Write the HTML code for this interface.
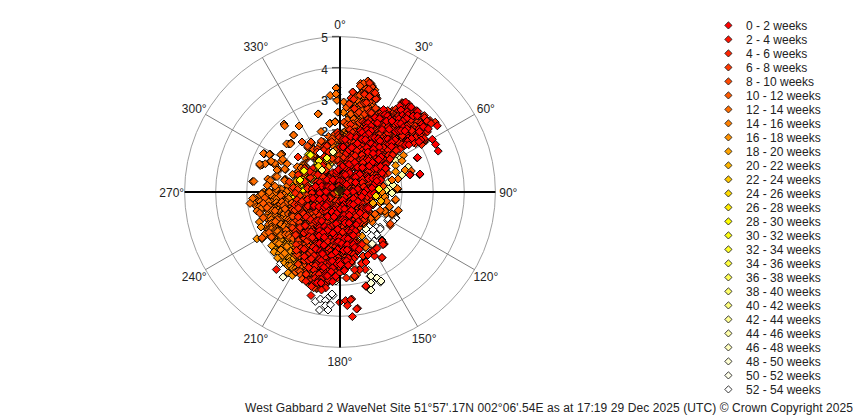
<!DOCTYPE html>
<html><head><meta charset="utf-8"><style>html,body{margin:0;padding:0;background:#fff;width:860px;height:415px;overflow:hidden;position:relative}</style></head>
<body><svg width="860" height="415" viewBox="0 0 860 415" style="position:absolute;left:0;top:0">
<g><circle cx="340" cy="192" r="31.1" fill="none" stroke="#a0a0a0" stroke-width="1"/><circle cx="340" cy="192" r="62.2" fill="none" stroke="#a0a0a0" stroke-width="1"/><circle cx="340" cy="192" r="93.2" fill="none" stroke="#a0a0a0" stroke-width="1"/><circle cx="340" cy="192" r="124.3" fill="none" stroke="#a0a0a0" stroke-width="1"/><circle cx="340" cy="192" r="155.4" fill="none" stroke="#a0a0a0" stroke-width="1"/><line x1="340" y1="192" x2="417.7" y2="57.4" stroke="#808080" stroke-width="1"/><line x1="340" y1="192" x2="474.6" y2="114.3" stroke="#808080" stroke-width="1"/><line x1="340" y1="192" x2="474.6" y2="269.7" stroke="#808080" stroke-width="1"/><line x1="340" y1="192" x2="417.7" y2="326.6" stroke="#808080" stroke-width="1"/><line x1="340" y1="192" x2="262.3" y2="326.6" stroke="#808080" stroke-width="1"/><line x1="340" y1="192" x2="205.4" y2="269.7" stroke="#808080" stroke-width="1"/><line x1="340" y1="192" x2="205.4" y2="114.3" stroke="#808080" stroke-width="1"/><line x1="340" y1="192" x2="262.3" y2="57.4" stroke="#808080" stroke-width="1"/></g>
<g><line x1="340" y1="36.599999999999994" x2="340" y2="347.4" stroke="#000" stroke-width="2"/><line x1="184.6" y1="192" x2="495.4" y2="192" stroke="#000" stroke-width="2"/></g>
<g fill="#222" font-family="Liberation Sans, sans-serif" font-size="12"><line x1="332" y1="160.9" x2="339" y2="160.9" stroke="#555" stroke-width="1.5"/><text x="328" y="166.7" text-anchor="end">1</text><line x1="332" y1="129.8" x2="339" y2="129.8" stroke="#555" stroke-width="1.5"/><text x="328" y="135.6" text-anchor="end">2</text><line x1="332" y1="98.8" x2="339" y2="98.8" stroke="#555" stroke-width="1.5"/><text x="328" y="104.6" text-anchor="end">3</text><line x1="332" y1="67.7" x2="339" y2="67.7" stroke="#555" stroke-width="1.5"/><text x="328" y="73.5" text-anchor="end">4</text><line x1="332" y1="36.6" x2="339" y2="36.6" stroke="#555" stroke-width="1.5"/><text x="328" y="42.4" text-anchor="end">5</text></g>
<g stroke="#000" stroke-width="0.95"><path d="M338.4 144.4L342.4 148.4L338.4 152.4L334.4 148.4Z" fill="#ffffff"/><path d="M331.9 158.8L335.9 162.8L331.9 166.8L327.9 162.8Z" fill="#ffffff"/><path d="M336.8 159.4L340.8 163.4L336.8 167.4L332.8 163.4Z" fill="#ffffff"/><path d="M318.3 163.3L322.3 167.3L318.3 171.3L314.3 167.3Z" fill="#ffffff"/><path d="M322.0 164.5L326.0 168.5L322.0 172.5L318.0 168.5Z" fill="#ffffff"/><path d="M293.4 177.8L297.4 181.8L293.4 185.8L289.4 181.8Z" fill="#ffffff"/><path d="M292.9 182.1L296.9 186.1L292.9 190.1L288.9 186.1Z" fill="#ffffff"/><path d="M387.7 216.5L391.7 220.5L387.7 224.5L383.7 220.5Z" fill="#ffffff"/><path d="M393.6 216.5L397.6 220.5L393.6 224.5L389.6 220.5Z" fill="#ffffff"/><path d="M396.0 214.0L400.0 218.0L396.0 222.0L392.0 218.0Z" fill="#ffffff"/><path d="M375.0 226.6L379.0 230.6L375.0 234.6L371.0 230.6Z" fill="#ffffff"/><path d="M380.0 223.2L384.0 227.2L380.0 231.2L376.0 227.2Z" fill="#ffffff"/><path d="M376.7 231.6L380.7 235.6L376.7 239.6L372.7 235.6Z" fill="#ffffff"/><path d="M315.3 297.4L319.3 301.4L315.3 305.4L311.3 301.4Z" fill="#ffffff"/><path d="M320.4 295.0L324.4 299.0L320.4 303.0L316.4 299.0Z" fill="#ffffff"/><path d="M325.4 296.6L329.4 300.6L325.4 304.6L321.4 300.6Z" fill="#ffffff"/><path d="M329.6 292.4L333.6 296.4L329.6 300.4L325.6 296.4Z" fill="#ffffff"/><path d="M333.0 291.5L337.0 295.5L333.0 299.5L329.0 295.5Z" fill="#ffffff"/><path d="M325.4 301.6L329.4 305.6L325.4 309.6L321.4 305.6Z" fill="#ffffff"/><path d="M330.5 300.8L334.5 304.8L330.5 308.8L326.5 304.8Z" fill="#ffffff"/><path d="M319.5 306.0L323.5 310.0L319.5 314.0L315.5 310.0Z" fill="#ffffff"/><path d="M328.0 306.0L332.0 310.0L328.0 314.0L324.0 310.0Z" fill="#ffffff"/><path d="M280.5 259.6L284.5 263.6L280.5 267.6L276.5 263.6Z" fill="#ffffff"/><path d="M332.0 290.0L336.0 294.0L332.0 298.0L328.0 294.0Z" fill="#ffffff"/><path d="M395.7 214.4L399.7 218.4L395.7 222.4L391.7 218.4Z" fill="#ffffff"/><path d="M388.5 215.3L392.5 219.3L388.5 223.3L384.5 219.3Z" fill="#ffffff"/><path d="M393.0 217.0L397.0 221.0L393.0 225.0L389.0 221.0Z" fill="#ffffff"/><path d="M376.7 223.4L380.7 227.4L376.7 231.4L372.7 227.4Z" fill="#ffffff"/><path d="M373.0 226.0L377.0 230.0L373.0 234.0L369.0 230.0Z" fill="#ffffff"/><path d="M380.3 225.0L384.3 229.0L380.3 233.0L376.3 229.0Z" fill="#ffffff"/><path d="M376.7 230.7L380.7 234.7L376.7 238.7L372.7 234.7Z" fill="#ffffff"/><path d="M371.3 231.6L375.3 235.6L371.3 239.6L367.3 235.6Z" fill="#ffffff"/><path d="M360.4 239.7L364.4 243.7L360.4 247.7L356.4 243.7Z" fill="#ffffff"/><path d="M314.5 169.3L318.5 173.3L314.5 177.3L310.5 173.3Z" fill="#ffffd4"/><path d="M320.4 171.4L324.4 175.4L320.4 179.4L316.4 175.4Z" fill="#ffffd4"/><path d="M298.5 175.2L302.5 179.2L298.5 183.2L294.5 179.2Z" fill="#ffffd4"/><path d="M314.5 175.9L318.5 179.9L314.5 183.9L310.5 179.9Z" fill="#ffffd4"/><path d="M307.9 177.1L311.9 181.1L307.9 185.1L303.9 181.1Z" fill="#ffffd4"/><path d="M310.9 180.6L314.9 184.6L310.9 188.6L306.9 184.6Z" fill="#ffffd4"/><path d="M317.4 150.5L321.4 154.5L317.4 158.5L313.4 154.5Z" fill="#ffffd4"/><path d="M310.3 157.7L314.3 161.7L310.3 165.7L306.3 161.7Z" fill="#ffffd4"/><path d="M372.5 241.0L376.5 245.0L372.5 249.0L368.5 245.0Z" fill="#ffffd4"/><path d="M372.0 241.0L376.0 245.0L372.0 249.0L368.0 245.0Z" fill="#ffffd4"/><path d="M368.5 266.4L372.5 270.4L368.5 274.4L364.5 270.4Z" fill="#ffffd4"/><path d="M354.2 263.8L358.2 267.8L354.2 271.8L350.2 267.8Z" fill="#ffffd4"/><path d="M370.2 272.3L374.2 276.3L370.2 280.3L366.2 276.3Z" fill="#ffffd4"/><path d="M376.1 274.0L380.1 278.0L376.1 282.0L372.1 278.0Z" fill="#ffffd4"/><path d="M380.4 278.2L384.4 282.2L380.4 286.2L376.4 282.2Z" fill="#ffffd4"/><path d="M371.0 279.8L375.0 283.8L371.0 287.8L367.0 283.8Z" fill="#ffffd4"/><path d="M370.2 285.7L374.2 289.7L370.2 293.7L366.2 289.7Z" fill="#ffffd4"/><path d="M283.0 273.1L287.0 277.1L283.0 281.1L279.0 277.1Z" fill="#ffffd4"/><path d="M371.0 240.2L375.0 244.2L371.0 248.2L367.0 244.2Z" fill="#ffffd4"/><path d="M371.0 272.0L375.0 276.0L371.0 280.0L367.0 276.0Z" fill="#ffffd4"/><path d="M377.0 274.0L381.0 278.0L377.0 282.0L373.0 278.0Z" fill="#ffffd4"/><path d="M381.0 277.0L385.0 281.0L381.0 285.0L377.0 281.0Z" fill="#ffffd4"/><path d="M371.0 279.0L375.0 283.0L371.0 287.0L367.0 283.0Z" fill="#ffffd4"/><path d="M371.0 286.0L375.0 290.0L371.0 294.0L367.0 290.0Z" fill="#ffffd4"/><path d="M336.0 277.0L340.0 281.0L336.0 285.0L332.0 281.0Z" fill="#ffffd4"/><path d="M372.2 239.7L376.2 243.7L372.2 247.7L368.2 243.7Z" fill="#ffffd4"/><path d="M366.0 225.0L370.0 229.0L366.0 233.0L362.0 229.0Z" fill="#ffffd4"/><path d="M340.8 148.3L344.8 152.3L340.8 156.3L336.8 152.3Z" fill="#ffffaa"/><path d="M330.1 150.0L334.1 154.0L330.1 158.0L326.1 154.0Z" fill="#ffffaa"/><path d="M317.4 161.3L321.4 165.3L317.4 169.3L313.4 165.3Z" fill="#ffffaa"/><path d="M319.5 168.5L323.5 172.5L319.5 176.5L315.5 172.5Z" fill="#ffffaa"/><path d="M311.4 179.3L315.4 183.3L311.4 187.3L307.4 183.3Z" fill="#ffffaa"/><path d="M319.0 149.7L323.0 153.7L319.0 157.7L315.0 153.7Z" fill="#ffffaa"/><path d="M388.5 187.0L392.5 191.0L388.5 195.0L384.5 191.0Z" fill="#ffffaa"/><path d="M392.0 188.6L396.0 192.6L392.0 196.6L388.0 192.6Z" fill="#ffffaa"/><path d="M383.5 197.0L387.5 201.0L383.5 205.0L379.5 201.0Z" fill="#ffffaa"/><path d="M380.0 196.0L384.0 200.0L380.0 204.0L376.0 200.0Z" fill="#ffffaa"/><path d="M409.8 131.7L413.8 135.7L409.8 139.7L405.8 135.7Z" fill="#ffffaa"/><path d="M413.0 127.8L417.0 131.8L413.0 135.8L409.0 131.8Z" fill="#ffffaa"/><path d="M425.5 127.8L429.5 131.8L425.5 135.8L421.5 131.8Z" fill="#ffffaa"/><path d="M425.5 137.0L429.5 141.0L425.5 145.0L421.5 141.0Z" fill="#ffffaa"/><path d="M397.0 152.8L401.0 156.8L397.0 160.8L393.0 156.8Z" fill="#ffffaa"/><path d="M400.4 154.4L404.4 158.4L400.4 162.4L396.4 158.4Z" fill="#ffffaa"/><path d="M408.2 163.0L412.2 167.0L408.2 171.0L404.2 167.0Z" fill="#ffffaa"/><path d="M402.0 170.9L406.0 174.9L402.0 178.9L398.0 174.9Z" fill="#ffffaa"/><path d="M395.7 156.8L399.7 160.8L395.7 164.8L391.7 160.8Z" fill="#ffffaa"/><path d="M388.5 184.6L392.5 188.6L388.5 192.6L384.5 188.6Z" fill="#ffffaa"/><path d="M392.0 189.0L396.0 193.0L392.0 197.0L388.0 193.0Z" fill="#ffffaa"/><path d="M384.8 191.0L388.8 195.0L384.8 199.0L380.8 195.0Z" fill="#ffffaa"/><path d="M388.5 178.0L392.5 182.0L388.5 186.0L384.5 182.0Z" fill="#ffffaa"/><path d="M393.0 181.0L397.0 185.0L393.0 189.0L389.0 185.0Z" fill="#ffffaa"/><path d="M337.3 142.7L341.3 146.7L337.3 150.7L333.3 146.7Z" fill="#ffff80"/><path d="M334.5 147.2L338.5 151.2L334.5 155.2L330.5 151.2Z" fill="#ffff80"/><path d="M333.9 150.9L337.9 154.9L333.9 158.9L329.9 154.9Z" fill="#ffff80"/><path d="M327.7 153.0L331.7 157.0L327.7 161.0L323.7 157.0Z" fill="#ffff80"/><path d="M325.2 164.9L329.2 168.9L325.2 172.9L321.2 168.9Z" fill="#ffff80"/><path d="M307.3 168.7L311.3 172.7L307.3 176.7L303.3 172.7Z" fill="#ffff80"/><path d="M300.8 171.8L304.8 175.8L300.8 179.8L296.8 175.8Z" fill="#ffff80"/><path d="M318.0 175.2L322.0 179.2L318.0 183.2L314.0 179.2Z" fill="#ffff80"/><path d="M297.8 181.2L301.8 185.2L297.8 189.2L293.8 185.2Z" fill="#ffff80"/><path d="M286.1 185.1L290.1 189.1L286.1 193.1L282.1 189.1Z" fill="#ffff80"/><path d="M386.0 186.0L390.0 190.0L386.0 194.0L382.0 190.0Z" fill="#ffff80"/><path d="M322.9 154.6L326.9 158.6L322.9 162.6L318.9 158.6Z" fill="#ffff55"/><path d="M322.1 157.2L326.1 161.2L322.1 165.2L318.1 161.2Z" fill="#ffff55"/><path d="M330.5 159.2L334.5 163.2L330.5 167.2L326.5 163.2Z" fill="#ffff55"/><path d="M297.2 175.5L301.2 179.5L297.2 183.5L293.2 179.5Z" fill="#ffff55"/><path d="M307.6 179.6L311.6 183.6L307.6 187.6L303.6 183.6Z" fill="#ffff55"/><path d="M294.5 187.7L298.5 191.7L294.5 195.7L290.5 191.7Z" fill="#ffff55"/><path d="M290.1 190.7L294.1 194.7L290.1 198.7L286.1 194.7Z" fill="#ffff55"/><path d="M328.8 149.4L332.8 153.4L328.8 157.4L324.8 153.4Z" fill="#ffff2a"/><path d="M325.8 155.5L329.8 159.5L325.8 163.5L321.8 159.5Z" fill="#ffff2a"/><path d="M307.5 172.8L311.5 176.8L307.5 180.8L303.5 176.8Z" fill="#ffff2a"/><path d="M311.8 173.2L315.8 177.2L311.8 181.2L307.8 177.2Z" fill="#ffff2a"/><path d="M313.5 176.0L317.5 180.0L313.5 184.0L309.5 180.0Z" fill="#ffff2a"/><path d="M304.2 181.3L308.2 185.3L304.2 189.3L300.2 185.3Z" fill="#ffff2a"/><path d="M342.8 151.0L346.8 155.0L342.8 159.0L338.8 155.0Z" fill="#ffff15"/><path d="M339.0 153.7L343.0 157.7L339.0 161.7L335.0 157.7Z" fill="#ffff15"/><path d="M326.7 162.5L330.7 166.5L326.7 170.5L322.7 166.5Z" fill="#ffff15"/><path d="M313.4 165.3L317.4 169.3L313.4 173.3L309.4 169.3Z" fill="#ffff15"/><path d="M305.6 179.5L309.6 183.5L305.6 187.5L301.6 183.5Z" fill="#ffff15"/><path d="M300.2 183.1L304.2 187.1L300.2 191.1L296.2 187.1Z" fill="#ffff15"/><path d="M336.6 150.1L340.6 154.1L336.6 158.1L332.6 154.1Z" fill="#ffff00"/><path d="M322.5 157.2L326.5 161.2L322.5 165.2L318.5 161.2Z" fill="#ffff00"/><path d="M323.9 162.7L327.9 166.7L323.9 170.7L319.9 166.7Z" fill="#ffff00"/><path d="M308.6 169.2L312.6 173.2L308.6 177.2L304.6 173.2Z" fill="#ffff00"/><path d="M325.4 167.6L329.4 171.6L325.4 175.6L321.4 171.6Z" fill="#ffff00"/><path d="M307.1 176.0L311.1 180.0L307.1 184.0L303.1 180.0Z" fill="#ffff00"/><path d="M290.4 179.9L294.4 183.9L290.4 187.9L286.4 183.9Z" fill="#ffff00"/><path d="M302.5 182.6L306.5 186.6L302.5 190.6L298.5 186.6Z" fill="#ffff00"/><path d="M342.4 184.3L346.4 188.3L342.4 192.3L338.4 188.3Z" fill="#ffff00"/><path d="M299.0 187.1L303.0 191.1L299.0 195.1L295.0 191.1Z" fill="#ffff00"/><path d="M304.1 186.5L308.1 190.5L304.1 194.5L300.1 190.5Z" fill="#ffff00"/><path d="M288.4 189.1L292.4 193.1L288.4 197.1L284.4 193.1Z" fill="#ffff00"/><path d="M338.9 193.3L342.9 197.3L338.9 201.3L334.9 197.3Z" fill="#ffff00"/><path d="M343.2 193.2L347.2 197.2L343.2 201.2L339.2 197.2Z" fill="#ffff00"/><path d="M310.7 150.5L314.7 154.5L310.7 158.5L306.7 154.5Z" fill="#ffff00"/><path d="M308.3 150.5L312.3 154.5L308.3 158.5L304.3 154.5Z" fill="#ffff00"/><path d="M302.4 161.5L306.4 165.5L302.4 169.5L298.4 165.5Z" fill="#ffff00"/><path d="M381.8 183.6L385.8 187.6L381.8 191.6L377.8 187.6Z" fill="#ffff00"/><path d="M380.3 183.7L384.3 187.7L380.3 191.7L376.3 187.7Z" fill="#ffff00"/><path d="M315.4 160.0L319.4 164.0L315.4 168.0L311.4 164.0Z" fill="#ffed00"/><path d="M315.0 163.9L319.0 167.9L315.0 171.9L311.0 167.9Z" fill="#ffed00"/><path d="M296.6 189.7L300.6 193.7L296.6 197.7L292.6 193.7Z" fill="#ffed00"/><path d="M294.3 193.3L298.3 197.3L294.3 201.3L290.3 197.3Z" fill="#ffed00"/><path d="M311.0 150.5L315.0 154.5L311.0 158.5L307.0 154.5Z" fill="#ffed00"/><path d="M300.7 164.8L304.7 168.8L300.7 172.8L296.7 168.8Z" fill="#ffed00"/><path d="M304.0 166.8L308.0 170.8L304.0 174.8L300.0 170.8Z" fill="#ffed00"/><path d="M377.6 189.0L381.6 193.0L377.6 197.0L373.6 193.0Z" fill="#ffed00"/><path d="M321.7 159.6L325.7 163.6L321.7 167.6L317.7 163.6Z" fill="#ffdb00"/><path d="M313.9 164.7L317.9 168.7L313.9 172.7L309.9 168.7Z" fill="#ffdb00"/><path d="M299.8 181.9L303.8 185.9L299.8 189.9L295.8 185.9Z" fill="#ffdb00"/><path d="M345.8 181.6L349.8 185.6L345.8 189.6L341.8 185.6Z" fill="#ffdb00"/><path d="M345.0 185.4L349.0 189.4L345.0 193.4L341.0 189.4Z" fill="#ffdb00"/><path d="M338.6 186.8L342.6 190.8L338.6 194.8L334.6 190.8Z" fill="#ffdb00"/><path d="M344.3 185.7L348.3 189.7L344.3 193.7L340.3 189.7Z" fill="#ffdb00"/><path d="M346.9 186.7L350.9 190.7L346.9 194.7L342.9 190.7Z" fill="#ffdb00"/><path d="M340.3 190.7L344.3 194.7L340.3 198.7L336.3 194.7Z" fill="#ffdb00"/><path d="M341.0 189.3L345.0 193.3L341.0 197.3L337.0 193.3Z" fill="#ffdb00"/><path d="M345.7 191.1L349.7 195.1L345.7 199.1L341.7 195.1Z" fill="#ffdb00"/><path d="M318.3 162.0L322.3 166.0L318.3 170.0L314.3 166.0Z" fill="#ffdb00"/><path d="M319.0 157.0L323.0 161.0L319.0 165.0L315.0 161.0Z" fill="#ffdb00"/><path d="M335.8 155.0L339.8 159.0L335.8 163.0L331.8 159.0Z" fill="#ffb600"/><path d="M327.0 161.2L331.0 165.2L327.0 169.2L323.0 165.2Z" fill="#ffb600"/><path d="M304.1 171.4L308.1 175.4L304.1 179.4L300.1 175.4Z" fill="#ffb600"/><path d="M315.8 171.1L319.8 175.1L315.8 179.1L311.8 175.1Z" fill="#ffb600"/><path d="M304.3 174.1L308.3 178.1L304.3 182.1L300.3 178.1Z" fill="#ffb600"/><path d="M292.0 187.9L296.0 191.9L292.0 195.9L288.0 191.9Z" fill="#ffb600"/><path d="M286.1 235.3L290.1 239.3L286.1 243.3L282.1 239.3Z" fill="#ffb600"/><path d="M279.4 236.6L283.4 240.6L279.4 244.6L275.4 240.6Z" fill="#ffb600"/><path d="M292.4 238.0L296.4 242.0L292.4 246.0L288.4 242.0Z" fill="#ffb600"/><path d="M275.4 242.4L279.4 246.4L275.4 250.4L271.4 246.4Z" fill="#ffb600"/><path d="M283.3 239.8L287.3 243.8L283.3 247.8L279.3 243.8Z" fill="#ffb600"/><path d="M290.0 240.0L294.0 244.0L290.0 248.0L286.0 244.0Z" fill="#ffb600"/><path d="M292.3 250.0L296.3 254.0L292.3 258.0L288.3 254.0Z" fill="#ffb600"/><path d="M293.6 259.8L297.6 263.8L293.6 267.8L289.6 263.8Z" fill="#ffb600"/><path d="M291.2 263.5L295.2 267.5L291.2 271.5L287.2 267.5Z" fill="#ffb600"/><path d="M281.5 235.5L285.5 239.5L281.5 243.5L277.5 239.5Z" fill="#ffa400"/><path d="M292.4 234.6L296.4 238.6L292.4 242.6L288.4 238.6Z" fill="#ffa400"/><path d="M282.5 236.9L286.5 240.9L282.5 244.9L278.5 240.9Z" fill="#ffa400"/><path d="M286.1 237.6L290.1 241.6L286.1 245.6L282.1 241.6Z" fill="#ffa400"/><path d="M290.8 237.2L294.8 241.2L290.8 245.2L286.8 241.2Z" fill="#ffa400"/><path d="M275.4 244.9L279.4 248.9L275.4 252.9L271.4 248.9Z" fill="#ffa400"/><path d="M292.7 245.4L296.7 249.4L292.7 253.4L288.7 249.4Z" fill="#ffa400"/><path d="M288.0 246.8L292.0 250.8L288.0 254.8L284.0 250.8Z" fill="#ffa400"/><path d="M280.8 254.0L284.8 258.0L280.8 262.0L276.8 258.0Z" fill="#ffa400"/><path d="M284.2 253.7L288.2 257.7L284.2 261.7L280.2 257.7Z" fill="#ffa400"/><path d="M291.6 252.6L295.6 256.6L291.6 260.6L287.6 256.6Z" fill="#ffa400"/><path d="M292.6 257.2L296.6 261.2L292.6 265.2L288.6 261.2Z" fill="#ffa400"/><path d="M331.0 155.8L335.0 159.8L331.0 163.8L327.0 159.8Z" fill="#ff9200"/><path d="M341.7 155.7L345.7 159.7L341.7 163.7L337.7 159.7Z" fill="#ff9200"/><path d="M328.4 162.9L332.4 166.9L328.4 170.9L324.4 166.9Z" fill="#ff9200"/><path d="M319.2 164.5L323.2 168.5L319.2 172.5L315.2 168.5Z" fill="#ff9200"/><path d="M296.2 177.3L300.2 181.3L296.2 185.3L292.2 181.3Z" fill="#ff9200"/><path d="M297.3 183.5L301.3 187.5L297.3 191.5L293.3 187.5Z" fill="#ff9200"/><path d="M274.9 235.8L278.9 239.8L274.9 243.8L270.9 239.8Z" fill="#ff9200"/><path d="M280.6 235.8L284.6 239.8L280.6 243.8L276.6 239.8Z" fill="#ff9200"/><path d="M274.5 239.0L278.5 243.0L274.5 247.0L270.5 243.0Z" fill="#ff9200"/><path d="M287.7 238.1L291.7 242.1L287.7 246.1L283.7 242.1Z" fill="#ff9200"/><path d="M271.7 241.7L275.7 245.7L271.7 249.7L267.7 245.7Z" fill="#ff9200"/><path d="M285.6 240.4L289.6 244.4L285.6 248.4L281.6 244.4Z" fill="#ff9200"/><path d="M288.1 240.3L292.1 244.3L288.1 248.3L284.1 244.3Z" fill="#ff9200"/><path d="M292.5 239.4L296.5 243.4L292.5 247.4L288.5 243.4Z" fill="#ff9200"/><path d="M279.6 245.2L283.6 249.2L279.6 253.2L275.6 249.2Z" fill="#ff9200"/><path d="M290.9 242.8L294.9 246.8L290.9 250.8L286.9 246.8Z" fill="#ff9200"/><path d="M274.0 247.9L278.0 251.9L274.0 255.9L270.0 251.9Z" fill="#ff9200"/><path d="M284.4 247.9L288.4 251.9L284.4 255.9L280.4 251.9Z" fill="#ff9200"/><path d="M290.0 246.8L294.0 250.8L290.0 254.8L286.0 250.8Z" fill="#ff9200"/><path d="M279.3 249.3L283.3 253.3L279.3 257.3L275.3 253.3Z" fill="#ff9200"/><path d="M286.6 251.5L290.6 255.5L286.6 259.5L282.6 255.5Z" fill="#ff9200"/><path d="M277.6 253.9L281.6 257.9L277.6 261.9L273.6 257.9Z" fill="#ff9200"/><path d="M289.6 254.2L293.6 258.2L289.6 262.2L285.6 258.2Z" fill="#ff9200"/><path d="M293.5 254.3L297.5 258.3L293.5 262.3L289.5 258.3Z" fill="#ff9200"/><path d="M284.7 258.7L288.7 262.7L284.7 266.7L280.7 262.7Z" fill="#ff9200"/><path d="M289.4 257.6L293.4 261.6L289.4 265.6L285.4 261.6Z" fill="#ff9200"/><path d="M290.1 259.5L294.1 263.5L290.1 267.5L286.1 263.5Z" fill="#ff9200"/><path d="M287.9 261.9L291.9 265.9L287.9 269.9L283.9 265.9Z" fill="#ff9200"/><path d="M292.5 261.6L296.5 265.6L292.5 269.6L288.5 265.6Z" fill="#ff9200"/><path d="M288.0 268.9L292.0 272.9L288.0 276.9L284.0 272.9Z" fill="#ff9200"/><path d="M292.3 271.4L296.3 275.4L292.3 279.4L288.3 275.4Z" fill="#ff9200"/><path d="M256.9 234.8L260.9 238.8L256.9 242.8L252.9 238.8Z" fill="#ff9200"/><path d="M262.0 234.8L266.0 238.8L262.0 242.8L258.0 238.8Z" fill="#ff9200"/><path d="M395.7 161.5L399.7 165.5L395.7 169.5L391.7 165.5Z" fill="#ff9200"/><path d="M395.7 167.7L399.7 171.7L395.7 175.7L391.7 171.7Z" fill="#ff9200"/><path d="M362.0 232.0L366.0 236.0L362.0 240.0L358.0 236.0Z" fill="#ff9200"/><path d="M374.6 88.8L378.6 92.8L374.6 96.8L370.6 92.8Z" fill="#ff8000"/><path d="M358.5 91.5L362.5 95.5L358.5 99.5L354.5 95.5Z" fill="#ff8000"/><path d="M375.8 91.1L379.8 95.1L375.8 99.1L371.8 95.1Z" fill="#ff8000"/><path d="M360.1 92.9L364.1 96.9L360.1 100.9L356.1 96.9Z" fill="#ff8000"/><path d="M361.8 97.8L365.8 101.8L361.8 105.8L357.8 101.8Z" fill="#ff8000"/><path d="M353.2 100.5L357.2 104.5L353.2 108.5L349.2 104.5Z" fill="#ff8000"/><path d="M355.4 102.0L359.4 106.0L355.4 110.0L351.4 106.0Z" fill="#ff8000"/><path d="M373.4 106.2L377.4 110.2L373.4 114.2L369.4 110.2Z" fill="#ff8000"/><path d="M343.4 108.5L347.4 112.5L343.4 116.5L339.4 112.5Z" fill="#ff8000"/><path d="M373.6 108.6L377.6 112.6L373.6 116.6L369.6 112.6Z" fill="#ff8000"/><path d="M348.9 112.0L352.9 116.0L348.9 120.0L344.9 116.0Z" fill="#ff8000"/><path d="M351.0 110.6L355.0 114.6L351.0 118.6L347.0 114.6Z" fill="#ff8000"/><path d="M354.2 113.3L358.2 117.3L354.2 121.3L350.2 117.3Z" fill="#ff8000"/><path d="M358.5 111.5L362.5 115.5L358.5 119.5L354.5 115.5Z" fill="#ff8000"/><path d="M365.0 111.6L369.0 115.6L365.0 119.6L361.0 115.6Z" fill="#ff8000"/><path d="M355.8 116.3L359.8 120.3L355.8 124.3L351.8 120.3Z" fill="#ff8000"/><path d="M367.4 113.9L371.4 117.9L367.4 121.9L363.4 117.9Z" fill="#ff8000"/><path d="M349.0 118.5L353.0 122.5L349.0 126.5L345.0 122.5Z" fill="#ff8000"/><path d="M354.3 117.9L358.3 121.9L354.3 125.9L350.3 121.9Z" fill="#ff8000"/><path d="M345.5 119.7L349.5 123.7L345.5 127.7L341.5 123.7Z" fill="#ff8000"/><path d="M343.2 128.6L347.2 132.6L343.2 136.6L339.2 132.6Z" fill="#ff8000"/><path d="M346.5 129.4L350.5 133.4L346.5 137.4L342.5 133.4Z" fill="#ff8000"/><path d="M295.3 170.1L299.3 174.1L295.3 178.1L291.3 174.1Z" fill="#ff8000"/><path d="M285.4 175.0L289.4 179.0L285.4 183.0L281.4 179.0Z" fill="#ff8000"/><path d="M280.0 184.6L284.0 188.6L280.0 192.6L276.0 188.6Z" fill="#ff8000"/><path d="M263.8 187.9L267.8 191.9L263.8 195.9L259.8 191.9Z" fill="#ff8000"/><path d="M285.2 186.8L289.2 190.8L285.2 194.8L281.2 190.8Z" fill="#ff8000"/><path d="M272.5 188.9L276.5 192.9L272.5 196.9L268.5 192.9Z" fill="#ff8000"/><path d="M278.5 189.1L282.5 193.1L278.5 197.1L274.5 193.1Z" fill="#ff8000"/><path d="M260.9 194.3L264.9 198.3L260.9 202.3L256.9 198.3Z" fill="#ff8000"/><path d="M280.2 192.4L284.2 196.4L280.2 200.4L276.2 196.4Z" fill="#ff8000"/><path d="M279.5 197.2L283.5 201.2L279.5 205.2L275.5 201.2Z" fill="#ff8000"/><path d="M256.6 200.4L260.6 204.4L256.6 208.4L252.6 204.4Z" fill="#ff8000"/><path d="M265.6 199.2L269.6 203.2L265.6 207.2L261.6 203.2Z" fill="#ff8000"/><path d="M295.2 203.0L299.2 207.0L295.2 211.0L291.2 207.0Z" fill="#ff8000"/><path d="M262.3 205.1L266.3 209.1L262.3 213.1L258.3 209.1Z" fill="#ff8000"/><path d="M262.5 205.1L266.5 209.1L262.5 213.1L258.5 209.1Z" fill="#ff8000"/><path d="M275.2 205.7L279.2 209.7L275.2 213.7L271.2 209.7Z" fill="#ff8000"/><path d="M282.4 204.4L286.4 208.4L282.4 212.4L278.4 208.4Z" fill="#ff8000"/><path d="M286.5 209.5L290.5 213.5L286.5 217.5L282.5 213.5Z" fill="#ff8000"/><path d="M300.8 207.8L304.8 211.8L300.8 215.8L296.8 211.8Z" fill="#ff8000"/><path d="M272.3 211.0L276.3 215.0L272.3 219.0L268.3 215.0Z" fill="#ff8000"/><path d="M279.4 211.1L283.4 215.1L279.4 219.1L275.4 215.1Z" fill="#ff8000"/><path d="M269.9 217.6L273.9 221.6L269.9 225.6L265.9 221.6Z" fill="#ff8000"/><path d="M271.7 217.4L275.7 221.4L271.7 225.4L267.7 221.4Z" fill="#ff8000"/><path d="M283.4 216.5L287.4 220.5L283.4 224.5L279.4 220.5Z" fill="#ff8000"/><path d="M284.2 216.5L288.2 220.5L284.2 224.5L280.2 220.5Z" fill="#ff8000"/><path d="M287.9 217.5L291.9 221.5L287.9 225.5L283.9 221.5Z" fill="#ff8000"/><path d="M266.4 224.0L270.4 228.0L266.4 232.0L262.4 228.0Z" fill="#ff8000"/><path d="M272.1 221.9L276.1 225.9L272.1 229.9L268.1 225.9Z" fill="#ff8000"/><path d="M277.5 221.6L281.5 225.6L277.5 229.6L273.5 225.6Z" fill="#ff8000"/><path d="M282.7 222.7L286.7 226.7L282.7 230.7L278.7 226.7Z" fill="#ff8000"/><path d="M296.4 223.2L300.4 227.2L296.4 231.2L292.4 227.2Z" fill="#ff8000"/><path d="M281.3 225.1L285.3 229.1L281.3 233.1L277.3 229.1Z" fill="#ff8000"/><path d="M294.6 227.2L298.6 231.2L294.6 235.2L290.6 231.2Z" fill="#ff8000"/><path d="M272.9 228.7L276.9 232.7L272.9 236.7L268.9 232.7Z" fill="#ff8000"/><path d="M263.9 232.4L267.9 236.4L263.9 240.4L259.9 236.4Z" fill="#ff8000"/><path d="M266.5 230.5L270.5 234.5L266.5 238.5L262.5 234.5Z" fill="#ff8000"/><path d="M276.4 230.9L280.4 234.9L276.4 238.9L272.4 234.9Z" fill="#ff8000"/><path d="M278.9 230.5L282.9 234.5L278.9 238.5L274.9 234.5Z" fill="#ff8000"/><path d="M287.6 233.8L291.6 237.8L287.6 241.8L283.6 237.8Z" fill="#ff8000"/><path d="M276.6 238.5L280.6 242.5L276.6 246.5L272.6 242.5Z" fill="#ff8000"/><path d="M298.2 238.8L302.2 242.8L298.2 246.8L294.2 242.8Z" fill="#ff8000"/><path d="M279.1 239.6L283.1 243.6L279.1 247.6L275.1 243.6Z" fill="#ff8000"/><path d="M281.9 244.1L285.9 248.1L281.9 252.1L277.9 248.1Z" fill="#ff8000"/><path d="M285.6 245.0L289.6 249.0L285.6 253.0L281.6 249.0Z" fill="#ff8000"/><path d="M286.9 242.5L290.9 246.5L286.9 250.5L282.9 246.5Z" fill="#ff8000"/><path d="M280.9 245.9L284.9 249.9L280.9 253.9L276.9 249.9Z" fill="#ff8000"/><path d="M301.9 246.0L305.9 250.0L301.9 254.0L297.9 250.0Z" fill="#ff8000"/><path d="M282.5 251.3L286.5 255.3L282.5 259.3L278.5 255.3Z" fill="#ff8000"/><path d="M284.7 249.2L288.7 253.2L284.7 257.2L280.7 253.2Z" fill="#ff8000"/><path d="M290.5 261.8L294.5 265.8L290.5 269.8L286.5 265.8Z" fill="#ff8000"/><path d="M298.3 261.1L302.3 265.1L298.3 269.1L294.3 265.1Z" fill="#ff8000"/><path d="M292.9 264.3L296.9 268.3L292.9 272.3L288.9 268.3Z" fill="#ff8000"/><path d="M295.9 264.3L299.9 268.3L295.9 272.3L291.9 268.3Z" fill="#ff8000"/><path d="M302.2 267.6L306.2 271.6L302.2 275.6L298.2 271.6Z" fill="#ff8000"/><path d="M304.4 269.9L308.4 273.9L304.4 277.9L300.4 273.9Z" fill="#ff8000"/><path d="M397.7 185.1L401.7 189.1L397.7 193.1L393.7 189.1Z" fill="#ff8000"/><path d="M259.4 218.0L263.4 222.0L259.4 226.0L255.4 222.0Z" fill="#ff8000"/><path d="M261.0 223.0L265.0 227.0L261.0 231.0L257.0 227.0Z" fill="#ff8000"/><path d="M394.0 149.7L398.0 153.7L394.0 157.7L390.0 153.7Z" fill="#ff8000"/><path d="M403.5 151.3L407.5 155.3L403.5 159.3L399.5 155.3Z" fill="#ff8000"/><path d="M402.0 156.8L406.0 160.8L402.0 164.8L398.0 160.8Z" fill="#ff8000"/><path d="M405.0 166.0L409.0 170.0L405.0 174.0L401.0 170.0Z" fill="#ff8000"/><path d="M380.3 192.7L384.3 196.7L380.3 200.7L376.3 196.7Z" fill="#ff8000"/><path d="M382.0 188.0L386.0 192.0L382.0 196.0L378.0 192.0Z" fill="#ff8000"/><path d="M385.0 193.0L389.0 197.0L385.0 201.0L381.0 197.0Z" fill="#ff8000"/><path d="M357.0 237.0L361.0 241.0L357.0 245.0L353.0 241.0Z" fill="#ff8000"/><path d="M366.6 79.0L370.6 83.0L366.6 87.0L362.6 83.0Z" fill="#ff6d00"/><path d="M370.9 79.4L374.9 83.4L370.9 87.4L366.9 83.4Z" fill="#ff6d00"/><path d="M363.7 83.1L367.7 87.1L363.7 91.1L359.7 87.1Z" fill="#ff6d00"/><path d="M365.8 83.2L369.8 87.2L365.8 91.2L361.8 87.2Z" fill="#ff6d00"/><path d="M372.2 83.1L376.2 87.1L372.2 91.1L368.2 87.1Z" fill="#ff6d00"/><path d="M367.8 87.7L371.8 91.7L367.8 95.7L363.8 91.7Z" fill="#ff6d00"/><path d="M367.9 91.8L371.9 95.8L367.9 99.8L363.9 95.8Z" fill="#ff6d00"/><path d="M376.4 93.6L380.4 97.6L376.4 101.6L372.4 97.6Z" fill="#ff6d00"/><path d="M355.1 96.0L359.1 100.0L355.1 104.0L351.1 100.0Z" fill="#ff6d00"/><path d="M359.0 98.6L363.0 102.6L359.0 106.6L355.0 102.6Z" fill="#ff6d00"/><path d="M366.8 96.6L370.8 100.6L366.8 104.6L362.8 100.6Z" fill="#ff6d00"/><path d="M349.8 100.6L353.8 104.6L349.8 108.6L345.8 104.6Z" fill="#ff6d00"/><path d="M356.3 101.0L360.3 105.0L356.3 109.0L352.3 105.0Z" fill="#ff6d00"/><path d="M351.2 104.3L355.2 108.3L351.2 112.3L347.2 108.3Z" fill="#ff6d00"/><path d="M362.5 102.0L366.5 106.0L362.5 110.0L358.5 106.0Z" fill="#ff6d00"/><path d="M371.9 103.0L375.9 107.0L371.9 111.0L367.9 107.0Z" fill="#ff6d00"/><path d="M358.5 104.8L362.5 108.8L358.5 112.8L354.5 108.8Z" fill="#ff6d00"/><path d="M368.2 105.1L372.2 109.1L368.2 113.1L364.2 109.1Z" fill="#ff6d00"/><path d="M378.5 106.2L382.5 110.2L378.5 114.2L374.5 110.2Z" fill="#ff6d00"/><path d="M354.2 108.1L358.2 112.1L354.2 116.1L350.2 112.1Z" fill="#ff6d00"/><path d="M362.8 110.1L366.8 114.1L362.8 118.1L358.8 114.1Z" fill="#ff6d00"/><path d="M350.9 116.6L354.9 120.6L350.9 124.6L346.9 120.6Z" fill="#ff6d00"/><path d="M361.1 113.9L365.1 117.9L361.1 121.9L357.1 117.9Z" fill="#ff6d00"/><path d="M363.1 114.7L367.1 118.7L363.1 122.7L359.1 118.7Z" fill="#ff6d00"/><path d="M351.1 117.6L355.1 121.6L351.1 125.6L347.1 121.6Z" fill="#ff6d00"/><path d="M357.1 120.5L361.1 124.5L357.1 128.5L353.1 124.5Z" fill="#ff6d00"/><path d="M350.3 124.2L354.3 128.2L350.3 132.2L346.3 128.2Z" fill="#ff6d00"/><path d="M357.0 123.9L361.0 127.9L357.0 131.9L353.0 127.9Z" fill="#ff6d00"/><path d="M358.9 122.5L362.9 126.5L358.9 130.5L354.9 126.5Z" fill="#ff6d00"/><path d="M345.8 126.7L349.8 130.7L345.8 134.7L341.8 130.7Z" fill="#ff6d00"/><path d="M349.2 126.7L353.2 130.7L349.2 134.7L345.2 130.7Z" fill="#ff6d00"/><path d="M341.1 130.7L345.1 134.7L341.1 138.7L337.1 134.7Z" fill="#ff6d00"/><path d="M345.8 130.9L349.8 134.9L345.8 138.9L341.8 134.9Z" fill="#ff6d00"/><path d="M335.6 132.5L339.6 136.5L335.6 140.5L331.6 136.5Z" fill="#ff6d00"/><path d="M344.8 133.0L348.8 137.0L344.8 141.0L340.8 137.0Z" fill="#ff6d00"/><path d="M330.7 137.2L334.7 141.2L330.7 145.2L326.7 141.2Z" fill="#ff6d00"/><path d="M323.8 138.2L327.8 142.2L323.8 146.2L319.8 142.2Z" fill="#ff6d00"/><path d="M329.5 139.4L333.5 143.4L329.5 147.4L325.5 143.4Z" fill="#ff6d00"/><path d="M332.6 141.3L336.6 145.3L332.6 149.3L328.6 145.3Z" fill="#ff6d00"/><path d="M337.0 144.5L341.0 148.5L337.0 152.5L333.0 148.5Z" fill="#ff6d00"/><path d="M323.0 147.9L327.0 151.9L323.0 155.9L319.0 151.9Z" fill="#ff6d00"/><path d="M335.1 146.4L339.1 150.4L335.1 154.4L331.1 150.4Z" fill="#ff6d00"/><path d="M306.0 154.6L310.0 158.6L306.0 162.6L302.0 158.6Z" fill="#ff6d00"/><path d="M315.0 153.0L319.0 157.0L315.0 161.0L311.0 157.0Z" fill="#ff6d00"/><path d="M329.2 154.9L333.2 158.9L329.2 162.9L325.2 158.9Z" fill="#ff6d00"/><path d="M302.6 160.8L306.6 164.8L302.6 168.8L298.6 164.8Z" fill="#ff6d00"/><path d="M305.9 159.3L309.9 163.3L305.9 167.3L301.9 163.3Z" fill="#ff6d00"/><path d="M297.2 162.8L301.2 166.8L297.2 170.8L293.2 166.8Z" fill="#ff6d00"/><path d="M298.7 167.5L302.7 171.5L298.7 175.5L294.7 171.5Z" fill="#ff6d00"/><path d="M292.5 170.4L296.5 174.4L292.5 178.4L288.5 174.4Z" fill="#ff6d00"/><path d="M287.5 181.4L291.5 185.4L287.5 189.4L283.5 185.4Z" fill="#ff6d00"/><path d="M281.8 185.4L285.8 189.4L281.8 193.4L277.8 189.4Z" fill="#ff6d00"/><path d="M268.1 188.1L272.1 192.1L268.1 196.1L264.1 192.1Z" fill="#ff6d00"/><path d="M268.7 188.2L272.7 192.2L268.7 196.2L264.7 192.2Z" fill="#ff6d00"/><path d="M275.0 186.7L279.0 190.7L275.0 194.7L271.0 190.7Z" fill="#ff6d00"/><path d="M286.8 187.4L290.8 191.4L286.8 195.4L282.8 191.4Z" fill="#ff6d00"/><path d="M259.6 191.5L263.6 195.5L259.6 199.5L255.6 195.5Z" fill="#ff6d00"/><path d="M270.4 188.6L274.4 192.6L270.4 196.6L266.4 192.6Z" fill="#ff6d00"/><path d="M274.8 189.1L278.8 193.1L274.8 197.1L270.8 193.1Z" fill="#ff6d00"/><path d="M281.3 189.8L285.3 193.8L281.3 197.8L277.3 193.8Z" fill="#ff6d00"/><path d="M284.0 190.9L288.0 194.9L284.0 198.9L280.0 194.9Z" fill="#ff6d00"/><path d="M307.1 190.2L311.1 194.2L307.1 198.2L303.1 194.2Z" fill="#ff6d00"/><path d="M268.0 192.0L272.0 196.0L268.0 200.0L264.0 196.0Z" fill="#ff6d00"/><path d="M272.4 192.4L276.4 196.4L272.4 200.4L268.4 196.4Z" fill="#ff6d00"/><path d="M274.5 194.6L278.5 198.6L274.5 202.6L270.5 198.6Z" fill="#ff6d00"/><path d="M286.5 193.6L290.5 197.6L286.5 201.6L282.5 197.6Z" fill="#ff6d00"/><path d="M304.5 191.8L308.5 195.8L304.5 199.8L300.5 195.8Z" fill="#ff6d00"/><path d="M309.9 192.3L313.9 196.3L309.9 200.3L305.9 196.3Z" fill="#ff6d00"/><path d="M256.8 196.2L260.8 200.2L256.8 204.2L252.8 200.2Z" fill="#ff6d00"/><path d="M260.4 197.5L264.4 201.5L260.4 205.5L256.4 201.5Z" fill="#ff6d00"/><path d="M276.5 195.1L280.5 199.1L276.5 203.1L272.5 199.1Z" fill="#ff6d00"/><path d="M283.2 195.5L287.2 199.5L283.2 203.5L279.2 199.5Z" fill="#ff6d00"/><path d="M285.5 196.4L289.5 200.4L285.5 204.4L281.5 200.4Z" fill="#ff6d00"/><path d="M288.6 194.6L292.6 198.6L288.6 202.6L284.6 198.6Z" fill="#ff6d00"/><path d="M262.2 200.5L266.2 204.5L262.2 208.5L258.2 204.5Z" fill="#ff6d00"/><path d="M271.3 199.9L275.3 203.9L271.3 207.9L267.3 203.9Z" fill="#ff6d00"/><path d="M271.7 198.1L275.7 202.1L271.7 206.1L267.7 202.1Z" fill="#ff6d00"/><path d="M276.4 198.6L280.4 202.6L276.4 206.6L272.4 202.6Z" fill="#ff6d00"/><path d="M286.6 198.1L290.6 202.1L286.6 206.1L282.6 202.1Z" fill="#ff6d00"/><path d="M308.3 198.0L312.3 202.0L308.3 206.0L304.3 202.0Z" fill="#ff6d00"/><path d="M255.9 202.0L259.9 206.0L255.9 210.0L251.9 206.0Z" fill="#ff6d00"/><path d="M264.4 203.0L268.4 207.0L264.4 211.0L260.4 207.0Z" fill="#ff6d00"/><path d="M266.3 202.9L270.3 206.9L266.3 210.9L262.3 206.9Z" fill="#ff6d00"/><path d="M271.6 203.4L275.6 207.4L271.6 211.4L267.6 207.4Z" fill="#ff6d00"/><path d="M276.6 202.6L280.6 206.6L276.6 210.6L272.6 206.6Z" fill="#ff6d00"/><path d="M279.4 200.6L283.4 204.6L279.4 208.6L275.4 204.6Z" fill="#ff6d00"/><path d="M283.9 202.3L287.9 206.3L283.9 210.3L279.9 206.3Z" fill="#ff6d00"/><path d="M288.6 201.3L292.6 205.3L288.6 209.3L284.6 205.3Z" fill="#ff6d00"/><path d="M292.1 202.3L296.1 206.3L292.1 210.3L288.1 206.3Z" fill="#ff6d00"/><path d="M307.1 202.9L311.1 206.9L307.1 210.9L303.1 206.9Z" fill="#ff6d00"/><path d="M270.1 204.2L274.1 208.2L270.1 212.2L266.1 208.2Z" fill="#ff6d00"/><path d="M273.6 205.1L277.6 209.1L273.6 213.1L269.6 209.1Z" fill="#ff6d00"/><path d="M279.4 204.6L283.4 208.6L279.4 212.6L275.4 208.6Z" fill="#ff6d00"/><path d="M286.5 205.7L290.5 209.7L286.5 213.7L282.5 209.7Z" fill="#ff6d00"/><path d="M300.1 204.9L304.1 208.9L300.1 212.9L296.1 208.9Z" fill="#ff6d00"/><path d="M302.2 204.8L306.2 208.8L302.2 212.8L298.2 208.8Z" fill="#ff6d00"/><path d="M268.4 206.6L272.4 210.6L268.4 214.6L264.4 210.6Z" fill="#ff6d00"/><path d="M268.5 207.3L272.5 211.3L268.5 215.3L264.5 211.3Z" fill="#ff6d00"/><path d="M272.5 206.5L276.5 210.5L272.5 214.5L268.5 210.5Z" fill="#ff6d00"/><path d="M280.0 208.0L284.0 212.0L280.0 216.0L276.0 212.0Z" fill="#ff6d00"/><path d="M281.0 207.7L285.0 211.7L281.0 215.7L277.0 211.7Z" fill="#ff6d00"/><path d="M285.8 206.9L289.8 210.9L285.8 214.9L281.8 210.9Z" fill="#ff6d00"/><path d="M297.4 208.3L301.4 212.3L297.4 216.3L293.4 212.3Z" fill="#ff6d00"/><path d="M267.2 211.2L271.2 215.2L267.2 219.2L263.2 215.2Z" fill="#ff6d00"/><path d="M271.5 211.5L275.5 215.5L271.5 219.5L267.5 215.5Z" fill="#ff6d00"/><path d="M275.0 211.4L279.0 215.4L275.0 219.4L271.0 215.4Z" fill="#ff6d00"/><path d="M282.6 209.9L286.6 213.9L282.6 217.9L278.6 213.9Z" fill="#ff6d00"/><path d="M284.1 209.9L288.1 213.9L284.1 217.9L280.1 213.9Z" fill="#ff6d00"/><path d="M299.9 209.8L303.9 213.8L299.9 217.8L295.9 213.8Z" fill="#ff6d00"/><path d="M307.4 209.5L311.4 213.5L307.4 217.5L303.4 213.5Z" fill="#ff6d00"/><path d="M266.6 213.9L270.6 217.9L266.6 221.9L262.6 217.9Z" fill="#ff6d00"/><path d="M270.6 212.9L274.6 216.9L270.6 220.9L266.6 216.9Z" fill="#ff6d00"/><path d="M271.4 215.6L275.4 219.6L271.4 223.6L267.4 219.6Z" fill="#ff6d00"/><path d="M279.2 214.1L283.2 218.1L279.2 222.1L275.2 218.1Z" fill="#ff6d00"/><path d="M281.7 215.0L285.7 219.0L281.7 223.0L277.7 219.0Z" fill="#ff6d00"/><path d="M286.5 214.6L290.5 218.6L286.5 222.6L282.5 218.6Z" fill="#ff6d00"/><path d="M291.8 214.2L295.8 218.2L291.8 222.2L287.8 218.2Z" fill="#ff6d00"/><path d="M308.6 214.4L312.6 218.4L308.6 222.4L304.6 218.4Z" fill="#ff6d00"/><path d="M279.6 215.9L283.6 219.9L279.6 223.9L275.6 219.9Z" fill="#ff6d00"/><path d="M295.1 215.9L299.1 219.9L295.1 223.9L291.1 219.9Z" fill="#ff6d00"/><path d="M268.6 220.3L272.6 224.3L268.6 228.3L264.6 224.3Z" fill="#ff6d00"/><path d="M271.8 219.2L275.8 223.2L271.8 227.2L267.8 223.2Z" fill="#ff6d00"/><path d="M275.2 220.0L279.2 224.0L275.2 228.0L271.2 224.0Z" fill="#ff6d00"/><path d="M280.4 220.3L284.4 224.3L280.4 228.3L276.4 224.3Z" fill="#ff6d00"/><path d="M281.1 220.2L285.1 224.2L281.1 228.2L277.1 224.2Z" fill="#ff6d00"/><path d="M286.0 219.9L290.0 223.9L286.0 227.9L282.0 223.9Z" fill="#ff6d00"/><path d="M286.8 219.6L290.8 223.6L286.8 227.6L282.8 223.6Z" fill="#ff6d00"/><path d="M299.1 220.5L303.1 224.5L299.1 228.5L295.1 224.5Z" fill="#ff6d00"/><path d="M271.1 223.1L275.1 227.1L271.1 231.1L267.1 227.1Z" fill="#ff6d00"/><path d="M275.1 223.7L279.1 227.7L275.1 231.7L271.1 227.7Z" fill="#ff6d00"/><path d="M284.4 222.6L288.4 226.6L284.4 230.6L280.4 226.6Z" fill="#ff6d00"/><path d="M289.2 222.2L293.2 226.2L289.2 230.2L285.2 226.2Z" fill="#ff6d00"/><path d="M267.7 225.8L271.7 229.8L267.7 233.8L263.7 229.8Z" fill="#ff6d00"/><path d="M269.1 225.6L273.1 229.6L269.1 233.6L265.1 229.6Z" fill="#ff6d00"/><path d="M271.5 225.2L275.5 229.2L271.5 233.2L267.5 229.2Z" fill="#ff6d00"/><path d="M275.3 226.2L279.3 230.2L275.3 234.2L271.3 230.2Z" fill="#ff6d00"/><path d="M279.6 227.2L283.6 231.2L279.6 235.2L275.6 231.2Z" fill="#ff6d00"/><path d="M287.7 226.9L291.7 230.9L287.7 234.9L283.7 230.9Z" fill="#ff6d00"/><path d="M291.1 224.6L295.1 228.6L291.1 232.6L287.1 228.6Z" fill="#ff6d00"/><path d="M265.1 230.0L269.1 234.0L265.1 238.0L261.1 234.0Z" fill="#ff6d00"/><path d="M275.8 227.7L279.8 231.7L275.8 235.7L271.8 231.7Z" fill="#ff6d00"/><path d="M277.8 227.4L281.8 231.4L277.8 235.4L273.8 231.4Z" fill="#ff6d00"/><path d="M281.8 229.7L285.8 233.7L281.8 237.7L277.8 233.7Z" fill="#ff6d00"/><path d="M285.2 229.1L289.2 233.1L285.2 237.1L281.2 233.1Z" fill="#ff6d00"/><path d="M287.7 227.8L291.7 231.8L287.7 235.8L283.7 231.8Z" fill="#ff6d00"/><path d="M290.1 230.0L294.1 234.0L290.1 238.0L286.1 234.0Z" fill="#ff6d00"/><path d="M304.7 229.4L308.7 233.4L304.7 237.4L300.7 233.4Z" fill="#ff6d00"/><path d="M272.4 232.5L276.4 236.5L272.4 240.5L268.4 236.5Z" fill="#ff6d00"/><path d="M280.9 231.4L284.9 235.4L280.9 239.4L276.9 235.4Z" fill="#ff6d00"/><path d="M295.0 231.7L299.0 235.7L295.0 239.7L291.0 235.7Z" fill="#ff6d00"/><path d="M271.4 233.5L275.4 237.5L271.4 241.5L267.4 237.5Z" fill="#ff6d00"/><path d="M314.2 238.4L318.2 242.4L314.2 246.4L310.2 242.4Z" fill="#ff6d00"/><path d="M303.0 239.9L307.0 243.9L303.0 247.9L299.0 243.9Z" fill="#ff6d00"/><path d="M295.5 243.6L299.5 247.6L295.5 251.6L291.5 247.6Z" fill="#ff6d00"/><path d="M295.6 248.6L299.6 252.6L295.6 256.6L291.6 252.6Z" fill="#ff6d00"/><path d="M308.0 246.8L312.0 250.8L308.0 254.8L304.0 250.8Z" fill="#ff6d00"/><path d="M298.2 253.7L302.2 257.7L298.2 261.7L294.2 257.7Z" fill="#ff6d00"/><path d="M300.0 256.5L304.0 260.5L300.0 264.5L296.0 260.5Z" fill="#ff6d00"/><path d="M299.9 258.1L303.9 262.1L299.9 266.1L295.9 262.1Z" fill="#ff6d00"/><path d="M302.3 261.7L306.3 265.7L302.3 269.7L298.3 265.7Z" fill="#ff6d00"/><path d="M302.6 264.7L306.6 268.7L302.6 272.7L298.6 268.7Z" fill="#ff6d00"/><path d="M295.6 268.2L299.6 272.2L295.6 276.2L291.6 272.2Z" fill="#ff6d00"/><path d="M312.9 267.7L316.9 271.7L312.9 275.7L308.9 271.7Z" fill="#ff6d00"/><path d="M308.7 279.8L312.7 283.8L308.7 287.8L304.7 283.8Z" fill="#ff6d00"/><path d="M318.4 109.9L322.4 113.9L318.4 117.9L314.4 113.9Z" fill="#ff6d00"/><path d="M330.2 91.4L334.2 95.4L330.2 99.4L326.2 95.4Z" fill="#ff6d00"/><path d="M337.0 83.8L341.0 87.8L337.0 91.8L333.0 87.8Z" fill="#ff6d00"/><path d="M337.0 90.5L341.0 94.5L337.0 98.5L333.0 94.5Z" fill="#ff6d00"/><path d="M337.0 96.4L341.0 100.4L337.0 104.4L333.0 100.4Z" fill="#ff6d00"/><path d="M337.8 108.2L341.8 112.2L337.8 116.2L333.8 112.2Z" fill="#ff6d00"/><path d="M330.2 119.2L334.2 123.2L330.2 127.2L326.2 123.2Z" fill="#ff6d00"/><path d="M335.3 117.5L339.3 121.5L335.3 125.5L331.3 121.5Z" fill="#ff6d00"/><path d="M321.0 127.6L325.0 131.6L321.0 135.6L317.0 131.6Z" fill="#ff6d00"/><path d="M284.0 120.0L288.0 124.0L284.0 128.0L280.0 124.0Z" fill="#ff6d00"/><path d="M299.0 122.0L303.0 126.0L299.0 130.0L295.0 126.0Z" fill="#ff6d00"/><path d="M293.5 131.0L297.5 135.0L293.5 139.0L289.5 135.0Z" fill="#ff6d00"/><path d="M289.0 140.0L293.0 144.0L289.0 148.0L285.0 144.0Z" fill="#ff6d00"/><path d="M291.0 139.0L295.0 143.0L291.0 147.0L287.0 143.0Z" fill="#ff6d00"/><path d="M264.0 150.0L268.0 154.0L264.0 158.0L260.0 154.0Z" fill="#ff6d00"/><path d="M270.0 150.0L274.0 154.0L270.0 158.0L266.0 154.0Z" fill="#ff6d00"/><path d="M282.0 150.0L286.0 154.0L282.0 158.0L278.0 154.0Z" fill="#ff6d00"/><path d="M262.0 161.0L266.0 165.0L262.0 169.0L258.0 165.0Z" fill="#ff6d00"/><path d="M271.0 157.5L275.0 161.5L271.0 165.5L267.0 161.5Z" fill="#ff6d00"/><path d="M275.0 161.0L279.0 165.0L275.0 169.0L271.0 165.0Z" fill="#ff6d00"/><path d="M284.7 121.8L288.7 125.8L284.7 129.8L280.7 125.8Z" fill="#ff6d00"/><path d="M293.6 131.1L297.6 135.1L293.6 139.1L289.6 135.1Z" fill="#ff6d00"/><path d="M264.5 149.7L268.5 153.7L264.5 157.7L260.5 153.7Z" fill="#ff6d00"/><path d="M270.4 150.5L274.4 154.5L270.4 158.5L266.4 154.5Z" fill="#ff6d00"/><path d="M281.3 151.0L285.3 155.0L281.3 159.0L277.3 155.0Z" fill="#ff6d00"/><path d="M260.2 161.5L264.2 165.5L260.2 169.5L256.2 165.5Z" fill="#ff6d00"/><path d="M265.3 159.8L269.3 163.8L265.3 167.8L261.3 163.8Z" fill="#ff6d00"/><path d="M270.4 157.3L274.4 161.3L270.4 165.3L266.4 161.3Z" fill="#ff6d00"/><path d="M274.6 159.0L278.6 163.0L274.6 167.0L270.6 163.0Z" fill="#ff6d00"/><path d="M281.3 157.3L285.3 161.3L281.3 165.3L277.3 161.3Z" fill="#ff6d00"/><path d="M287.2 159.8L291.2 163.8L287.2 167.8L283.2 163.8Z" fill="#ff6d00"/><path d="M278.8 165.7L282.8 169.7L278.8 173.7L274.8 169.7Z" fill="#ff6d00"/><path d="M285.5 165.7L289.5 169.7L285.5 173.7L281.5 169.7Z" fill="#ff6d00"/><path d="M252.6 177.5L256.6 181.5L252.6 185.5L248.6 181.5Z" fill="#ff6d00"/><path d="M267.8 175.0L271.8 179.0L267.8 183.0L263.8 179.0Z" fill="#ff6d00"/><path d="M271.2 179.2L275.2 183.2L271.2 187.2L267.2 183.2Z" fill="#ff6d00"/><path d="M275.4 172.4L279.4 176.4L275.4 180.4L271.4 176.4Z" fill="#ff6d00"/><path d="M284.7 175.8L288.7 179.8L284.7 183.8L280.7 179.8Z" fill="#ff6d00"/><path d="M267.8 180.9L271.8 184.9L267.8 188.9L263.8 184.9Z" fill="#ff6d00"/><path d="M262.0 189.3L266.0 193.3L262.0 197.3L258.0 193.3Z" fill="#ff6d00"/><path d="M276.3 185.0L280.3 189.0L276.3 193.0L272.3 189.0Z" fill="#ff6d00"/><path d="M286.6 139.9L290.6 143.9L286.6 147.9L282.6 143.9Z" fill="#ff6d00"/><path d="M290.5 139.9L294.5 143.9L290.5 147.9L286.5 143.9Z" fill="#ff6d00"/><path d="M301.0 164.0L305.0 168.0L301.0 172.0L297.0 168.0Z" fill="#ff6d00"/><path d="M263.5 149.5L267.5 153.5L263.5 157.5L259.5 153.5Z" fill="#ff6d00"/><path d="M269.3 150.5L273.3 154.5L269.3 158.5L265.3 154.5Z" fill="#ff6d00"/><path d="M280.8 150.5L284.8 154.5L280.8 158.5L276.8 154.5Z" fill="#ff6d00"/><path d="M259.6 160.0L263.6 164.0L259.6 168.0L255.6 164.0Z" fill="#ff6d00"/><path d="M271.2 157.0L275.2 161.0L271.2 165.0L267.2 161.0Z" fill="#ff6d00"/><path d="M282.8 155.3L286.8 159.3L282.8 163.3L278.8 159.3Z" fill="#ff6d00"/><path d="M277.0 166.0L281.0 170.0L277.0 174.0L273.0 170.0Z" fill="#ff6d00"/><path d="M284.7 165.0L288.7 169.0L284.7 173.0L280.7 169.0Z" fill="#ff6d00"/><path d="M253.9 177.4L257.9 181.4L253.9 185.4L249.9 181.4Z" fill="#ff6d00"/><path d="M270.2 176.5L274.2 180.5L270.2 184.5L266.2 180.5Z" fill="#ff6d00"/><path d="M277.0 172.6L281.0 176.6L277.0 180.6L273.0 176.6Z" fill="#ff6d00"/><path d="M284.7 176.5L288.7 180.5L284.7 184.5L280.7 180.5Z" fill="#ff6d00"/><path d="M267.3 181.3L271.3 185.3L267.3 189.3L263.3 185.3Z" fill="#ff6d00"/><path d="M275.0 182.2L279.0 186.2L275.0 190.2L271.0 186.2Z" fill="#ff6d00"/><path d="M261.6 190.0L265.6 194.0L261.6 198.0L257.6 194.0Z" fill="#ff6d00"/><path d="M269.3 188.0L273.3 192.0L269.3 196.0L265.3 192.0Z" fill="#ff6d00"/><path d="M253.9 193.8L257.9 197.8L253.9 201.8L249.9 197.8Z" fill="#ff6d00"/><path d="M252.9 198.6L256.9 202.6L252.9 206.6L248.9 202.6Z" fill="#ff6d00"/><path d="M259.6 202.5L263.6 206.5L259.6 210.5L255.6 206.5Z" fill="#ff6d00"/><path d="M268.3 197.7L272.3 201.7L268.3 205.7L264.3 201.7Z" fill="#ff6d00"/><path d="M318.0 110.0L322.0 114.0L318.0 118.0L314.0 114.0Z" fill="#ff6d00"/><path d="M329.6 119.5L333.6 123.5L329.6 127.5L325.6 123.5Z" fill="#ff6d00"/><path d="M336.0 84.0L340.0 88.0L336.0 92.0L332.0 88.0Z" fill="#ff6d00"/><path d="M336.0 90.0L340.0 94.0L336.0 98.0L332.0 94.0Z" fill="#ff6d00"/><path d="M335.0 118.0L339.0 122.0L335.0 126.0L331.0 122.0Z" fill="#ff6d00"/><path d="M343.7 98.1L347.7 102.1L343.7 106.1L339.7 102.1Z" fill="#ff6d00"/><path d="M397.0 185.3L401.0 189.3L397.0 193.3L393.0 189.3Z" fill="#ff6d00"/><path d="M395.3 196.2L399.3 200.2L395.3 204.2L391.3 200.2Z" fill="#ff6d00"/><path d="M397.8 207.2L401.8 211.2L397.8 215.2L393.8 211.2Z" fill="#ff6d00"/><path d="M392.0 211.4L396.0 215.4L392.0 219.4L388.0 215.4Z" fill="#ff6d00"/><path d="M386.0 209.7L390.0 213.7L386.0 217.7L382.0 213.7Z" fill="#ff6d00"/><path d="M389.4 203.0L393.4 207.0L389.4 211.0L385.4 207.0Z" fill="#ff6d00"/><path d="M381.0 207.2L385.0 211.2L381.0 215.2L377.0 211.2Z" fill="#ff6d00"/><path d="M375.9 213.1L379.9 217.1L375.9 221.1L371.9 217.1Z" fill="#ff6d00"/><path d="M365.2 243.6L369.2 247.6L365.2 251.6L361.2 247.6Z" fill="#ff6d00"/><path d="M366.0 237.7L370.0 241.7L366.0 245.7L362.0 241.7Z" fill="#ff6d00"/><path d="M352.5 274.0L356.5 278.0L352.5 282.0L348.5 278.0Z" fill="#ff6d00"/><path d="M252.6 194.4L256.6 198.4L252.6 202.4L248.6 198.4Z" fill="#ff6d00"/><path d="M250.0 199.4L254.0 203.4L250.0 207.4L246.0 203.4Z" fill="#ff6d00"/><path d="M256.9 207.0L260.9 211.0L256.9 215.0L252.9 211.0Z" fill="#ff6d00"/><path d="M262.0 203.6L266.0 207.6L262.0 211.6L258.0 207.6Z" fill="#ff6d00"/><path d="M365.8 243.3L369.8 247.3L365.8 251.3L361.8 247.3Z" fill="#ff6d00"/><path d="M356.6 271.0L360.6 275.0L356.6 279.0L352.6 275.0Z" fill="#ff6d00"/><path d="M398.0 175.0L402.0 179.0L398.0 183.0L394.0 179.0Z" fill="#ff6d00"/><path d="M392.0 176.0L396.0 180.0L392.0 184.0L388.0 180.0Z" fill="#ff6d00"/><path d="M397.5 184.6L401.5 188.6L397.5 192.6L393.5 188.6Z" fill="#ff6d00"/><path d="M395.7 195.4L399.7 199.4L395.7 203.4L391.7 199.4Z" fill="#ff6d00"/><path d="M389.4 202.6L393.4 206.6L389.4 210.6L385.4 206.6Z" fill="#ff6d00"/><path d="M398.4 206.3L402.4 210.3L398.4 214.3L394.4 210.3Z" fill="#ff6d00"/><path d="M392.0 209.9L396.0 213.9L392.0 217.9L388.0 213.9Z" fill="#ff6d00"/><path d="M384.8 207.0L388.8 211.0L384.8 215.0L380.8 211.0Z" fill="#ff6d00"/><path d="M376.7 212.6L380.7 216.6L376.7 220.6L372.7 216.6Z" fill="#ff6d00"/><path d="M372.2 218.0L376.2 222.0L372.2 226.0L368.2 222.0Z" fill="#ff6d00"/><path d="M364.0 219.8L368.0 223.8L364.0 227.8L360.0 223.8Z" fill="#ff6d00"/><path d="M386.6 197.2L390.6 201.2L386.6 205.2L382.6 201.2Z" fill="#ff6d00"/><path d="M380.0 199.0L384.0 203.0L380.0 207.0L376.0 203.0Z" fill="#ff6d00"/><path d="M370.5 84.0L374.5 88.0L370.5 92.0L366.5 88.0Z" fill="#ff5b00"/><path d="M374.9 85.8L378.9 89.8L374.9 93.8L370.9 89.8Z" fill="#ff5b00"/><path d="M366.1 86.8L370.1 90.8L366.1 94.8L362.1 90.8Z" fill="#ff5b00"/><path d="M371.2 88.3L375.2 92.3L371.2 96.3L367.2 92.3Z" fill="#ff5b00"/><path d="M371.8 91.7L375.8 95.7L371.8 99.7L367.8 95.7Z" fill="#ff5b00"/><path d="M356.8 92.5L360.8 96.5L356.8 100.5L352.8 96.5Z" fill="#ff5b00"/><path d="M364.5 93.4L368.5 97.4L364.5 101.4L360.5 97.4Z" fill="#ff5b00"/><path d="M364.6 93.4L368.6 97.4L364.6 101.4L360.6 97.4Z" fill="#ff5b00"/><path d="M370.7 93.7L374.7 97.7L370.7 101.7L366.7 97.7Z" fill="#ff5b00"/><path d="M358.0 96.9L362.0 100.9L358.0 104.9L354.0 100.9Z" fill="#ff5b00"/><path d="M371.9 95.9L375.9 99.9L371.9 103.9L367.9 99.9Z" fill="#ff5b00"/><path d="M372.3 100.1L376.3 104.1L372.3 108.1L368.3 104.1Z" fill="#ff5b00"/><path d="M346.5 103.4L350.5 107.4L346.5 111.4L342.5 107.4Z" fill="#ff5b00"/><path d="M356.7 104.1L360.7 108.1L356.7 112.1L352.7 108.1Z" fill="#ff5b00"/><path d="M359.6 101.6L363.6 105.6L359.6 109.6L355.6 105.6Z" fill="#ff5b00"/><path d="M367.0 102.9L371.0 106.9L367.0 110.9L363.0 106.9Z" fill="#ff5b00"/><path d="M351.4 106.4L355.4 110.4L351.4 114.4L347.4 110.4Z" fill="#ff5b00"/><path d="M358.2 105.6L362.2 109.6L358.2 113.6L354.2 109.6Z" fill="#ff5b00"/><path d="M362.3 106.0L366.3 110.0L362.3 114.0L358.3 110.0Z" fill="#ff5b00"/><path d="M370.4 106.1L374.4 110.1L370.4 114.1L366.4 110.1Z" fill="#ff5b00"/><path d="M350.7 110.0L354.7 114.0L350.7 118.0L346.7 114.0Z" fill="#ff5b00"/><path d="M362.1 111.3L366.1 115.3L362.1 119.3L358.1 115.3Z" fill="#ff5b00"/><path d="M369.6 111.9L373.6 115.9L369.6 119.9L365.6 115.9Z" fill="#ff5b00"/><path d="M347.3 115.9L351.3 119.9L347.3 123.9L343.3 119.9Z" fill="#ff5b00"/><path d="M353.8 115.2L357.8 119.2L353.8 123.2L349.8 119.2Z" fill="#ff5b00"/><path d="M357.3 117.9L361.3 121.9L357.3 125.9L353.3 121.9Z" fill="#ff5b00"/><path d="M359.5 121.5L363.5 125.5L359.5 129.5L355.5 125.5Z" fill="#ff5b00"/><path d="M348.5 124.6L352.5 128.6L348.5 132.6L344.5 128.6Z" fill="#ff5b00"/><path d="M328.4 132.4L332.4 136.4L328.4 140.4L324.4 136.4Z" fill="#ff5b00"/><path d="M335.3 136.9L339.3 140.9L335.3 144.9L331.3 140.9Z" fill="#ff5b00"/><path d="M338.1 135.8L342.1 139.8L338.1 143.8L334.1 139.8Z" fill="#ff5b00"/><path d="M321.3 138.4L325.3 142.4L321.3 146.4L317.3 142.4Z" fill="#ff5b00"/><path d="M320.4 140.8L324.4 144.8L320.4 148.8L316.4 144.8Z" fill="#ff5b00"/><path d="M315.2 150.2L319.2 154.2L315.2 158.2L311.2 154.2Z" fill="#ff5b00"/><path d="M307.9 158.7L311.9 162.7L307.9 166.7L303.9 162.7Z" fill="#ff5b00"/><path d="M300.7 169.9L304.7 173.9L300.7 177.9L296.7 173.9Z" fill="#ff5b00"/><path d="M264.7 194.0L268.7 198.0L264.7 202.0L260.7 198.0Z" fill="#ff5b00"/><path d="M280.6 191.6L284.6 195.6L280.6 199.6L276.6 195.6Z" fill="#ff5b00"/><path d="M295.0 197.4L299.0 201.4L295.0 205.4L291.0 201.4Z" fill="#ff5b00"/><path d="M263.3 199.4L267.3 203.4L263.3 207.4L259.3 203.4Z" fill="#ff5b00"/><path d="M280.4 200.2L284.4 204.2L280.4 208.2L276.4 204.2Z" fill="#ff5b00"/><path d="M281.9 197.9L285.9 201.9L281.9 205.9L277.9 201.9Z" fill="#ff5b00"/><path d="M285.6 200.1L289.6 204.1L285.6 208.1L281.6 204.1Z" fill="#ff5b00"/><path d="M291.8 199.0L295.8 203.0L291.8 207.0L287.8 203.0Z" fill="#ff5b00"/><path d="M307.5 198.5L311.5 202.5L307.5 206.5L303.5 202.5Z" fill="#ff5b00"/><path d="M312.4 199.6L316.4 203.6L312.4 207.6L308.4 203.6Z" fill="#ff5b00"/><path d="M268.9 201.7L272.9 205.7L268.9 209.7L264.9 205.7Z" fill="#ff5b00"/><path d="M283.5 201.9L287.5 205.9L283.5 209.9L279.5 205.9Z" fill="#ff5b00"/><path d="M267.0 203.7L271.0 207.7L267.0 211.7L263.0 207.7Z" fill="#ff5b00"/><path d="M285.0 204.8L289.0 208.8L285.0 212.8L281.0 208.8Z" fill="#ff5b00"/><path d="M308.6 203.9L312.6 207.9L308.6 211.9L304.6 207.9Z" fill="#ff5b00"/><path d="M259.6 209.1L263.6 213.1L259.6 217.1L255.6 213.1Z" fill="#ff5b00"/><path d="M275.0 206.8L279.0 210.8L275.0 214.8L271.0 210.8Z" fill="#ff5b00"/><path d="M292.2 209.5L296.2 213.5L292.2 217.5L288.2 213.5Z" fill="#ff5b00"/><path d="M305.0 209.6L309.0 213.6L305.0 217.6L301.0 213.6Z" fill="#ff5b00"/><path d="M288.4 210.0L292.4 214.0L288.4 218.0L284.4 214.0Z" fill="#ff5b00"/><path d="M291.8 210.0L295.8 214.0L291.8 218.0L287.8 214.0Z" fill="#ff5b00"/><path d="M297.4 210.8L301.4 214.8L297.4 218.8L293.4 214.8Z" fill="#ff5b00"/><path d="M263.3 213.8L267.3 217.8L263.3 221.8L259.3 217.8Z" fill="#ff5b00"/><path d="M277.1 215.4L281.1 219.4L277.1 223.4L273.1 219.4Z" fill="#ff5b00"/><path d="M288.7 215.4L292.7 219.4L288.7 223.4L284.7 219.4Z" fill="#ff5b00"/><path d="M275.3 217.5L279.3 221.5L275.3 225.5L271.3 221.5Z" fill="#ff5b00"/><path d="M290.4 216.8L294.4 220.8L290.4 224.8L286.4 220.8Z" fill="#ff5b00"/><path d="M303.9 216.7L307.9 220.7L303.9 224.7L299.9 220.7Z" fill="#ff5b00"/><path d="M304.5 215.9L308.5 219.9L304.5 223.9L300.5 219.9Z" fill="#ff5b00"/><path d="M291.4 218.6L295.4 222.6L291.4 226.6L287.4 222.6Z" fill="#ff5b00"/><path d="M297.7 218.6L301.7 222.6L297.7 226.6L293.7 222.6Z" fill="#ff5b00"/><path d="M313.8 220.7L317.8 224.7L313.8 228.7L309.8 224.7Z" fill="#ff5b00"/><path d="M291.9 222.5L295.9 226.5L291.9 230.5L287.9 226.5Z" fill="#ff5b00"/><path d="M309.3 222.8L313.3 226.8L309.3 230.8L305.3 226.8Z" fill="#ff5b00"/><path d="M310.9 221.7L314.9 225.7L310.9 229.7L306.9 225.7Z" fill="#ff5b00"/><path d="M286.2 226.2L290.2 230.2L286.2 234.2L282.2 230.2Z" fill="#ff5b00"/><path d="M301.2 224.6L305.2 228.6L301.2 232.6L297.2 228.6Z" fill="#ff5b00"/><path d="M269.0 228.5L273.0 232.5L269.0 236.5L265.0 232.5Z" fill="#ff5b00"/><path d="M294.6 230.6L298.6 234.6L294.6 238.6L290.6 234.6Z" fill="#ff5b00"/><path d="M271.5 233.0L275.5 237.0L271.5 241.0L267.5 237.0Z" fill="#ff5b00"/><path d="M285.3 230.5L289.3 234.5L285.3 238.5L281.3 234.5Z" fill="#ff5b00"/><path d="M288.7 230.7L292.7 234.7L288.7 238.7L284.7 234.7Z" fill="#ff5b00"/><path d="M289.9 233.6L293.9 237.6L289.9 241.6L285.9 237.6Z" fill="#ff5b00"/><path d="M262.0 233.8L266.0 237.8L262.0 241.8L258.0 237.8Z" fill="#ff5b00"/><path d="M293.1 234.6L297.1 238.6L293.1 242.6L289.1 238.6Z" fill="#ff5b00"/><path d="M301.0 233.7L305.0 237.7L301.0 241.7L297.0 237.7Z" fill="#ff5b00"/><path d="M304.5 238.7L308.5 242.7L304.5 246.7L300.5 242.7Z" fill="#ff5b00"/><path d="M311.3 238.0L315.3 242.0L311.3 246.0L307.3 242.0Z" fill="#ff5b00"/><path d="M312.6 241.9L316.6 245.9L312.6 249.9L308.6 245.9Z" fill="#ff5b00"/><path d="M299.9 245.9L303.9 249.9L299.9 253.9L295.9 249.9Z" fill="#ff5b00"/><path d="M314.6 248.6L318.6 252.6L314.6 256.6L310.6 252.6Z" fill="#ff5b00"/><path d="M295.5 251.2L299.5 255.2L295.5 259.2L291.5 255.2Z" fill="#ff5b00"/><path d="M300.4 251.6L304.4 255.6L300.4 259.6L296.4 255.6Z" fill="#ff5b00"/><path d="M310.9 248.8L314.9 252.8L310.9 256.8L306.9 252.8Z" fill="#ff5b00"/><path d="M300.3 263.1L304.3 267.1L300.3 271.1L296.3 267.1Z" fill="#ff5b00"/><path d="M310.4 261.0L314.4 265.0L310.4 269.0L306.4 265.0Z" fill="#ff5b00"/><path d="M306.5 264.4L310.5 268.4L306.5 272.4L302.5 268.4Z" fill="#ff5b00"/><path d="M311.1 266.1L315.1 270.1L311.1 274.1L307.1 270.1Z" fill="#ff5b00"/><path d="M295.6 268.0L299.6 272.0L295.6 276.0L291.6 272.0Z" fill="#ff5b00"/><path d="M309.0 269.5L313.0 273.5L309.0 277.5L305.0 273.5Z" fill="#ff5b00"/><path d="M312.1 269.7L316.1 273.7L312.1 277.7L308.1 273.7Z" fill="#ff5b00"/><path d="M307.4 274.5L311.4 278.5L307.4 282.5L303.4 278.5Z" fill="#ff5b00"/><path d="M315.6 277.4L319.6 281.4L315.6 285.4L311.6 281.4Z" fill="#ff5b00"/><path d="M316.6 284.8L320.6 288.8L316.6 292.8L312.6 288.8Z" fill="#ff5b00"/><path d="M311.7 138.9L315.7 142.9L311.7 146.9L307.7 142.9Z" fill="#ff5b00"/><path d="M307.8 143.7L311.8 147.7L307.8 151.7L303.8 147.7Z" fill="#ff5b00"/><path d="M313.6 144.7L317.6 148.7L313.6 152.7L309.6 148.7Z" fill="#ff5b00"/><path d="M326.0 142.7L330.0 146.7L326.0 150.7L322.0 146.7Z" fill="#ff5b00"/><path d="M411.3 167.0L415.3 171.0L411.3 175.0L407.3 171.0Z" fill="#ff5b00"/><path d="M380.3 206.3L384.3 210.3L380.3 214.3L376.3 210.3Z" fill="#ff5b00"/><path d="M375.0 209.9L379.0 213.9L375.0 217.9L371.0 213.9Z" fill="#ff5b00"/><path d="M370.4 214.4L374.4 218.4L370.4 222.4L366.4 218.4Z" fill="#ff5b00"/><path d="M365.8 217.0L369.8 221.0L365.8 225.0L361.8 221.0Z" fill="#ff5b00"/><path d="M365.0 213.0L369.0 217.0L365.0 221.0L361.0 217.0Z" fill="#ff5b00"/><path d="M361.0 220.0L365.0 224.0L361.0 228.0L357.0 224.0Z" fill="#ff5b00"/><path d="M378.0 186.0L382.0 190.0L378.0 194.0L374.0 190.0Z" fill="#ff5b00"/><path d="M362.9 85.8L366.9 89.8L362.9 93.8L358.9 89.8Z" fill="#ff4900"/><path d="M365.7 84.8L369.7 88.8L365.7 92.8L361.7 88.8Z" fill="#ff4900"/><path d="M361.8 89.2L365.8 93.2L361.8 97.2L357.8 93.2Z" fill="#ff4900"/><path d="M359.8 91.3L363.8 95.3L359.8 99.3L355.8 95.3Z" fill="#ff4900"/><path d="M350.6 97.8L354.6 101.8L350.6 105.8L346.6 101.8Z" fill="#ff4900"/><path d="M373.8 96.7L377.8 100.7L373.8 104.7L369.8 100.7Z" fill="#ff4900"/><path d="M368.1 102.9L372.1 106.9L368.1 110.9L364.1 106.9Z" fill="#ff4900"/><path d="M357.5 109.4L361.5 113.4L357.5 117.4L353.5 113.4Z" fill="#ff4900"/><path d="M343.9 118.3L347.9 122.3L343.9 126.3L339.9 122.3Z" fill="#ff4900"/><path d="M347.1 120.7L351.1 124.7L347.1 128.7L343.1 124.7Z" fill="#ff4900"/><path d="M353.2 119.6L357.2 123.6L353.2 127.6L349.2 123.6Z" fill="#ff4900"/><path d="M362.0 119.9L366.0 123.9L362.0 127.9L358.0 123.9Z" fill="#ff4900"/><path d="M354.2 122.6L358.2 126.6L354.2 130.6L350.2 126.6Z" fill="#ff4900"/><path d="M334.3 130.6L338.3 134.6L334.3 138.6L330.3 134.6Z" fill="#ff4900"/><path d="M352.6 130.3L356.6 134.3L352.6 138.3L348.6 134.3Z" fill="#ff4900"/><path d="M321.3 137.1L325.3 141.1L321.3 145.1L317.3 141.1Z" fill="#ff4900"/><path d="M332.2 134.6L336.2 138.6L332.2 142.6L328.2 138.6Z" fill="#ff4900"/><path d="M327.2 146.3L331.2 150.3L327.2 154.3L323.2 150.3Z" fill="#ff4900"/><path d="M342.6 153.4L346.6 157.4L342.6 161.4L338.6 157.4Z" fill="#ff4900"/><path d="M309.2 158.2L313.2 162.2L309.2 166.2L305.2 162.2Z" fill="#ff4900"/><path d="M334.3 156.5L338.3 160.5L334.3 164.5L330.3 160.5Z" fill="#ff4900"/><path d="M336.6 156.0L340.6 160.0L336.6 164.0L332.6 160.0Z" fill="#ff4900"/><path d="M304.9 165.0L308.9 169.0L304.9 173.0L300.9 169.0Z" fill="#ff4900"/><path d="M300.2 177.9L304.2 181.9L300.2 185.9L296.2 181.9Z" fill="#ff4900"/><path d="M332.3 193.7L336.3 197.7L332.3 201.7L328.3 197.7Z" fill="#ff4900"/><path d="M303.4 196.4L307.4 200.4L303.4 204.4L299.4 200.4Z" fill="#ff4900"/><path d="M314.6 199.0L318.6 203.0L314.6 207.0L310.6 203.0Z" fill="#ff4900"/><path d="M318.2 198.8L322.2 202.8L318.2 206.8L314.2 202.8Z" fill="#ff4900"/><path d="M334.9 198.2L338.9 202.2L334.9 206.2L330.9 202.2Z" fill="#ff4900"/><path d="M296.5 201.8L300.5 205.8L296.5 209.8L292.5 205.8Z" fill="#ff4900"/><path d="M338.4 201.9L342.4 205.9L338.4 209.9L334.4 205.9Z" fill="#ff4900"/><path d="M343.6 200.8L347.6 204.8L343.6 208.8L339.6 204.8Z" fill="#ff4900"/><path d="M293.7 209.3L297.7 213.3L293.7 217.3L289.7 213.3Z" fill="#ff4900"/><path d="M318.2 207.1L322.2 211.1L318.2 215.1L314.2 211.1Z" fill="#ff4900"/><path d="M331.4 207.1L335.4 211.1L331.4 215.1L327.4 211.1Z" fill="#ff4900"/><path d="M293.0 210.7L297.0 214.7L293.0 218.7L289.0 214.7Z" fill="#ff4900"/><path d="M315.9 212.4L319.9 216.4L315.9 220.4L311.9 216.4Z" fill="#ff4900"/><path d="M339.3 211.2L343.3 215.2L339.3 219.2L335.3 215.2Z" fill="#ff4900"/><path d="M292.8 212.5L296.8 216.5L292.8 220.5L288.8 216.5Z" fill="#ff4900"/><path d="M303.2 213.6L307.2 217.6L303.2 221.6L299.2 217.6Z" fill="#ff4900"/><path d="M321.4 214.8L325.4 218.8L321.4 222.8L317.4 218.8Z" fill="#ff4900"/><path d="M336.8 214.6L340.8 218.6L336.8 222.6L332.8 218.6Z" fill="#ff4900"/><path d="M307.8 216.6L311.8 220.6L307.8 224.6L303.8 220.6Z" fill="#ff4900"/><path d="M331.1 215.6L335.1 219.6L331.1 223.6L327.1 219.6Z" fill="#ff4900"/><path d="M342.7 217.5L346.7 221.5L342.7 225.5L338.7 221.5Z" fill="#ff4900"/><path d="M293.4 218.9L297.4 222.9L293.4 226.9L289.4 222.9Z" fill="#ff4900"/><path d="M302.9 219.8L306.9 223.8L302.9 227.8L298.9 223.8Z" fill="#ff4900"/><path d="M309.1 220.8L313.1 224.8L309.1 228.8L305.1 224.8Z" fill="#ff4900"/><path d="M314.8 222.8L318.8 226.8L314.8 230.8L310.8 226.8Z" fill="#ff4900"/><path d="M301.9 224.5L305.9 228.5L301.9 232.5L297.9 228.5Z" fill="#ff4900"/><path d="M309.9 224.6L313.9 228.6L309.9 232.6L305.9 228.6Z" fill="#ff4900"/><path d="M301.6 232.7L305.6 236.7L301.6 240.7L297.6 236.7Z" fill="#ff4900"/><path d="M302.5 231.7L306.5 235.7L302.5 239.7L298.5 235.7Z" fill="#ff4900"/><path d="M304.7 232.5L308.7 236.5L304.7 240.5L300.7 236.5Z" fill="#ff4900"/><path d="M335.4 230.4L339.4 234.4L335.4 238.4L331.4 234.4Z" fill="#ff4900"/><path d="M309.9 236.4L313.9 240.4L309.9 244.4L305.9 240.4Z" fill="#ff4900"/><path d="M343.1 233.4L347.1 237.4L343.1 241.4L339.1 237.4Z" fill="#ff4900"/><path d="M308.4 239.2L312.4 243.2L308.4 247.2L304.4 243.2Z" fill="#ff4900"/><path d="M330.8 239.5L334.8 243.5L330.8 247.5L326.8 243.5Z" fill="#ff4900"/><path d="M316.3 241.2L320.3 245.2L316.3 249.2L312.3 245.2Z" fill="#ff4900"/><path d="M330.3 239.8L334.3 243.8L330.3 247.8L326.3 243.8Z" fill="#ff4900"/><path d="M308.5 243.4L312.5 247.4L308.5 251.4L304.5 247.4Z" fill="#ff4900"/><path d="M324.6 244.7L328.6 248.7L324.6 252.7L320.6 248.7Z" fill="#ff4900"/><path d="M307.1 248.6L311.1 252.6L307.1 256.6L303.1 252.6Z" fill="#ff4900"/><path d="M302.8 251.5L306.8 255.5L302.8 259.5L298.8 255.5Z" fill="#ff4900"/><path d="M343.6 248.5L347.6 252.5L343.6 256.5L339.6 252.5Z" fill="#ff4900"/><path d="M299.4 251.8L303.4 255.8L299.4 259.8L295.4 255.8Z" fill="#ff4900"/><path d="M314.8 256.3L318.8 260.3L314.8 264.3L310.8 260.3Z" fill="#ff4900"/><path d="M323.4 255.7L327.4 259.7L323.4 263.7L319.4 259.7Z" fill="#ff4900"/><path d="M304.5 257.5L308.5 261.5L304.5 265.5L300.5 261.5Z" fill="#ff4900"/><path d="M305.2 260.1L309.2 264.1L305.2 268.1L301.2 264.1Z" fill="#ff4900"/><path d="M334.3 258.6L338.3 262.6L334.3 266.6L330.3 262.6Z" fill="#ff4900"/><path d="M305.6 260.9L309.6 264.9L305.6 268.9L301.6 264.9Z" fill="#ff4900"/><path d="M298.6 266.4L302.6 270.4L298.6 274.4L294.6 270.4Z" fill="#ff4900"/><path d="M308.8 263.8L312.8 267.8L308.8 271.8L304.8 267.8Z" fill="#ff4900"/><path d="M323.2 266.5L327.2 270.5L323.2 274.5L319.2 270.5Z" fill="#ff4900"/><path d="M300.1 267.5L304.1 271.5L300.1 275.5L296.1 271.5Z" fill="#ff4900"/><path d="M308.0 267.3L312.0 271.3L308.0 275.3L304.0 271.3Z" fill="#ff4900"/><path d="M331.9 267.8L335.9 271.8L331.9 275.8L327.9 271.8Z" fill="#ff4900"/><path d="M301.0 271.3L305.0 275.3L301.0 279.3L297.0 275.3Z" fill="#ff4900"/><path d="M302.3 275.2L306.3 279.2L302.3 283.2L298.3 279.2Z" fill="#ff4900"/><path d="M308.1 275.5L312.1 279.5L308.1 283.5L304.1 279.5Z" fill="#ff4900"/><path d="M319.1 277.3L323.1 281.3L319.1 285.3L315.1 281.3Z" fill="#ff4900"/><path d="M325.2 275.7L329.2 279.7L325.2 283.7L321.2 279.7Z" fill="#ff4900"/><path d="M317.3 283.9L321.3 287.9L317.3 291.9L313.3 287.9Z" fill="#ff4900"/><path d="M302.0 138.0L306.0 142.0L302.0 146.0L298.0 142.0Z" fill="#ff4900"/><path d="M311.0 138.0L315.0 142.0L311.0 146.0L307.0 142.0Z" fill="#ff4900"/><path d="M309.0 143.0L313.0 147.0L309.0 151.0L305.0 147.0Z" fill="#ff4900"/><path d="M313.5 145.5L317.5 149.5L313.5 153.5L309.5 149.5Z" fill="#ff4900"/><path d="M307.5 142.0L311.5 146.0L307.5 150.0L303.5 146.0Z" fill="#ff4900"/><path d="M360.6 79.5L364.6 83.5L360.6 87.5L356.6 83.5Z" fill="#ff4900"/><path d="M368.0 77.0L372.0 81.0L368.0 85.0L364.0 81.0Z" fill="#ff4900"/><path d="M367.8 77.0L371.8 81.0L367.8 85.0L363.8 81.0Z" fill="#ff4900"/><path d="M363.6 79.5L367.6 83.5L363.6 87.5L359.6 83.5Z" fill="#ff4900"/><path d="M360.2 82.0L364.2 86.0L360.2 90.0L356.2 86.0Z" fill="#ff4900"/><path d="M390.2 221.5L394.2 225.5L390.2 229.5L386.2 225.5Z" fill="#ff4900"/><path d="M390.3 219.8L394.3 223.8L390.3 227.8L386.3 223.8Z" fill="#ff4900"/><path d="M373.0 201.0L377.0 205.0L373.0 209.0L369.0 205.0Z" fill="#ff4900"/><path d="M369.0 208.0L373.0 212.0L369.0 216.0L365.0 212.0Z" fill="#ff4900"/><path d="M357.0 227.0L361.0 231.0L357.0 235.0L353.0 231.0Z" fill="#ff4900"/><path d="M352.0 233.0L356.0 237.0L352.0 241.0L348.0 237.0Z" fill="#ff4900"/><path d="M383.0 182.0L387.0 186.0L383.0 190.0L379.0 186.0Z" fill="#ff4900"/><path d="M370.4 80.7L374.4 84.7L370.4 88.7L366.4 84.7Z" fill="#ff3700"/><path d="M369.4 97.8L373.4 101.8L369.4 105.8L365.4 101.8Z" fill="#ff3700"/><path d="M402.0 98.6L406.0 102.6L402.0 106.6L398.0 102.6Z" fill="#ff3700"/><path d="M349.4 99.8L353.4 103.8L349.4 107.8L345.4 103.8Z" fill="#ff3700"/><path d="M361.2 100.3L365.2 104.3L361.2 108.3L357.2 104.3Z" fill="#ff3700"/><path d="M364.3 99.0L368.3 103.0L364.3 107.0L360.3 103.0Z" fill="#ff3700"/><path d="M403.5 99.3L407.5 103.3L403.5 107.3L399.5 103.3Z" fill="#ff3700"/><path d="M375.6 104.2L379.6 108.2L375.6 112.2L371.6 108.2Z" fill="#ff3700"/><path d="M367.5 104.9L371.5 108.9L367.5 112.9L363.5 108.9Z" fill="#ff3700"/><path d="M392.5 106.6L396.5 110.6L392.5 114.6L388.5 110.6Z" fill="#ff3700"/><path d="M409.9 107.2L413.9 111.2L409.9 115.2L405.9 111.2Z" fill="#ff3700"/><path d="M359.0 108.3L363.0 112.3L359.0 116.3L355.0 112.3Z" fill="#ff3700"/><path d="M364.6 110.1L368.6 114.1L364.6 118.1L360.6 114.1Z" fill="#ff3700"/><path d="M378.1 110.0L382.1 114.0L378.1 118.0L374.1 114.0Z" fill="#ff3700"/><path d="M370.6 113.6L374.6 117.6L370.6 121.6L366.6 117.6Z" fill="#ff3700"/><path d="M379.6 111.6L383.6 115.6L379.6 119.6L375.6 115.6Z" fill="#ff3700"/><path d="M396.7 113.2L400.7 117.2L396.7 121.2L392.7 117.2Z" fill="#ff3700"/><path d="M379.3 115.1L383.3 119.1L379.3 123.1L375.3 119.1Z" fill="#ff3700"/><path d="M422.0 113.8L426.0 117.8L422.0 121.8L418.0 117.8Z" fill="#ff3700"/><path d="M359.4 118.6L363.4 122.6L359.4 126.6L355.4 122.6Z" fill="#ff3700"/><path d="M382.9 119.4L386.9 123.4L382.9 127.4L378.9 123.4Z" fill="#ff3700"/><path d="M422.2 116.6L426.2 120.6L422.2 124.6L418.2 120.6Z" fill="#ff3700"/><path d="M385.6 119.6L389.6 123.6L385.6 127.6L381.6 123.6Z" fill="#ff3700"/><path d="M388.8 121.9L392.8 125.9L388.8 129.9L384.8 125.9Z" fill="#ff3700"/><path d="M397.4 119.6L401.4 123.6L397.4 127.6L393.4 123.6Z" fill="#ff3700"/><path d="M425.3 121.1L429.3 125.1L425.3 129.1L421.3 125.1Z" fill="#ff3700"/><path d="M370.6 122.6L374.6 126.6L370.6 130.6L366.6 126.6Z" fill="#ff3700"/><path d="M385.0 124.7L389.0 128.7L385.0 132.7L381.0 128.7Z" fill="#ff3700"/><path d="M410.7 123.7L414.7 127.7L410.7 131.7L406.7 127.7Z" fill="#ff3700"/><path d="M356.2 127.8L360.2 131.8L356.2 135.8L352.2 131.8Z" fill="#ff3700"/><path d="M380.6 128.3L384.6 132.3L380.6 136.3L376.6 132.3Z" fill="#ff3700"/><path d="M415.9 125.5L419.9 129.5L415.9 133.5L411.9 129.5Z" fill="#ff3700"/><path d="M374.0 130.1L378.0 134.1L374.0 138.1L370.0 134.1Z" fill="#ff3700"/><path d="M383.8 130.2L387.8 134.2L383.8 138.2L379.8 134.2Z" fill="#ff3700"/><path d="M393.1 129.6L397.1 133.6L393.1 137.6L389.1 133.6Z" fill="#ff3700"/><path d="M342.0 133.9L346.0 137.9L342.0 141.9L338.0 137.9Z" fill="#ff3700"/><path d="M387.5 131.9L391.5 135.9L387.5 139.9L383.5 135.9Z" fill="#ff3700"/><path d="M392.3 132.3L396.3 136.3L392.3 140.3L388.3 136.3Z" fill="#ff3700"/><path d="M398.7 134.1L402.7 138.1L398.7 142.1L394.7 138.1Z" fill="#ff3700"/><path d="M414.0 131.7L418.0 135.7L414.0 139.7L410.0 135.7Z" fill="#ff3700"/><path d="M399.7 137.3L403.7 141.3L399.7 145.3L395.7 141.3Z" fill="#ff3700"/><path d="M403.0 135.2L407.0 139.2L403.0 143.2L399.0 139.2Z" fill="#ff3700"/><path d="M415.7 134.9L419.7 138.9L415.7 142.9L411.7 138.9Z" fill="#ff3700"/><path d="M328.4 140.2L332.4 144.2L328.4 148.2L324.4 144.2Z" fill="#ff3700"/><path d="M331.7 137.7L335.7 141.7L331.7 145.7L327.7 141.7Z" fill="#ff3700"/><path d="M341.4 137.8L345.4 141.8L341.4 145.8L337.4 141.8Z" fill="#ff3700"/><path d="M349.9 137.6L353.9 141.6L349.9 145.6L345.9 141.6Z" fill="#ff3700"/><path d="M376.4 140.6L380.4 144.6L376.4 148.6L372.4 144.6Z" fill="#ff3700"/><path d="M383.0 139.8L387.0 143.8L383.0 147.8L379.0 143.8Z" fill="#ff3700"/><path d="M423.9 138.0L427.9 142.0L423.9 146.0L419.9 142.0Z" fill="#ff3700"/><path d="M317.4 145.0L321.4 149.0L317.4 153.0L313.4 149.0Z" fill="#ff3700"/><path d="M376.3 144.2L380.3 148.2L376.3 152.2L372.3 148.2Z" fill="#ff3700"/><path d="M317.2 148.1L321.2 152.1L317.2 156.1L313.2 152.1Z" fill="#ff3700"/><path d="M340.1 147.7L344.1 151.7L340.1 155.7L336.1 151.7Z" fill="#ff3700"/><path d="M350.0 148.0L354.0 152.0L350.0 156.0L346.0 152.0Z" fill="#ff3700"/><path d="M353.5 146.6L357.5 150.6L353.5 154.6L349.5 150.6Z" fill="#ff3700"/><path d="M361.2 149.5L365.2 153.5L361.2 157.5L357.2 153.5Z" fill="#ff3700"/><path d="M389.8 148.6L393.8 152.6L389.8 156.6L385.8 152.6Z" fill="#ff3700"/><path d="M339.4 151.2L343.4 155.2L339.4 159.2L335.4 155.2Z" fill="#ff3700"/><path d="M347.8 149.8L351.8 153.8L347.8 157.8L343.8 153.8Z" fill="#ff3700"/><path d="M364.5 149.9L368.5 153.9L364.5 157.9L360.5 153.9Z" fill="#ff3700"/><path d="M310.5 153.2L314.5 157.2L310.5 161.2L306.5 157.2Z" fill="#ff3700"/><path d="M332.1 154.4L336.1 158.4L332.1 162.4L328.1 158.4Z" fill="#ff3700"/><path d="M357.0 154.3L361.0 158.3L357.0 162.3L353.0 158.3Z" fill="#ff3700"/><path d="M374.1 154.9L378.1 158.9L374.1 162.9L370.1 158.9Z" fill="#ff3700"/><path d="M317.5 156.1L321.5 160.1L317.5 164.1L313.5 160.1Z" fill="#ff3700"/><path d="M353.7 156.6L357.7 160.6L353.7 164.6L349.7 160.6Z" fill="#ff3700"/><path d="M375.4 157.9L379.4 161.9L375.4 165.9L371.4 161.9Z" fill="#ff3700"/><path d="M323.0 160.0L327.0 164.0L323.0 168.0L319.0 164.0Z" fill="#ff3700"/><path d="M352.2 159.6L356.2 163.6L352.2 167.6L348.2 163.6Z" fill="#ff3700"/><path d="M377.3 161.3L381.3 165.3L377.3 169.3L373.3 165.3Z" fill="#ff3700"/><path d="M379.1 165.8L383.1 169.8L379.1 173.8L375.1 169.8Z" fill="#ff3700"/><path d="M380.1 167.1L384.1 171.1L380.1 175.1L376.1 171.1Z" fill="#ff3700"/><path d="M304.0 168.9L308.0 172.9L304.0 176.9L300.0 172.9Z" fill="#ff3700"/><path d="M325.9 167.7L329.9 171.7L325.9 175.7L321.9 171.7Z" fill="#ff3700"/><path d="M362.9 169.9L366.9 173.9L362.9 177.9L358.9 173.9Z" fill="#ff3700"/><path d="M365.8 168.3L369.8 172.3L365.8 176.3L361.8 172.3Z" fill="#ff3700"/><path d="M378.5 168.6L382.5 172.6L378.5 176.6L374.5 172.6Z" fill="#ff3700"/><path d="M387.9 169.3L391.9 173.3L387.9 177.3L383.9 173.3Z" fill="#ff3700"/><path d="M327.9 172.8L331.9 176.8L327.9 180.8L323.9 176.8Z" fill="#ff3700"/><path d="M330.1 171.9L334.1 175.9L330.1 179.9L326.1 175.9Z" fill="#ff3700"/><path d="M333.1 172.6L337.1 176.6L333.1 180.6L329.1 176.6Z" fill="#ff3700"/><path d="M340.0 171.0L344.0 175.0L340.0 179.0L336.0 175.0Z" fill="#ff3700"/><path d="M362.7 170.6L366.7 174.6L362.7 178.6L358.7 174.6Z" fill="#ff3700"/><path d="M351.0 175.4L355.0 179.4L351.0 183.4L347.0 179.4Z" fill="#ff3700"/><path d="M358.6 173.7L362.6 177.7L358.6 181.7L354.6 177.7Z" fill="#ff3700"/><path d="M365.1 174.5L369.1 178.5L365.1 182.5L361.1 178.5Z" fill="#ff3700"/><path d="M289.3 177.8L293.3 181.8L289.3 185.8L285.3 181.8Z" fill="#ff3700"/><path d="M326.3 178.7L330.3 182.7L326.3 186.7L322.3 182.7Z" fill="#ff3700"/><path d="M366.1 177.1L370.1 181.1L366.1 185.1L362.1 181.1Z" fill="#ff3700"/><path d="M334.0 179.9L338.0 183.9L334.0 187.9L330.0 183.9Z" fill="#ff3700"/><path d="M360.7 182.3L364.7 186.3L360.7 190.3L356.7 186.3Z" fill="#ff3700"/><path d="M291.9 185.0L295.9 189.0L291.9 193.0L287.9 189.0Z" fill="#ff3700"/><path d="M293.4 183.5L297.4 187.5L293.4 191.5L289.4 187.5Z" fill="#ff3700"/><path d="M309.1 184.1L313.1 188.1L309.1 192.1L305.1 188.1Z" fill="#ff3700"/><path d="M366.4 182.6L370.4 186.6L366.4 190.6L362.4 186.6Z" fill="#ff3700"/><path d="M373.9 183.2L377.9 187.2L373.9 191.2L369.9 187.2Z" fill="#ff3700"/><path d="M297.5 185.5L301.5 189.5L297.5 193.5L293.5 189.5Z" fill="#ff3700"/><path d="M315.2 188.5L319.2 192.5L315.2 196.5L311.2 192.5Z" fill="#ff3700"/><path d="M322.6 188.2L326.6 192.2L322.6 196.2L318.6 192.2Z" fill="#ff3700"/><path d="M362.1 185.5L366.1 189.5L362.1 193.5L358.1 189.5Z" fill="#ff3700"/><path d="M369.2 185.6L373.2 189.6L369.2 193.6L365.2 189.6Z" fill="#ff3700"/><path d="M308.0 190.4L312.0 194.4L308.0 198.4L304.0 194.4Z" fill="#ff3700"/><path d="M315.8 188.9L319.8 192.9L315.8 196.9L311.8 192.9Z" fill="#ff3700"/><path d="M330.3 190.0L334.3 194.0L330.3 198.0L326.3 194.0Z" fill="#ff3700"/><path d="M337.5 189.9L341.5 193.9L337.5 197.9L333.5 193.9Z" fill="#ff3700"/><path d="M299.7 191.6L303.7 195.6L299.7 199.6L295.7 195.6Z" fill="#ff3700"/><path d="M335.4 192.7L339.4 196.7L335.4 200.7L331.4 196.7Z" fill="#ff3700"/><path d="M372.7 194.5L376.7 198.5L372.7 202.5L368.7 198.5Z" fill="#ff3700"/><path d="M307.0 196.2L311.0 200.2L307.0 204.2L303.0 200.2Z" fill="#ff3700"/><path d="M333.3 196.5L337.3 200.5L333.3 204.5L329.3 200.5Z" fill="#ff3700"/><path d="M345.2 196.9L349.2 200.9L345.2 204.9L341.2 200.9Z" fill="#ff3700"/><path d="M355.3 197.4L359.3 201.4L355.3 205.4L351.3 201.4Z" fill="#ff3700"/><path d="M362.2 194.5L366.2 198.5L362.2 202.5L358.2 198.5Z" fill="#ff3700"/><path d="M369.6 196.6L373.6 200.6L369.6 204.6L365.6 200.6Z" fill="#ff3700"/><path d="M324.8 200.4L328.8 204.4L324.8 208.4L320.8 204.4Z" fill="#ff3700"/><path d="M332.0 198.9L336.0 202.9L332.0 206.9L328.0 202.9Z" fill="#ff3700"/><path d="M339.1 200.0L343.1 204.0L339.1 208.0L335.1 204.0Z" fill="#ff3700"/><path d="M300.3 201.1L304.3 205.1L300.3 209.1L296.3 205.1Z" fill="#ff3700"/><path d="M304.2 200.7L308.2 204.7L304.2 208.7L300.2 204.7Z" fill="#ff3700"/><path d="M329.0 203.2L333.0 207.2L329.0 211.2L325.0 207.2Z" fill="#ff3700"/><path d="M353.1 202.0L357.1 206.0L353.1 210.0L349.1 206.0Z" fill="#ff3700"/><path d="M370.1 200.7L374.1 204.7L370.1 208.7L366.1 204.7Z" fill="#ff3700"/><path d="M371.9 200.6L375.9 204.6L371.9 208.6L367.9 204.6Z" fill="#ff3700"/><path d="M292.3 205.5L296.3 209.5L292.3 213.5L288.3 209.5Z" fill="#ff3700"/><path d="M294.9 206.1L298.9 210.1L294.9 214.1L290.9 210.1Z" fill="#ff3700"/><path d="M307.0 203.8L311.0 207.8L307.0 211.8L303.0 207.8Z" fill="#ff3700"/><path d="M313.1 206.3L317.1 210.3L313.1 214.3L309.1 210.3Z" fill="#ff3700"/><path d="M331.3 203.5L335.3 207.5L331.3 211.5L327.3 207.5Z" fill="#ff3700"/><path d="M346.6 204.5L350.6 208.5L346.6 212.5L342.6 208.5Z" fill="#ff3700"/><path d="M355.5 204.8L359.5 208.8L355.5 212.8L351.5 208.8Z" fill="#ff3700"/><path d="M309.2 208.9L313.2 212.9L309.2 216.9L305.2 212.9Z" fill="#ff3700"/><path d="M311.2 209.1L315.2 213.1L311.2 217.1L307.2 213.1Z" fill="#ff3700"/><path d="M368.3 207.0L372.3 211.0L368.3 215.0L364.3 211.0Z" fill="#ff3700"/><path d="M311.8 210.7L315.8 214.7L311.8 218.7L307.8 214.7Z" fill="#ff3700"/><path d="M321.8 212.1L325.8 216.1L321.8 220.1L317.8 216.1Z" fill="#ff3700"/><path d="M322.6 210.7L326.6 214.7L322.6 218.7L318.6 214.7Z" fill="#ff3700"/><path d="M337.6 209.6L341.6 213.6L337.6 217.6L333.6 213.6Z" fill="#ff3700"/><path d="M351.9 212.1L355.9 216.1L351.9 220.1L347.9 216.1Z" fill="#ff3700"/><path d="M362.7 209.8L366.7 213.8L362.7 217.8L358.7 213.8Z" fill="#ff3700"/><path d="M300.5 212.7L304.5 216.7L300.5 220.7L296.5 216.7Z" fill="#ff3700"/><path d="M312.9 214.4L316.9 218.4L312.9 222.4L308.9 218.4Z" fill="#ff3700"/><path d="M314.1 213.4L318.1 217.4L314.1 221.4L310.1 217.4Z" fill="#ff3700"/><path d="M319.3 214.3L323.3 218.3L319.3 222.3L315.3 218.3Z" fill="#ff3700"/><path d="M329.7 215.4L333.7 219.4L329.7 223.4L325.7 219.4Z" fill="#ff3700"/><path d="M345.7 215.1L349.7 219.1L345.7 223.1L341.7 219.1Z" fill="#ff3700"/><path d="M350.2 214.6L354.2 218.6L350.2 222.6L346.2 218.6Z" fill="#ff3700"/><path d="M354.6 213.1L358.6 217.1L354.6 221.1L350.6 217.1Z" fill="#ff3700"/><path d="M356.6 212.9L360.6 216.9L356.6 220.9L352.6 216.9Z" fill="#ff3700"/><path d="M365.0 215.5L369.0 219.5L365.0 223.5L361.0 219.5Z" fill="#ff3700"/><path d="M296.8 216.6L300.8 220.6L296.8 224.6L292.8 220.6Z" fill="#ff3700"/><path d="M299.8 218.6L303.8 222.6L299.8 226.6L295.8 222.6Z" fill="#ff3700"/><path d="M323.8 216.1L327.8 220.1L323.8 224.1L319.8 220.1Z" fill="#ff3700"/><path d="M335.9 218.5L339.9 222.5L335.9 226.5L331.9 222.5Z" fill="#ff3700"/><path d="M305.1 220.0L309.1 224.0L305.1 228.0L301.1 224.0Z" fill="#ff3700"/><path d="M323.3 219.2L327.3 223.2L323.3 227.2L319.3 223.2Z" fill="#ff3700"/><path d="M330.4 221.3L334.4 225.3L330.4 229.3L326.4 225.3Z" fill="#ff3700"/><path d="M343.5 221.2L347.5 225.2L343.5 229.2L339.5 225.2Z" fill="#ff3700"/><path d="M363.6 218.5L367.6 222.5L363.6 226.5L359.6 222.5Z" fill="#ff3700"/><path d="M292.5 224.0L296.5 228.0L292.5 232.0L288.5 228.0Z" fill="#ff3700"/><path d="M304.1 221.6L308.1 225.6L304.1 229.6L300.1 225.6Z" fill="#ff3700"/><path d="M320.3 223.0L324.3 227.0L320.3 231.0L316.3 227.0Z" fill="#ff3700"/><path d="M346.5 224.1L350.5 228.1L346.5 232.1L342.5 228.1Z" fill="#ff3700"/><path d="M349.2 223.7L353.2 227.7L349.2 231.7L345.2 227.7Z" fill="#ff3700"/><path d="M358.5 222.4L362.5 226.4L358.5 230.4L354.5 226.4Z" fill="#ff3700"/><path d="M359.0 223.8L363.0 227.8L359.0 231.8L355.0 227.8Z" fill="#ff3700"/><path d="M304.9 226.7L308.9 230.7L304.9 234.7L300.9 230.7Z" fill="#ff3700"/><path d="M341.1 226.9L345.1 230.9L341.1 234.9L337.1 230.9Z" fill="#ff3700"/><path d="M300.7 227.6L304.7 231.6L300.7 235.6L296.7 231.6Z" fill="#ff3700"/><path d="M311.8 231.1L315.8 235.1L311.8 239.1L307.8 235.1Z" fill="#ff3700"/><path d="M326.7 232.2L330.7 236.2L326.7 240.2L322.7 236.2Z" fill="#ff3700"/><path d="M338.1 231.0L342.1 235.0L338.1 239.0L334.1 235.0Z" fill="#ff3700"/><path d="M343.1 233.2L347.1 237.2L343.1 241.2L339.1 237.2Z" fill="#ff3700"/><path d="M298.1 234.9L302.1 238.9L298.1 242.9L294.1 238.9Z" fill="#ff3700"/><path d="M319.3 234.8L323.3 238.8L319.3 242.8L315.3 238.8Z" fill="#ff3700"/><path d="M350.3 235.8L354.3 239.8L350.3 243.8L346.3 239.8Z" fill="#ff3700"/><path d="M353.5 234.3L357.5 238.3L353.5 242.3L349.5 238.3Z" fill="#ff3700"/><path d="M298.7 236.6L302.7 240.6L298.7 244.6L294.7 240.6Z" fill="#ff3700"/><path d="M345.2 238.0L349.2 242.0L345.2 246.0L341.2 242.0Z" fill="#ff3700"/><path d="M299.4 240.9L303.4 244.9L299.4 248.9L295.4 244.9Z" fill="#ff3700"/><path d="M305.5 240.0L309.5 244.0L305.5 248.0L301.5 244.0Z" fill="#ff3700"/><path d="M308.1 242.1L312.1 246.1L308.1 250.1L304.1 246.1Z" fill="#ff3700"/><path d="M361.3 239.7L365.3 243.7L361.3 247.7L357.3 243.7Z" fill="#ff3700"/><path d="M305.3 244.3L309.3 248.3L305.3 252.3L301.3 248.3Z" fill="#ff3700"/><path d="M349.6 243.5L353.6 247.5L349.6 251.5L345.6 247.5Z" fill="#ff3700"/><path d="M351.1 247.6L355.1 251.6L351.1 255.6L347.1 251.6Z" fill="#ff3700"/><path d="M355.1 245.9L359.1 249.9L355.1 253.9L351.1 249.9Z" fill="#ff3700"/><path d="M297.2 250.4L301.2 254.4L297.2 258.4L293.2 254.4Z" fill="#ff3700"/><path d="M307.5 251.2L311.5 255.2L307.5 259.2L303.5 255.2Z" fill="#ff3700"/><path d="M314.0 248.6L318.0 252.6L314.0 256.6L310.0 252.6Z" fill="#ff3700"/><path d="M339.7 250.3L343.7 254.3L339.7 258.3L335.7 254.3Z" fill="#ff3700"/><path d="M307.5 251.4L311.5 255.4L307.5 259.4L303.5 255.4Z" fill="#ff3700"/><path d="M317.9 252.1L321.9 256.1L317.9 260.1L313.9 256.1Z" fill="#ff3700"/><path d="M325.5 252.9L329.5 256.9L325.5 260.9L321.5 256.9Z" fill="#ff3700"/><path d="M352.4 252.3L356.4 256.3L352.4 260.3L348.4 256.3Z" fill="#ff3700"/><path d="M306.0 255.7L310.0 259.7L306.0 263.7L302.0 259.7Z" fill="#ff3700"/><path d="M298.1 260.2L302.1 264.2L298.1 268.2L294.1 264.2Z" fill="#ff3700"/><path d="M310.5 259.7L314.5 263.7L310.5 267.7L306.5 263.7Z" fill="#ff3700"/><path d="M328.8 259.6L332.8 263.6L328.8 267.6L324.8 263.6Z" fill="#ff3700"/><path d="M317.8 263.9L321.8 267.9L317.8 271.9L313.8 267.9Z" fill="#ff3700"/><path d="M329.3 263.7L333.3 267.7L329.3 271.7L325.3 267.7Z" fill="#ff3700"/><path d="M307.2 266.5L311.2 270.5L307.2 274.5L303.2 270.5Z" fill="#ff3700"/><path d="M338.3 267.7L342.3 271.7L338.3 275.7L334.3 271.7Z" fill="#ff3700"/><path d="M326.4 274.5L330.4 278.5L326.4 282.5L322.4 278.5Z" fill="#ff3700"/><path d="M313.6 283.8L317.6 287.8L313.6 291.8L309.6 287.8Z" fill="#ff3700"/><path d="M372.4 82.0L376.4 86.0L372.4 90.0L368.4 86.0Z" fill="#ff3700"/><path d="M372.0 83.0L376.0 87.0L372.0 91.0L368.0 87.0Z" fill="#ff3700"/><path d="M371.2 88.0L375.2 92.0L371.2 96.0L367.2 92.0Z" fill="#ff3700"/><path d="M375.4 90.5L379.4 94.5L375.4 98.5L371.4 94.5Z" fill="#ff3700"/><path d="M377.1 94.7L381.1 98.7L377.1 102.7L373.1 98.7Z" fill="#ff3700"/><path d="M369.5 79.0L373.5 83.0L369.5 87.0L365.5 83.0Z" fill="#ff2400"/><path d="M368.8 85.3L372.8 89.3L368.8 93.3L364.8 89.3Z" fill="#ff2400"/><path d="M363.9 89.7L367.9 93.7L363.9 97.7L359.9 93.7Z" fill="#ff2400"/><path d="M364.7 90.4L368.7 94.4L364.7 98.4L360.7 94.4Z" fill="#ff2400"/><path d="M351.1 94.0L355.1 98.0L351.1 102.0L347.1 98.0Z" fill="#ff2400"/><path d="M353.7 95.3L357.7 99.3L353.7 103.3L349.7 99.3Z" fill="#ff2400"/><path d="M369.5 92.6L373.5 96.6L369.5 100.6L365.5 96.6Z" fill="#ff2400"/><path d="M375.8 94.9L379.8 98.9L375.8 102.9L371.8 98.9Z" fill="#ff2400"/><path d="M366.4 98.7L370.4 102.7L366.4 106.7L362.4 102.7Z" fill="#ff2400"/><path d="M402.5 99.6L406.5 103.6L402.5 107.6L398.5 103.6Z" fill="#ff2400"/><path d="M408.6 100.1L412.6 104.1L408.6 108.1L404.6 104.1Z" fill="#ff2400"/><path d="M354.4 104.6L358.4 108.6L354.4 112.6L350.4 108.6Z" fill="#ff2400"/><path d="M382.0 107.2L386.0 111.2L382.0 115.2L378.0 111.2Z" fill="#ff2400"/><path d="M387.7 106.6L391.7 110.6L387.7 114.6L383.7 110.6Z" fill="#ff2400"/><path d="M395.6 105.3L399.6 109.3L395.6 113.3L391.6 109.3Z" fill="#ff2400"/><path d="M406.6 107.0L410.6 111.0L406.6 115.0L402.6 111.0Z" fill="#ff2400"/><path d="M409.1 106.0L413.1 110.0L409.1 114.0L405.1 110.0Z" fill="#ff2400"/><path d="M413.5 105.7L417.5 109.7L413.5 113.7L409.5 109.7Z" fill="#ff2400"/><path d="M369.6 108.3L373.6 112.3L369.6 116.3L365.6 112.3Z" fill="#ff2400"/><path d="M371.4 109.0L375.4 113.0L371.4 117.0L367.4 113.0Z" fill="#ff2400"/><path d="M381.0 108.4L385.0 112.4L381.0 116.4L377.0 112.4Z" fill="#ff2400"/><path d="M392.4 109.7L396.4 113.7L392.4 117.7L388.4 113.7Z" fill="#ff2400"/><path d="M397.0 108.6L401.0 112.6L397.0 116.6L393.0 112.6Z" fill="#ff2400"/><path d="M398.4 107.6L402.4 111.6L398.4 115.6L394.4 111.6Z" fill="#ff2400"/><path d="M400.7 108.5L404.7 112.5L400.7 116.5L396.7 112.5Z" fill="#ff2400"/><path d="M413.7 108.4L417.7 112.4L413.7 116.4L409.7 112.4Z" fill="#ff2400"/><path d="M389.2 111.5L393.2 115.5L389.2 119.5L385.2 115.5Z" fill="#ff2400"/><path d="M392.0 113.6L396.0 117.6L392.0 121.6L388.0 117.6Z" fill="#ff2400"/><path d="M406.4 111.5L410.4 115.5L406.4 119.5L402.4 115.5Z" fill="#ff2400"/><path d="M410.3 113.1L414.3 117.1L410.3 121.1L406.3 117.1Z" fill="#ff2400"/><path d="M419.5 112.3L423.5 116.3L419.5 120.3L415.5 116.3Z" fill="#ff2400"/><path d="M422.3 112.6L426.3 116.6L422.3 120.6L418.3 116.6Z" fill="#ff2400"/><path d="M424.4 111.6L428.4 115.6L424.4 119.6L420.4 115.6Z" fill="#ff2400"/><path d="M367.5 115.7L371.5 119.7L367.5 123.7L363.5 119.7Z" fill="#ff2400"/><path d="M387.0 115.5L391.0 119.5L387.0 123.5L383.0 119.5Z" fill="#ff2400"/><path d="M415.5 113.4L419.5 117.4L415.5 121.4L411.5 117.4Z" fill="#ff2400"/><path d="M416.2 116.5L420.2 120.5L416.2 124.5L412.2 120.5Z" fill="#ff2400"/><path d="M430.0 116.4L434.0 120.4L430.0 124.4L426.0 120.4Z" fill="#ff2400"/><path d="M362.5 117.7L366.5 121.7L362.5 125.7L358.5 121.7Z" fill="#ff2400"/><path d="M389.0 118.1L393.0 122.1L389.0 126.1L385.0 122.1Z" fill="#ff2400"/><path d="M399.9 119.0L403.9 123.0L399.9 127.0L395.9 123.0Z" fill="#ff2400"/><path d="M404.0 119.2L408.0 123.2L404.0 127.2L400.0 123.2Z" fill="#ff2400"/><path d="M409.5 118.9L413.5 122.9L409.5 126.9L405.5 122.9Z" fill="#ff2400"/><path d="M413.6 119.0L417.6 123.0L413.6 127.0L409.6 123.0Z" fill="#ff2400"/><path d="M417.4 118.1L421.4 122.1L417.4 126.1L413.4 122.1Z" fill="#ff2400"/><path d="M420.8 118.6L424.8 122.6L420.8 126.6L416.8 122.6Z" fill="#ff2400"/><path d="M428.5 117.1L432.5 121.1L428.5 125.1L424.5 121.1Z" fill="#ff2400"/><path d="M435.2 118.2L439.2 122.2L435.2 126.2L431.2 122.2Z" fill="#ff2400"/><path d="M350.5 120.5L354.5 124.5L350.5 128.5L346.5 124.5Z" fill="#ff2400"/><path d="M369.6 121.4L373.6 125.4L369.6 129.4L365.6 125.4Z" fill="#ff2400"/><path d="M373.6 121.0L377.6 125.0L373.6 129.0L369.6 125.0Z" fill="#ff2400"/><path d="M410.0 119.8L414.0 123.8L410.0 127.8L406.0 123.8Z" fill="#ff2400"/><path d="M415.1 122.2L419.1 126.2L415.1 130.2L411.1 126.2Z" fill="#ff2400"/><path d="M421.2 122.5L425.2 126.5L421.2 130.5L417.2 126.5Z" fill="#ff2400"/><path d="M374.3 125.1L378.3 129.1L374.3 133.1L370.3 129.1Z" fill="#ff2400"/><path d="M379.4 124.5L383.4 128.5L379.4 132.5L375.4 128.5Z" fill="#ff2400"/><path d="M393.5 123.9L397.5 127.9L393.5 131.9L389.5 127.9Z" fill="#ff2400"/><path d="M397.3 125.4L401.3 129.4L397.3 133.4L393.3 129.4Z" fill="#ff2400"/><path d="M405.9 123.2L409.9 127.2L405.9 131.2L401.9 127.2Z" fill="#ff2400"/><path d="M414.2 125.4L418.2 129.4L414.2 133.4L410.2 129.4Z" fill="#ff2400"/><path d="M337.5 128.2L341.5 132.2L337.5 136.2L333.5 132.2Z" fill="#ff2400"/><path d="M349.8 125.6L353.8 129.6L349.8 133.6L345.8 129.6Z" fill="#ff2400"/><path d="M354.8 127.7L358.8 131.7L354.8 135.7L350.8 131.7Z" fill="#ff2400"/><path d="M378.8 127.4L382.8 131.4L378.8 135.4L374.8 131.4Z" fill="#ff2400"/><path d="M383.7 127.5L387.7 131.5L383.7 135.5L379.7 131.5Z" fill="#ff2400"/><path d="M386.1 127.3L390.1 131.3L386.1 135.3L382.1 131.3Z" fill="#ff2400"/><path d="M390.5 126.8L394.5 130.8L390.5 134.8L386.5 130.8Z" fill="#ff2400"/><path d="M393.3 125.7L397.3 129.7L393.3 133.7L389.3 129.7Z" fill="#ff2400"/><path d="M409.1 126.7L413.1 130.7L409.1 134.7L405.1 130.7Z" fill="#ff2400"/><path d="M413.2 127.7L417.2 131.7L413.2 135.7L409.2 131.7Z" fill="#ff2400"/><path d="M338.4 131.1L342.4 135.1L338.4 139.1L334.4 135.1Z" fill="#ff2400"/><path d="M352.6 128.7L356.6 132.7L352.6 136.7L348.6 132.7Z" fill="#ff2400"/><path d="M357.4 130.2L361.4 134.2L357.4 138.2L353.4 134.2Z" fill="#ff2400"/><path d="M379.0 129.8L383.0 133.8L379.0 137.8L375.0 133.8Z" fill="#ff2400"/><path d="M380.7 129.6L384.7 133.6L380.7 137.6L376.7 133.6Z" fill="#ff2400"/><path d="M388.5 130.9L392.5 134.9L388.5 138.9L384.5 134.9Z" fill="#ff2400"/><path d="M399.0 129.1L403.0 133.1L399.0 137.1L395.0 133.1Z" fill="#ff2400"/><path d="M407.4 131.2L411.4 135.2L407.4 139.2L403.4 135.2Z" fill="#ff2400"/><path d="M412.9 129.6L416.9 133.6L412.9 137.6L408.9 133.6Z" fill="#ff2400"/><path d="M420.1 128.6L424.1 132.6L420.1 136.6L416.1 132.6Z" fill="#ff2400"/><path d="M422.9 131.3L426.9 135.3L422.9 139.3L418.9 135.3Z" fill="#ff2400"/><path d="M339.5 133.3L343.5 137.3L339.5 141.3L335.5 137.3Z" fill="#ff2400"/><path d="M368.8 131.6L372.8 135.6L368.8 139.6L364.8 135.6Z" fill="#ff2400"/><path d="M384.3 132.7L388.3 136.7L384.3 140.7L380.3 136.7Z" fill="#ff2400"/><path d="M394.7 133.7L398.7 137.7L394.7 141.7L390.7 137.7Z" fill="#ff2400"/><path d="M404.6 133.3L408.6 137.3L404.6 141.3L400.6 137.3Z" fill="#ff2400"/><path d="M342.3 136.0L346.3 140.0L342.3 144.0L338.3 140.0Z" fill="#ff2400"/><path d="M348.9 135.3L352.9 139.3L348.9 143.3L344.9 139.3Z" fill="#ff2400"/><path d="M350.3 137.5L354.3 141.5L350.3 145.5L346.3 141.5Z" fill="#ff2400"/><path d="M370.8 137.2L374.8 141.2L370.8 145.2L366.8 141.2Z" fill="#ff2400"/><path d="M408.1 137.2L412.1 141.2L408.1 145.2L404.1 141.2Z" fill="#ff2400"/><path d="M422.0 137.5L426.0 141.5L422.0 145.5L418.0 141.5Z" fill="#ff2400"/><path d="M424.7 136.0L428.7 140.0L424.7 144.0L420.7 140.0Z" fill="#ff2400"/><path d="M344.7 139.0L348.7 143.0L344.7 147.0L340.7 143.0Z" fill="#ff2400"/><path d="M353.8 138.9L357.8 142.9L353.8 146.9L349.8 142.9Z" fill="#ff2400"/><path d="M361.0 137.4L365.0 141.4L361.0 145.4L357.0 141.4Z" fill="#ff2400"/><path d="M366.9 139.3L370.9 143.3L366.9 147.3L362.9 143.3Z" fill="#ff2400"/><path d="M375.3 139.2L379.3 143.2L375.3 147.2L371.3 143.2Z" fill="#ff2400"/><path d="M381.4 138.9L385.4 142.9L381.4 146.9L377.4 142.9Z" fill="#ff2400"/><path d="M405.6 137.9L409.6 141.9L405.6 145.9L401.6 141.9Z" fill="#ff2400"/><path d="M415.6 139.6L419.6 143.6L415.6 147.6L411.6 143.6Z" fill="#ff2400"/><path d="M324.3 142.7L328.3 146.7L324.3 150.7L320.3 146.7Z" fill="#ff2400"/><path d="M326.8 142.1L330.8 146.1L326.8 150.1L322.8 146.1Z" fill="#ff2400"/><path d="M345.3 140.8L349.3 144.8L345.3 148.8L341.3 144.8Z" fill="#ff2400"/><path d="M353.1 142.7L357.1 146.7L353.1 150.7L349.1 146.7Z" fill="#ff2400"/><path d="M356.3 140.7L360.3 144.7L356.3 148.7L352.3 144.7Z" fill="#ff2400"/><path d="M361.4 142.3L365.4 146.3L361.4 150.3L357.4 146.3Z" fill="#ff2400"/><path d="M368.8 141.3L372.8 145.3L368.8 149.3L364.8 145.3Z" fill="#ff2400"/><path d="M371.0 141.6L375.0 145.6L371.0 149.6L367.0 145.6Z" fill="#ff2400"/><path d="M385.8 143.4L389.8 147.4L385.8 151.4L381.8 147.4Z" fill="#ff2400"/><path d="M395.8 141.3L399.8 145.3L395.8 149.3L391.8 145.3Z" fill="#ff2400"/><path d="M397.8 141.5L401.8 145.5L397.8 149.5L393.8 145.5Z" fill="#ff2400"/><path d="M403.5 142.3L407.5 146.3L403.5 150.3L399.5 146.3Z" fill="#ff2400"/><path d="M421.5 140.6L425.5 144.6L421.5 148.6L417.5 144.6Z" fill="#ff2400"/><path d="M323.9 146.3L327.9 150.3L323.9 154.3L319.9 150.3Z" fill="#ff2400"/><path d="M352.7 146.1L356.7 150.1L352.7 154.1L348.7 150.1Z" fill="#ff2400"/><path d="M355.9 145.2L359.9 149.2L355.9 153.2L351.9 149.2Z" fill="#ff2400"/><path d="M382.4 143.8L386.4 147.8L382.4 151.8L378.4 147.8Z" fill="#ff2400"/><path d="M393.1 146.4L397.1 150.4L393.1 154.4L389.1 150.4Z" fill="#ff2400"/><path d="M328.6 148.0L332.6 152.0L328.6 156.0L324.6 152.0Z" fill="#ff2400"/><path d="M364.6 148.6L368.6 152.6L364.6 156.6L360.6 152.6Z" fill="#ff2400"/><path d="M382.8 148.0L386.8 152.0L382.8 156.0L378.8 152.0Z" fill="#ff2400"/><path d="M394.1 148.3L398.1 152.3L394.1 156.3L390.1 152.3Z" fill="#ff2400"/><path d="M323.9 152.5L327.9 156.5L323.9 160.5L319.9 156.5Z" fill="#ff2400"/><path d="M346.5 152.5L350.5 156.5L346.5 160.5L342.5 156.5Z" fill="#ff2400"/><path d="M351.9 150.8L355.9 154.8L351.9 158.8L347.9 154.8Z" fill="#ff2400"/><path d="M357.2 149.7L361.2 153.7L357.2 157.7L353.2 153.7Z" fill="#ff2400"/><path d="M358.6 150.9L362.6 154.9L358.6 158.9L354.6 154.9Z" fill="#ff2400"/><path d="M390.0 151.3L394.0 155.3L390.0 159.3L386.0 155.3Z" fill="#ff2400"/><path d="M344.1 153.5L348.1 157.5L344.1 161.5L340.1 157.5Z" fill="#ff2400"/><path d="M350.4 154.1L354.4 158.1L350.4 162.1L346.4 158.1Z" fill="#ff2400"/><path d="M353.8 154.9L357.8 158.9L353.8 162.9L349.8 158.9Z" fill="#ff2400"/><path d="M361.4 153.9L365.4 157.9L361.4 161.9L357.4 157.9Z" fill="#ff2400"/><path d="M364.8 152.5L368.8 156.5L364.8 160.5L360.8 156.5Z" fill="#ff2400"/><path d="M368.6 152.4L372.6 156.4L368.6 160.4L364.6 156.4Z" fill="#ff2400"/><path d="M377.9 152.5L381.9 156.5L377.9 160.5L373.9 156.5Z" fill="#ff2400"/><path d="M387.4 154.2L391.4 158.2L387.4 162.2L383.4 158.2Z" fill="#ff2400"/><path d="M338.6 156.2L342.6 160.2L338.6 164.2L334.6 160.2Z" fill="#ff2400"/><path d="M357.9 155.4L361.9 159.4L357.9 163.4L353.9 159.4Z" fill="#ff2400"/><path d="M360.4 155.9L364.4 159.9L360.4 163.9L356.4 159.9Z" fill="#ff2400"/><path d="M363.6 155.9L367.6 159.9L363.6 163.9L359.6 159.9Z" fill="#ff2400"/><path d="M382.8 155.5L386.8 159.5L382.8 163.5L378.8 159.5Z" fill="#ff2400"/><path d="M388.3 157.6L392.3 161.6L388.3 165.6L384.3 161.6Z" fill="#ff2400"/><path d="M358.5 161.1L362.5 165.1L358.5 169.1L354.5 165.1Z" fill="#ff2400"/><path d="M366.2 158.7L370.2 162.7L366.2 166.7L362.2 162.7Z" fill="#ff2400"/><path d="M379.5 160.3L383.5 164.3L379.5 168.3L375.5 164.3Z" fill="#ff2400"/><path d="M384.5 161.4L388.5 165.4L384.5 169.4L380.5 165.4Z" fill="#ff2400"/><path d="M304.5 164.3L308.5 168.3L304.5 172.3L300.5 168.3Z" fill="#ff2400"/><path d="M354.4 162.9L358.4 166.9L354.4 170.9L350.4 166.9Z" fill="#ff2400"/><path d="M366.6 163.2L370.6 167.2L366.6 171.2L362.6 167.2Z" fill="#ff2400"/><path d="M383.9 161.4L387.9 165.4L383.9 169.4L379.9 165.4Z" fill="#ff2400"/><path d="M325.7 166.4L329.7 170.4L325.7 174.4L321.7 170.4Z" fill="#ff2400"/><path d="M340.4 164.6L344.4 168.6L340.4 172.6L336.4 168.6Z" fill="#ff2400"/><path d="M349.8 165.8L353.8 169.8L349.8 173.8L345.8 169.8Z" fill="#ff2400"/><path d="M359.9 164.8L363.9 168.8L359.9 172.8L355.9 168.8Z" fill="#ff2400"/><path d="M371.5 165.1L375.5 169.1L371.5 173.1L367.5 169.1Z" fill="#ff2400"/><path d="M312.6 169.1L316.6 173.1L312.6 177.1L308.6 173.1Z" fill="#ff2400"/><path d="M321.2 169.6L325.2 173.6L321.2 177.6L317.2 173.6Z" fill="#ff2400"/><path d="M337.6 169.5L341.6 173.5L337.6 177.5L333.6 173.5Z" fill="#ff2400"/><path d="M374.4 169.2L378.4 173.2L374.4 177.2L370.4 173.2Z" fill="#ff2400"/><path d="M382.7 170.3L386.7 174.3L382.7 178.3L378.7 174.3Z" fill="#ff2400"/><path d="M298.3 170.8L302.3 174.8L298.3 178.8L294.3 174.8Z" fill="#ff2400"/><path d="M309.8 173.5L313.8 177.5L309.8 181.5L305.8 177.5Z" fill="#ff2400"/><path d="M322.5 172.6L326.5 176.6L322.5 180.6L318.5 176.6Z" fill="#ff2400"/><path d="M335.5 173.5L339.5 177.5L335.5 181.5L331.5 177.5Z" fill="#ff2400"/><path d="M348.5 170.5L352.5 174.5L348.5 178.5L344.5 174.5Z" fill="#ff2400"/><path d="M355.4 170.7L359.4 174.7L355.4 178.7L351.4 174.7Z" fill="#ff2400"/><path d="M371.9 170.8L375.9 174.8L371.9 178.8L367.9 174.8Z" fill="#ff2400"/><path d="M376.1 171.2L380.1 175.2L376.1 179.2L372.1 175.2Z" fill="#ff2400"/><path d="M383.9 171.4L387.9 175.4L383.9 179.4L379.9 175.4Z" fill="#ff2400"/><path d="M310.3 173.6L314.3 177.6L310.3 181.6L306.3 177.6Z" fill="#ff2400"/><path d="M339.9 173.7L343.9 177.7L339.9 181.7L335.9 177.7Z" fill="#ff2400"/><path d="M343.3 176.2L347.3 180.2L343.3 184.2L339.3 180.2Z" fill="#ff2400"/><path d="M353.6 175.2L357.6 179.2L353.6 183.2L349.6 179.2Z" fill="#ff2400"/><path d="M376.4 173.7L380.4 177.7L376.4 181.7L372.4 177.7Z" fill="#ff2400"/><path d="M304.6 177.4L308.6 181.4L304.6 185.4L300.6 181.4Z" fill="#ff2400"/><path d="M315.6 177.9L319.6 181.9L315.6 185.9L311.6 181.9Z" fill="#ff2400"/><path d="M317.5 177.4L321.5 181.4L317.5 185.4L313.5 181.4Z" fill="#ff2400"/><path d="M322.5 178.3L326.5 182.3L322.5 186.3L318.5 182.3Z" fill="#ff2400"/><path d="M334.1 177.5L338.1 181.5L334.1 185.5L330.1 181.5Z" fill="#ff2400"/><path d="M335.4 177.4L339.4 181.4L335.4 185.4L331.4 181.4Z" fill="#ff2400"/><path d="M346.1 177.1L350.1 181.1L346.1 185.1L342.1 181.1Z" fill="#ff2400"/><path d="M347.5 178.2L351.5 182.2L347.5 186.2L343.5 182.2Z" fill="#ff2400"/><path d="M359.4 179.1L363.4 183.1L359.4 187.1L355.4 183.1Z" fill="#ff2400"/><path d="M369.6 177.2L373.6 181.2L369.6 185.2L365.6 181.2Z" fill="#ff2400"/><path d="M372.0 176.8L376.0 180.8L372.0 184.8L368.0 180.8Z" fill="#ff2400"/><path d="M307.7 182.1L311.7 186.1L307.7 190.1L303.7 186.1Z" fill="#ff2400"/><path d="M326.3 182.3L330.3 186.3L326.3 190.3L322.3 186.3Z" fill="#ff2400"/><path d="M329.5 181.7L333.5 185.7L329.5 189.7L325.5 185.7Z" fill="#ff2400"/><path d="M336.4 182.6L340.4 186.6L336.4 190.6L332.4 186.6Z" fill="#ff2400"/><path d="M342.9 179.8L346.9 183.8L342.9 187.8L338.9 183.8Z" fill="#ff2400"/><path d="M354.8 180.4L358.8 184.4L354.8 188.4L350.8 184.4Z" fill="#ff2400"/><path d="M356.6 181.6L360.6 185.6L356.6 189.6L352.6 185.6Z" fill="#ff2400"/><path d="M370.1 179.5L374.1 183.5L370.1 187.5L366.1 183.5Z" fill="#ff2400"/><path d="M373.8 181.5L377.8 185.5L373.8 189.5L369.8 185.5Z" fill="#ff2400"/><path d="M307.4 184.4L311.4 188.4L307.4 192.4L303.4 188.4Z" fill="#ff2400"/><path d="M320.4 183.1L324.4 187.1L320.4 191.1L316.4 187.1Z" fill="#ff2400"/><path d="M335.0 183.9L339.0 187.9L335.0 191.9L331.0 187.9Z" fill="#ff2400"/><path d="M347.6 184.0L351.6 188.0L347.6 192.0L343.6 188.0Z" fill="#ff2400"/><path d="M351.0 184.4L355.0 188.4L351.0 192.4L347.0 188.4Z" fill="#ff2400"/><path d="M353.7 184.4L357.7 188.4L353.7 192.4L349.7 188.4Z" fill="#ff2400"/><path d="M369.9 183.6L373.9 187.6L369.9 191.6L365.9 187.6Z" fill="#ff2400"/><path d="M313.2 185.6L317.2 189.6L313.2 193.6L309.2 189.6Z" fill="#ff2400"/><path d="M318.4 185.7L322.4 189.7L318.4 193.7L314.4 189.7Z" fill="#ff2400"/><path d="M322.6 187.6L326.6 191.6L322.6 195.6L318.6 191.6Z" fill="#ff2400"/><path d="M331.6 187.2L335.6 191.2L331.6 195.2L327.6 191.2Z" fill="#ff2400"/><path d="M334.5 186.3L338.5 190.3L334.5 194.3L330.5 190.3Z" fill="#ff2400"/><path d="M370.4 186.0L374.4 190.0L370.4 194.0L366.4 190.0Z" fill="#ff2400"/><path d="M374.9 186.0L378.9 190.0L374.9 194.0L370.9 190.0Z" fill="#ff2400"/><path d="M295.3 189.1L299.3 193.1L295.3 197.1L291.3 193.1Z" fill="#ff2400"/><path d="M325.5 188.4L329.5 192.4L325.5 196.4L321.5 192.4Z" fill="#ff2400"/><path d="M334.2 188.9L338.2 192.9L334.2 196.9L330.2 192.9Z" fill="#ff2400"/><path d="M356.5 188.8L360.5 192.8L356.5 196.8L352.5 192.8Z" fill="#ff2400"/><path d="M367.2 190.1L371.2 194.1L367.2 198.1L363.2 194.1Z" fill="#ff2400"/><path d="M317.4 191.4L321.4 195.4L317.4 199.4L313.4 195.4Z" fill="#ff2400"/><path d="M328.1 192.4L332.1 196.4L328.1 200.4L324.1 196.4Z" fill="#ff2400"/><path d="M347.9 192.0L351.9 196.0L347.9 200.0L343.9 196.0Z" fill="#ff2400"/><path d="M367.5 192.8L371.5 196.8L367.5 200.8L363.5 196.8Z" fill="#ff2400"/><path d="M374.3 192.0L378.3 196.0L374.3 200.0L370.3 196.0Z" fill="#ff2400"/><path d="M297.1 195.8L301.1 199.8L297.1 203.8L293.1 199.8Z" fill="#ff2400"/><path d="M319.3 195.0L323.3 199.0L319.3 203.0L315.3 199.0Z" fill="#ff2400"/><path d="M324.0 196.0L328.0 200.0L324.0 204.0L320.0 200.0Z" fill="#ff2400"/><path d="M328.5 194.4L332.5 198.4L328.5 202.4L324.5 198.4Z" fill="#ff2400"/><path d="M336.2 196.8L340.2 200.8L336.2 204.8L332.2 200.8Z" fill="#ff2400"/><path d="M346.5 196.8L350.5 200.8L346.5 204.8L342.5 200.8Z" fill="#ff2400"/><path d="M351.0 195.9L355.0 199.9L351.0 203.9L347.0 199.9Z" fill="#ff2400"/><path d="M371.1 197.0L375.1 201.0L371.1 205.0L367.1 201.0Z" fill="#ff2400"/><path d="M294.6 200.5L298.6 204.5L294.6 208.5L290.6 204.5Z" fill="#ff2400"/><path d="M298.5 200.4L302.5 204.4L298.5 208.4L294.5 204.4Z" fill="#ff2400"/><path d="M301.2 199.7L305.2 203.7L301.2 207.7L297.2 203.7Z" fill="#ff2400"/><path d="M302.0 197.4L306.0 201.4L302.0 205.4L298.0 201.4Z" fill="#ff2400"/><path d="M329.6 199.5L333.6 203.5L329.6 207.5L325.6 203.5Z" fill="#ff2400"/><path d="M357.4 199.9L361.4 203.9L357.4 207.9L353.4 203.9Z" fill="#ff2400"/><path d="M361.0 198.0L365.0 202.0L361.0 206.0L357.0 202.0Z" fill="#ff2400"/><path d="M366.1 197.5L370.1 201.5L366.1 205.5L362.1 201.5Z" fill="#ff2400"/><path d="M334.4 202.1L338.4 206.1L334.4 210.1L330.4 206.1Z" fill="#ff2400"/><path d="M336.6 202.1L340.6 206.1L336.6 210.1L332.6 206.1Z" fill="#ff2400"/><path d="M348.7 203.3L352.7 207.3L348.7 211.3L344.7 207.3Z" fill="#ff2400"/><path d="M351.1 201.3L355.1 205.3L351.1 209.3L347.1 205.3Z" fill="#ff2400"/><path d="M358.5 201.1L362.5 205.1L358.5 209.1L354.5 205.1Z" fill="#ff2400"/><path d="M359.7 203.4L363.7 207.4L359.7 211.4L355.7 207.4Z" fill="#ff2400"/><path d="M367.3 202.9L371.3 206.9L367.3 210.9L363.3 206.9Z" fill="#ff2400"/><path d="M298.4 204.0L302.4 208.0L298.4 212.0L294.4 208.0Z" fill="#ff2400"/><path d="M316.2 205.0L320.2 209.0L316.2 213.0L312.2 209.0Z" fill="#ff2400"/><path d="M318.8 204.7L322.8 208.7L318.8 212.7L314.8 208.7Z" fill="#ff2400"/><path d="M322.1 204.6L326.1 208.6L322.1 212.6L318.1 208.6Z" fill="#ff2400"/><path d="M322.4 205.0L326.4 209.0L322.4 213.0L318.4 209.0Z" fill="#ff2400"/><path d="M327.2 205.9L331.2 209.9L327.2 213.9L323.2 209.9Z" fill="#ff2400"/><path d="M342.1 203.8L346.1 207.8L342.1 211.8L338.1 207.8Z" fill="#ff2400"/><path d="M358.4 204.2L362.4 208.2L358.4 212.2L354.4 208.2Z" fill="#ff2400"/><path d="M361.5 203.6L365.5 207.6L361.5 211.6L357.5 207.6Z" fill="#ff2400"/><path d="M302.7 208.5L306.7 212.5L302.7 216.5L298.7 212.5Z" fill="#ff2400"/><path d="M315.9 207.4L319.9 211.4L315.9 215.4L311.9 211.4Z" fill="#ff2400"/><path d="M321.4 207.6L325.4 211.6L321.4 215.6L317.4 211.6Z" fill="#ff2400"/><path d="M341.5 206.9L345.5 210.9L341.5 214.9L337.5 210.9Z" fill="#ff2400"/><path d="M344.8 206.9L348.8 210.9L344.8 214.9L340.8 210.9Z" fill="#ff2400"/><path d="M365.6 208.7L369.6 212.7L365.6 216.7L361.6 212.7Z" fill="#ff2400"/><path d="M303.7 209.7L307.7 213.7L303.7 217.7L299.7 213.7Z" fill="#ff2400"/><path d="M307.7 211.8L311.7 215.8L307.7 219.8L303.7 215.8Z" fill="#ff2400"/><path d="M319.4 211.6L323.4 215.6L319.4 219.6L315.4 215.6Z" fill="#ff2400"/><path d="M330.5 209.8L334.5 213.8L330.5 217.8L326.5 213.8Z" fill="#ff2400"/><path d="M341.7 210.1L345.7 214.1L341.7 218.1L337.7 214.1Z" fill="#ff2400"/><path d="M358.9 209.6L362.9 213.6L358.9 217.6L354.9 213.6Z" fill="#ff2400"/><path d="M298.2 212.9L302.2 216.9L298.2 220.9L294.2 216.9Z" fill="#ff2400"/><path d="M322.5 214.0L326.5 218.0L322.5 222.0L318.5 218.0Z" fill="#ff2400"/><path d="M340.4 213.6L344.4 217.6L340.4 221.6L336.4 217.6Z" fill="#ff2400"/><path d="M349.1 212.9L353.1 216.9L349.1 220.9L345.1 216.9Z" fill="#ff2400"/><path d="M360.4 214.9L364.4 218.9L360.4 222.9L356.4 218.9Z" fill="#ff2400"/><path d="M361.7 214.8L365.7 218.8L361.7 222.8L357.7 218.8Z" fill="#ff2400"/><path d="M326.6 218.0L330.6 222.0L326.6 226.0L322.6 222.0Z" fill="#ff2400"/><path d="M333.6 216.6L337.6 220.6L333.6 224.6L329.6 220.6Z" fill="#ff2400"/><path d="M340.1 216.4L344.1 220.4L340.1 224.4L336.1 220.4Z" fill="#ff2400"/><path d="M348.6 218.6L352.6 222.6L348.6 226.6L344.6 222.6Z" fill="#ff2400"/><path d="M350.6 216.5L354.6 220.5L350.6 224.5L346.6 220.5Z" fill="#ff2400"/><path d="M358.9 217.5L362.9 221.5L358.9 225.5L354.9 221.5Z" fill="#ff2400"/><path d="M363.9 215.9L367.9 219.9L363.9 223.9L359.9 219.9Z" fill="#ff2400"/><path d="M312.9 220.4L316.9 224.4L312.9 228.4L308.9 224.4Z" fill="#ff2400"/><path d="M317.3 221.6L321.3 225.6L317.3 229.6L313.3 225.6Z" fill="#ff2400"/><path d="M327.1 218.5L331.1 222.5L327.1 226.5L323.1 222.5Z" fill="#ff2400"/><path d="M333.3 221.4L337.3 225.4L333.3 229.4L329.3 225.4Z" fill="#ff2400"/><path d="M340.0 218.8L344.0 222.8L340.0 226.8L336.0 222.8Z" fill="#ff2400"/><path d="M360.2 218.8L364.2 222.8L360.2 226.8L356.2 222.8Z" fill="#ff2400"/><path d="M300.0 223.5L304.0 227.5L300.0 231.5L296.0 227.5Z" fill="#ff2400"/><path d="M328.5 222.1L332.5 226.1L328.5 230.1L324.5 226.1Z" fill="#ff2400"/><path d="M339.9 223.0L343.9 227.0L339.9 231.0L335.9 227.0Z" fill="#ff2400"/><path d="M343.1 222.2L347.1 226.2L343.1 230.2L339.1 226.2Z" fill="#ff2400"/><path d="M295.8 227.4L299.8 231.4L295.8 235.4L291.8 231.4Z" fill="#ff2400"/><path d="M312.7 225.6L316.7 229.6L312.7 233.6L308.7 229.6Z" fill="#ff2400"/><path d="M313.6 227.5L317.6 231.5L313.6 235.5L309.6 231.5Z" fill="#ff2400"/><path d="M323.1 225.8L327.1 229.8L323.1 233.8L319.1 229.8Z" fill="#ff2400"/><path d="M333.8 224.4L337.8 228.4L333.8 232.4L329.8 228.4Z" fill="#ff2400"/><path d="M344.9 226.8L348.9 230.8L344.9 234.8L340.9 230.8Z" fill="#ff2400"/><path d="M355.3 226.4L359.3 230.4L355.3 234.4L351.3 230.4Z" fill="#ff2400"/><path d="M296.5 230.4L300.5 234.4L296.5 238.4L292.5 234.4Z" fill="#ff2400"/><path d="M314.2 230.2L318.2 234.2L314.2 238.2L310.2 234.2Z" fill="#ff2400"/><path d="M319.9 228.0L323.9 232.0L319.9 236.0L315.9 232.0Z" fill="#ff2400"/><path d="M335.7 227.5L339.7 231.5L335.7 235.5L331.7 231.5Z" fill="#ff2400"/><path d="M344.9 228.8L348.9 232.8L344.9 236.8L340.9 232.8Z" fill="#ff2400"/><path d="M349.5 229.8L353.5 233.8L349.5 237.8L345.5 233.8Z" fill="#ff2400"/><path d="M356.9 230.4L360.9 234.4L356.9 238.4L352.9 234.4Z" fill="#ff2400"/><path d="M295.6 230.9L299.6 234.9L295.6 238.9L291.6 234.9Z" fill="#ff2400"/><path d="M319.7 231.7L323.7 235.7L319.7 239.7L315.7 235.7Z" fill="#ff2400"/><path d="M330.7 230.6L334.7 234.6L330.7 238.6L326.7 234.6Z" fill="#ff2400"/><path d="M331.8 232.6L335.8 236.6L331.8 240.6L327.8 236.6Z" fill="#ff2400"/><path d="M345.4 231.5L349.4 235.5L345.4 239.5L341.4 235.5Z" fill="#ff2400"/><path d="M303.8 234.5L307.8 238.5L303.8 242.5L299.8 238.5Z" fill="#ff2400"/><path d="M304.4 234.3L308.4 238.3L304.4 242.3L300.4 238.3Z" fill="#ff2400"/><path d="M314.1 234.9L318.1 238.9L314.1 242.9L310.1 238.9Z" fill="#ff2400"/><path d="M324.0 235.9L328.0 239.9L324.0 243.9L320.0 239.9Z" fill="#ff2400"/><path d="M328.5 234.1L332.5 238.1L328.5 242.1L324.5 238.1Z" fill="#ff2400"/><path d="M307.3 236.8L311.3 240.8L307.3 244.8L303.3 240.8Z" fill="#ff2400"/><path d="M319.4 239.5L323.4 243.5L319.4 247.5L315.4 243.5Z" fill="#ff2400"/><path d="M323.1 238.0L327.1 242.0L323.1 246.0L319.1 242.0Z" fill="#ff2400"/><path d="M296.1 240.6L300.1 244.6L296.1 248.6L292.1 244.6Z" fill="#ff2400"/><path d="M326.8 240.6L330.8 244.6L326.8 248.6L322.8 244.6Z" fill="#ff2400"/><path d="M333.9 239.8L337.9 243.8L333.9 247.8L329.9 243.8Z" fill="#ff2400"/><path d="M339.1 241.9L343.1 245.9L339.1 249.9L335.1 245.9Z" fill="#ff2400"/><path d="M300.9 244.3L304.9 248.3L300.9 252.3L296.9 248.3Z" fill="#ff2400"/><path d="M319.0 243.4L323.0 247.4L319.0 251.4L315.0 247.4Z" fill="#ff2400"/><path d="M321.3 245.6L325.3 249.6L321.3 253.6L317.3 249.6Z" fill="#ff2400"/><path d="M332.0 242.6L336.0 246.6L332.0 250.6L328.0 246.6Z" fill="#ff2400"/><path d="M348.0 243.7L352.0 247.7L348.0 251.7L344.0 247.7Z" fill="#ff2400"/><path d="M355.5 245.3L359.5 249.3L355.5 253.3L351.5 249.3Z" fill="#ff2400"/><path d="M296.4 246.4L300.4 250.4L296.4 254.4L292.4 250.4Z" fill="#ff2400"/><path d="M311.0 247.3L315.0 251.3L311.0 255.3L307.0 251.3Z" fill="#ff2400"/><path d="M327.9 247.0L331.9 251.0L327.9 255.0L323.9 251.0Z" fill="#ff2400"/><path d="M332.2 247.2L336.2 251.2L332.2 255.2L328.2 251.2Z" fill="#ff2400"/><path d="M338.8 248.1L342.8 252.1L338.8 256.1L334.8 252.1Z" fill="#ff2400"/><path d="M344.2 248.2L348.2 252.2L344.2 256.2L340.2 252.2Z" fill="#ff2400"/><path d="M307.6 251.0L311.6 255.0L307.6 259.0L303.6 255.0Z" fill="#ff2400"/><path d="M328.9 251.2L332.9 255.2L328.9 259.2L324.9 255.2Z" fill="#ff2400"/><path d="M343.5 250.5L347.5 254.5L343.5 258.5L339.5 254.5Z" fill="#ff2400"/><path d="M352.2 251.2L356.2 255.2L352.2 259.2L348.2 255.2Z" fill="#ff2400"/><path d="M305.8 253.3L309.8 257.3L305.8 261.3L301.8 257.3Z" fill="#ff2400"/><path d="M322.4 252.7L326.4 256.7L322.4 260.7L318.4 256.7Z" fill="#ff2400"/><path d="M343.3 253.2L347.3 257.2L343.3 261.2L339.3 257.2Z" fill="#ff2400"/><path d="M345.0 254.0L349.0 258.0L345.0 262.0L341.0 258.0Z" fill="#ff2400"/><path d="M304.3 256.5L308.3 260.5L304.3 264.5L300.3 260.5Z" fill="#ff2400"/><path d="M328.3 256.9L332.3 260.9L328.3 264.9L324.3 260.9Z" fill="#ff2400"/><path d="M341.1 255.5L345.1 259.5L341.1 263.5L337.1 259.5Z" fill="#ff2400"/><path d="M309.9 259.8L313.9 263.8L309.9 267.8L305.9 263.8Z" fill="#ff2400"/><path d="M319.3 257.5L323.3 261.5L319.3 265.5L315.3 261.5Z" fill="#ff2400"/><path d="M321.6 259.7L325.6 263.7L321.6 267.7L317.6 263.7Z" fill="#ff2400"/><path d="M344.6 259.6L348.6 263.6L344.6 267.6L340.6 263.6Z" fill="#ff2400"/><path d="M351.6 258.9L355.6 262.9L351.6 266.9L347.6 262.9Z" fill="#ff2400"/><path d="M318.2 261.9L322.2 265.9L318.2 269.9L314.2 265.9Z" fill="#ff2400"/><path d="M325.5 262.3L329.5 266.3L325.5 270.3L321.5 266.3Z" fill="#ff2400"/><path d="M334.6 263.5L338.6 267.5L334.6 271.5L330.6 267.5Z" fill="#ff2400"/><path d="M344.3 262.0L348.3 266.0L344.3 270.0L340.3 266.0Z" fill="#ff2400"/><path d="M326.6 265.4L330.6 269.4L326.6 273.4L322.6 269.4Z" fill="#ff2400"/><path d="M336.0 264.8L340.0 268.8L336.0 272.8L332.0 268.8Z" fill="#ff2400"/><path d="M340.4 265.3L344.4 269.3L340.4 273.3L336.4 269.3Z" fill="#ff2400"/><path d="M341.3 264.5L345.3 268.5L341.3 272.5L337.3 268.5Z" fill="#ff2400"/><path d="M315.8 268.4L319.8 272.4L315.8 276.4L311.8 272.4Z" fill="#ff2400"/><path d="M335.5 268.3L339.5 272.3L335.5 276.3L331.5 272.3Z" fill="#ff2400"/><path d="M306.1 270.2L310.1 274.2L306.1 278.2L302.1 274.2Z" fill="#ff2400"/><path d="M320.8 269.8L324.8 273.8L320.8 277.8L316.8 273.8Z" fill="#ff2400"/><path d="M311.9 275.2L315.9 279.2L311.9 283.2L307.9 279.2Z" fill="#ff2400"/><path d="M328.5 272.8L332.5 276.8L328.5 280.8L324.5 276.8Z" fill="#ff2400"/><path d="M337.5 273.9L341.5 277.9L337.5 281.9L333.5 277.9Z" fill="#ff2400"/><path d="M309.0 276.2L313.0 280.2L309.0 284.2L305.0 280.2Z" fill="#ff2400"/><path d="M311.9 275.7L315.9 279.7L311.9 283.7L307.9 279.7Z" fill="#ff2400"/><path d="M325.5 276.9L329.5 280.9L325.5 284.9L321.5 280.9Z" fill="#ff2400"/><path d="M312.1 280.6L316.1 284.6L312.1 288.6L308.1 284.6Z" fill="#ff2400"/><path d="M327.2 279.1L331.2 283.1L327.2 287.1L323.2 283.1Z" fill="#ff2400"/><path d="M321.3 284.5L325.3 288.5L321.3 292.5L317.3 288.5Z" fill="#ff2400"/><path d="M323.4 282.6L327.4 286.6L323.4 290.6L319.4 286.6Z" fill="#ff2400"/><path d="M298.0 153.0L302.0 157.0L298.0 161.0L294.0 157.0Z" fill="#ff2400"/><path d="M353.0 88.0L357.0 92.0L353.0 96.0L349.0 92.0Z" fill="#ff2400"/><path d="M375.0 88.8L379.0 92.8L375.0 96.8L371.0 92.8Z" fill="#ff2400"/><path d="M352.6 88.0L356.6 92.0L352.6 96.0L348.6 92.0Z" fill="#ff2400"/><path d="M355.0 273.0L359.0 277.0L355.0 281.0L351.0 277.0Z" fill="#ff2400"/><path d="M366.0 282.4L370.0 286.4L366.0 290.4L362.0 286.4Z" fill="#ff2400"/><path d="M354.5 272.0L358.5 276.0L354.5 280.0L350.5 276.0Z" fill="#ff2400"/><path d="M346.4 274.0L350.4 278.0L346.4 282.0L342.4 278.0Z" fill="#ff2400"/><path d="M363.0 252.0L367.0 256.0L363.0 260.0L359.0 256.0Z" fill="#ff2400"/><path d="M357.0 247.0L361.0 251.0L357.0 255.0L353.0 251.0Z" fill="#ff2400"/><path d="M346.0 264.0L350.0 268.0L346.0 272.0L342.0 268.0Z" fill="#ff2400"/><path d="M403.3 101.5L407.3 105.5L403.3 109.5L399.3 105.5Z" fill="#ff1200"/><path d="M404.8 104.1L408.8 108.1L404.8 112.1L400.8 108.1Z" fill="#ff1200"/><path d="M399.0 106.5L403.0 110.5L399.0 114.5L395.0 110.5Z" fill="#ff1200"/><path d="M416.7 106.7L420.7 110.7L416.7 114.7L412.7 110.7Z" fill="#ff1200"/><path d="M386.9 110.1L390.9 114.1L386.9 118.1L382.9 114.1Z" fill="#ff1200"/><path d="M403.6 107.8L407.6 111.8L403.6 115.8L399.6 111.8Z" fill="#ff1200"/><path d="M410.0 107.5L414.0 111.5L410.0 115.5L406.0 111.5Z" fill="#ff1200"/><path d="M380.4 112.4L384.4 116.4L380.4 120.4L376.4 116.4Z" fill="#ff1200"/><path d="M397.9 112.4L401.9 116.4L397.9 120.4L393.9 116.4Z" fill="#ff1200"/><path d="M370.8 115.8L374.8 119.8L370.8 123.8L366.8 119.8Z" fill="#ff1200"/><path d="M384.1 115.5L388.1 119.5L384.1 123.5L380.1 119.5Z" fill="#ff1200"/><path d="M392.4 115.8L396.4 119.8L392.4 123.8L388.4 119.8Z" fill="#ff1200"/><path d="M394.7 115.9L398.7 119.9L394.7 123.9L390.7 119.9Z" fill="#ff1200"/><path d="M402.1 113.9L406.1 117.9L402.1 121.9L398.1 117.9Z" fill="#ff1200"/><path d="M411.1 115.7L415.1 119.7L411.1 123.7L407.1 119.7Z" fill="#ff1200"/><path d="M424.6 113.7L428.6 117.7L424.6 121.7L420.6 117.7Z" fill="#ff1200"/><path d="M364.6 119.0L368.6 123.0L364.6 127.0L360.6 123.0Z" fill="#ff1200"/><path d="M373.5 119.3L377.5 123.3L373.5 127.3L369.5 123.3Z" fill="#ff1200"/><path d="M380.5 116.9L384.5 120.9L380.5 124.9L376.5 120.9Z" fill="#ff1200"/><path d="M426.9 117.1L430.9 121.1L426.9 125.1L422.9 121.1Z" fill="#ff1200"/><path d="M365.8 120.1L369.8 124.1L365.8 128.1L361.8 124.1Z" fill="#ff1200"/><path d="M381.6 121.0L385.6 125.0L381.6 129.0L377.6 125.0Z" fill="#ff1200"/><path d="M383.7 122.6L387.7 126.6L383.7 130.6L379.7 126.6Z" fill="#ff1200"/><path d="M394.6 120.1L398.6 124.1L394.6 128.1L390.6 124.1Z" fill="#ff1200"/><path d="M406.8 122.0L410.8 126.0L406.8 130.0L402.8 126.0Z" fill="#ff1200"/><path d="M431.1 119.6L435.1 123.6L431.1 127.6L427.1 123.6Z" fill="#ff1200"/><path d="M370.3 124.0L374.3 128.0L370.3 132.0L366.3 128.0Z" fill="#ff1200"/><path d="M388.2 122.8L392.2 126.8L388.2 130.8L384.2 126.8Z" fill="#ff1200"/><path d="M400.5 122.9L404.5 126.9L400.5 130.9L396.5 126.9Z" fill="#ff1200"/><path d="M364.2 127.0L368.2 131.0L364.2 135.0L360.2 131.0Z" fill="#ff1200"/><path d="M369.7 126.8L373.7 130.8L369.7 134.8L365.7 130.8Z" fill="#ff1200"/><path d="M411.7 126.5L415.7 130.5L411.7 134.5L407.7 130.5Z" fill="#ff1200"/><path d="M423.2 127.1L427.2 131.1L423.2 135.1L419.2 131.1Z" fill="#ff1200"/><path d="M427.4 127.9L431.4 131.9L427.4 135.9L423.4 131.9Z" fill="#ff1200"/><path d="M360.6 129.4L364.6 133.4L360.6 137.4L356.6 133.4Z" fill="#ff1200"/><path d="M370.8 131.1L374.8 135.1L370.8 139.1L366.8 135.1Z" fill="#ff1200"/><path d="M388.1 129.3L392.1 133.3L388.1 137.3L384.1 133.3Z" fill="#ff1200"/><path d="M405.1 129.5L409.1 133.5L405.1 137.5L401.1 133.5Z" fill="#ff1200"/><path d="M416.8 131.6L420.8 135.6L416.8 139.6L412.8 135.6Z" fill="#ff1200"/><path d="M349.2 131.5L353.2 135.5L349.2 139.5L345.2 135.5Z" fill="#ff1200"/><path d="M370.9 133.1L374.9 137.1L370.9 141.1L366.9 137.1Z" fill="#ff1200"/><path d="M382.0 134.4L386.0 138.4L382.0 142.4L378.0 138.4Z" fill="#ff1200"/><path d="M402.2 131.8L406.2 135.8L402.2 139.8L398.2 135.8Z" fill="#ff1200"/><path d="M415.6 133.4L419.6 137.4L415.6 141.4L411.6 137.4Z" fill="#ff1200"/><path d="M421.5 132.6L425.5 136.6L421.5 140.6L417.5 136.6Z" fill="#ff1200"/><path d="M424.1 134.6L428.1 138.6L424.1 142.6L420.1 138.6Z" fill="#ff1200"/><path d="M375.2 134.9L379.2 138.9L375.2 142.9L371.2 138.9Z" fill="#ff1200"/><path d="M385.5 135.5L389.5 139.5L385.5 143.5L381.5 139.5Z" fill="#ff1200"/><path d="M389.0 136.0L393.0 140.0L389.0 144.0L385.0 140.0Z" fill="#ff1200"/><path d="M411.8 135.5L415.8 139.5L411.8 143.5L407.8 139.5Z" fill="#ff1200"/><path d="M364.3 138.1L368.3 142.1L364.3 146.1L360.3 142.1Z" fill="#ff1200"/><path d="M368.5 139.5L372.5 143.5L368.5 147.5L364.5 143.5Z" fill="#ff1200"/><path d="M387.3 139.5L391.3 143.5L387.3 147.5L383.3 143.5Z" fill="#ff1200"/><path d="M397.1 139.1L401.1 143.1L397.1 147.1L393.1 143.1Z" fill="#ff1200"/><path d="M398.9 138.9L402.9 142.9L398.9 146.9L394.9 142.9Z" fill="#ff1200"/><path d="M402.0 140.4L406.0 144.4L402.0 148.4L398.0 144.4Z" fill="#ff1200"/><path d="M413.4 138.6L417.4 142.6L413.4 146.6L409.4 142.6Z" fill="#ff1200"/><path d="M361.5 141.9L365.5 145.9L361.5 149.9L357.5 145.9Z" fill="#ff1200"/><path d="M380.0 143.3L384.0 147.3L380.0 151.3L376.0 147.3Z" fill="#ff1200"/><path d="M383.5 143.6L387.5 147.6L383.5 151.6L379.5 147.6Z" fill="#ff1200"/><path d="M393.9 143.3L397.9 147.3L393.9 151.3L389.9 147.3Z" fill="#ff1200"/><path d="M345.1 143.6L349.1 147.6L345.1 151.6L341.1 147.6Z" fill="#ff1200"/><path d="M359.9 144.6L363.9 148.6L359.9 152.6L355.9 148.6Z" fill="#ff1200"/><path d="M362.3 146.5L366.3 150.5L362.3 154.5L358.3 150.5Z" fill="#ff1200"/><path d="M368.4 145.3L372.4 149.3L368.4 153.3L364.4 149.3Z" fill="#ff1200"/><path d="M388.2 146.0L392.2 150.0L388.2 154.0L384.2 150.0Z" fill="#ff1200"/><path d="M395.5 144.0L399.5 148.0L395.5 152.0L391.5 148.0Z" fill="#ff1200"/><path d="M399.9 145.3L403.9 149.3L399.9 153.3L395.9 149.3Z" fill="#ff1200"/><path d="M346.5 149.2L350.5 153.2L346.5 157.2L342.5 153.2Z" fill="#ff1200"/><path d="M356.8 146.8L360.8 150.8L356.8 154.8L352.8 150.8Z" fill="#ff1200"/><path d="M363.9 149.2L367.9 153.2L363.9 157.2L359.9 153.2Z" fill="#ff1200"/><path d="M373.6 148.8L377.6 152.8L373.6 156.8L369.6 152.8Z" fill="#ff1200"/><path d="M375.8 149.1L379.8 153.1L375.8 157.1L371.8 153.1Z" fill="#ff1200"/><path d="M380.7 146.9L384.7 150.9L380.7 154.9L376.7 150.9Z" fill="#ff1200"/><path d="M396.1 146.5L400.1 150.5L396.1 154.5L392.1 150.5Z" fill="#ff1200"/><path d="M355.1 151.6L359.1 155.6L355.1 159.6L351.1 155.6Z" fill="#ff1200"/><path d="M361.9 151.0L365.9 155.0L361.9 159.0L357.9 155.0Z" fill="#ff1200"/><path d="M374.8 151.4L378.8 155.4L374.8 159.4L370.8 155.4Z" fill="#ff1200"/><path d="M379.1 150.6L383.1 154.6L379.1 158.6L375.1 154.6Z" fill="#ff1200"/><path d="M379.8 151.1L383.8 155.1L379.8 159.1L375.8 155.1Z" fill="#ff1200"/><path d="M382.4 151.2L386.4 155.2L382.4 159.2L378.4 155.2Z" fill="#ff1200"/><path d="M388.5 151.3L392.5 155.3L388.5 159.3L384.5 155.3Z" fill="#ff1200"/><path d="M392.5 151.0L396.5 155.0L392.5 159.0L388.5 155.0Z" fill="#ff1200"/><path d="M319.5 155.3L323.5 159.3L319.5 163.3L315.5 159.3Z" fill="#ff1200"/><path d="M363.2 155.3L367.2 159.3L363.2 163.3L359.2 159.3Z" fill="#ff1200"/><path d="M383.3 154.9L387.3 158.9L383.3 162.9L379.3 158.9Z" fill="#ff1200"/><path d="M389.9 155.1L393.9 159.1L389.9 163.1L385.9 159.1Z" fill="#ff1200"/><path d="M348.0 156.3L352.0 160.3L348.0 164.3L344.0 160.3Z" fill="#ff1200"/><path d="M351.3 155.6L355.3 159.6L351.3 163.6L347.3 159.6Z" fill="#ff1200"/><path d="M365.8 156.3L369.8 160.3L365.8 164.3L361.8 160.3Z" fill="#ff1200"/><path d="M380.6 156.1L384.6 160.1L380.6 164.1L376.6 160.1Z" fill="#ff1200"/><path d="M340.5 160.6L344.5 164.6L340.5 168.6L336.5 164.6Z" fill="#ff1200"/><path d="M345.7 160.2L349.7 164.2L345.7 168.2L341.7 164.2Z" fill="#ff1200"/><path d="M360.7 160.8L364.7 164.8L360.7 168.8L356.7 164.8Z" fill="#ff1200"/><path d="M362.9 158.7L366.9 162.7L362.9 166.7L358.9 162.7Z" fill="#ff1200"/><path d="M369.2 161.1L373.2 165.1L369.2 169.1L365.2 165.1Z" fill="#ff1200"/><path d="M373.5 159.9L377.5 163.9L373.5 167.9L369.5 163.9Z" fill="#ff1200"/><path d="M376.5 159.5L380.5 163.5L376.5 167.5L372.5 163.5Z" fill="#ff1200"/><path d="M385.9 160.5L389.9 164.5L385.9 168.5L381.9 164.5Z" fill="#ff1200"/><path d="M312.4 163.9L316.4 167.9L312.4 171.9L308.4 167.9Z" fill="#ff1200"/><path d="M322.5 161.6L326.5 165.6L322.5 169.6L318.5 165.6Z" fill="#ff1200"/><path d="M344.9 163.3L348.9 167.3L344.9 171.3L340.9 167.3Z" fill="#ff1200"/><path d="M347.3 163.4L351.3 167.4L347.3 171.4L343.3 167.4Z" fill="#ff1200"/><path d="M350.7 161.6L354.7 165.6L350.7 169.6L346.7 165.6Z" fill="#ff1200"/><path d="M378.0 163.3L382.0 167.3L378.0 171.3L374.0 167.3Z" fill="#ff1200"/><path d="M309.8 167.5L313.8 171.5L309.8 175.5L305.8 171.5Z" fill="#ff1200"/><path d="M346.3 164.8L350.3 168.8L346.3 172.8L342.3 168.8Z" fill="#ff1200"/><path d="M358.2 164.8L362.2 168.8L358.2 172.8L354.2 168.8Z" fill="#ff1200"/><path d="M366.1 164.6L370.1 168.6L366.1 172.6L362.1 168.6Z" fill="#ff1200"/><path d="M368.8 167.1L372.8 171.1L368.8 175.1L364.8 171.1Z" fill="#ff1200"/><path d="M373.5 164.5L377.5 168.5L373.5 172.5L369.5 168.5Z" fill="#ff1200"/><path d="M384.7 164.7L388.7 168.7L384.7 172.7L380.7 168.7Z" fill="#ff1200"/><path d="M332.8 168.6L336.8 172.6L332.8 176.6L328.8 172.6Z" fill="#ff1200"/><path d="M336.4 170.2L340.4 174.2L336.4 178.2L332.4 174.2Z" fill="#ff1200"/><path d="M343.6 170.3L347.6 174.3L343.6 178.3L339.6 174.3Z" fill="#ff1200"/><path d="M368.3 167.6L372.3 171.6L368.3 175.6L364.3 171.6Z" fill="#ff1200"/><path d="M317.8 170.7L321.8 174.7L317.8 178.7L313.8 174.7Z" fill="#ff1200"/><path d="M341.5 172.7L345.5 176.7L341.5 180.7L337.5 176.7Z" fill="#ff1200"/><path d="M352.3 171.8L356.3 175.8L352.3 179.8L348.3 175.8Z" fill="#ff1200"/><path d="M360.6 170.6L364.6 174.6L360.6 178.6L356.6 174.6Z" fill="#ff1200"/><path d="M367.0 171.5L371.0 175.5L367.0 179.5L363.0 175.5Z" fill="#ff1200"/><path d="M380.9 171.8L384.9 175.8L380.9 179.8L376.9 175.8Z" fill="#ff1200"/><path d="M328.9 174.4L332.9 178.4L328.9 182.4L324.9 178.4Z" fill="#ff1200"/><path d="M336.5 175.8L340.5 179.8L336.5 183.8L332.5 179.8Z" fill="#ff1200"/><path d="M344.1 173.8L348.1 177.8L344.1 181.8L340.1 177.8Z" fill="#ff1200"/><path d="M347.3 173.7L351.3 177.7L347.3 181.7L343.3 177.7Z" fill="#ff1200"/><path d="M362.3 175.0L366.3 179.0L362.3 183.0L358.3 179.0Z" fill="#ff1200"/><path d="M331.3 178.3L335.3 182.3L331.3 186.3L327.3 182.3Z" fill="#ff1200"/><path d="M342.3 177.3L346.3 181.3L342.3 185.3L338.3 181.3Z" fill="#ff1200"/><path d="M350.6 177.9L354.6 181.9L350.6 185.9L346.6 181.9Z" fill="#ff1200"/><path d="M355.3 178.8L359.3 182.8L355.3 186.8L351.3 182.8Z" fill="#ff1200"/><path d="M362.3 178.7L366.3 182.7L362.3 186.7L358.3 182.7Z" fill="#ff1200"/><path d="M375.5 179.1L379.5 183.1L375.5 187.1L371.5 183.1Z" fill="#ff1200"/><path d="M317.9 180.6L321.9 184.6L317.9 188.6L313.9 184.6Z" fill="#ff1200"/><path d="M323.8 182.3L327.8 186.3L323.8 190.3L319.8 186.3Z" fill="#ff1200"/><path d="M378.3 179.6L382.3 183.6L378.3 187.6L374.3 183.6Z" fill="#ff1200"/><path d="M312.2 184.9L316.2 188.9L312.2 192.9L308.2 188.9Z" fill="#ff1200"/><path d="M317.8 183.6L321.8 187.6L317.8 191.6L313.8 187.6Z" fill="#ff1200"/><path d="M323.6 183.1L327.6 187.1L323.6 191.1L319.6 187.1Z" fill="#ff1200"/><path d="M338.9 184.9L342.9 188.9L338.9 192.9L334.9 188.9Z" fill="#ff1200"/><path d="M363.8 182.8L367.8 186.8L363.8 190.8L359.8 186.8Z" fill="#ff1200"/><path d="M356.4 186.5L360.4 190.5L356.4 194.5L352.4 190.5Z" fill="#ff1200"/><path d="M359.8 186.8L363.8 190.8L359.8 194.8L355.8 190.8Z" fill="#ff1200"/><path d="M311.9 189.1L315.9 193.1L311.9 197.1L307.9 193.1Z" fill="#ff1200"/><path d="M319.1 190.9L323.1 194.9L319.1 198.9L315.1 194.9Z" fill="#ff1200"/><path d="M323.7 188.4L327.7 192.4L323.7 196.4L319.7 192.4Z" fill="#ff1200"/><path d="M354.9 188.5L358.9 192.5L354.9 196.5L350.9 192.5Z" fill="#ff1200"/><path d="M360.6 188.6L364.6 192.6L360.6 196.6L356.6 192.6Z" fill="#ff1200"/><path d="M372.0 189.3L376.0 193.3L372.0 197.3L368.0 193.3Z" fill="#ff1200"/><path d="M310.8 193.8L314.8 197.8L310.8 201.8L306.8 197.8Z" fill="#ff1200"/><path d="M315.6 193.9L319.6 197.9L315.6 201.9L311.6 197.9Z" fill="#ff1200"/><path d="M322.0 193.9L326.0 197.9L322.0 201.9L318.0 197.9Z" fill="#ff1200"/><path d="M329.9 194.5L333.9 198.5L329.9 202.5L325.9 198.5Z" fill="#ff1200"/><path d="M355.5 192.8L359.5 196.8L355.5 200.8L351.5 196.8Z" fill="#ff1200"/><path d="M367.4 192.8L371.4 196.8L367.4 200.8L363.4 196.8Z" fill="#ff1200"/><path d="M307.6 195.3L311.6 199.3L307.6 203.3L303.6 199.3Z" fill="#ff1200"/><path d="M314.2 195.9L318.2 199.9L314.2 203.9L310.2 199.9Z" fill="#ff1200"/><path d="M325.9 195.1L329.9 199.1L325.9 203.1L321.9 199.1Z" fill="#ff1200"/><path d="M339.7 197.4L343.7 201.4L339.7 205.4L335.7 201.4Z" fill="#ff1200"/><path d="M360.8 197.3L364.8 201.3L360.8 205.3L356.8 201.3Z" fill="#ff1200"/><path d="M342.2 200.1L346.2 204.1L342.2 208.1L338.2 204.1Z" fill="#ff1200"/><path d="M348.4 199.6L352.4 203.6L348.4 207.6L344.4 203.6Z" fill="#ff1200"/><path d="M361.5 198.9L365.5 202.9L361.5 206.9L357.5 202.9Z" fill="#ff1200"/><path d="M370.6 200.5L374.6 204.5L370.6 208.5L366.6 204.5Z" fill="#ff1200"/><path d="M308.0 202.2L312.0 206.2L308.0 210.2L304.0 206.2Z" fill="#ff1200"/><path d="M322.2 203.1L326.2 207.1L322.2 211.1L318.2 207.1Z" fill="#ff1200"/><path d="M362.3 203.6L366.3 207.6L362.3 211.6L358.3 207.6Z" fill="#ff1200"/><path d="M334.4 203.8L338.4 207.8L334.4 211.8L330.4 207.8Z" fill="#ff1200"/><path d="M349.9 203.8L353.9 207.8L349.9 211.8L345.9 207.8Z" fill="#ff1200"/><path d="M363.1 205.2L367.1 209.2L363.1 213.2L359.1 209.2Z" fill="#ff1200"/><path d="M322.9 207.1L326.9 211.1L322.9 215.1L318.9 211.1Z" fill="#ff1200"/><path d="M326.0 207.4L330.0 211.4L326.0 215.4L322.0 211.4Z" fill="#ff1200"/><path d="M338.5 209.4L342.5 213.4L338.5 217.4L334.5 213.4Z" fill="#ff1200"/><path d="M348.0 208.8L352.0 212.8L348.0 216.8L344.0 212.8Z" fill="#ff1200"/><path d="M353.6 207.6L357.6 211.6L353.6 215.6L349.6 211.6Z" fill="#ff1200"/><path d="M356.6 209.1L360.6 213.1L356.6 217.1L352.6 213.1Z" fill="#ff1200"/><path d="M364.5 208.3L368.5 212.3L364.5 216.3L360.5 212.3Z" fill="#ff1200"/><path d="M333.6 211.8L337.6 215.8L333.6 219.8L329.6 215.8Z" fill="#ff1200"/><path d="M354.1 210.3L358.1 214.3L354.1 218.3L350.1 214.3Z" fill="#ff1200"/><path d="M356.4 212.2L360.4 216.2L356.4 220.2L352.4 216.2Z" fill="#ff1200"/><path d="M365.6 211.6L369.6 215.6L365.6 219.6L361.6 215.6Z" fill="#ff1200"/><path d="M306.2 213.0L310.2 217.0L306.2 221.0L302.2 217.0Z" fill="#ff1200"/><path d="M310.8 215.6L314.8 219.6L310.8 223.6L306.8 219.6Z" fill="#ff1200"/><path d="M315.5 217.3L319.5 221.3L315.5 225.3L311.5 221.3Z" fill="#ff1200"/><path d="M318.0 216.6L322.0 220.6L318.0 224.6L314.0 220.6Z" fill="#ff1200"/><path d="M353.1 217.0L357.1 221.0L353.1 225.0L349.1 221.0Z" fill="#ff1200"/><path d="M319.6 221.0L323.6 225.0L319.6 229.0L315.6 225.0Z" fill="#ff1200"/><path d="M350.4 218.8L354.4 222.8L350.4 226.8L346.4 222.8Z" fill="#ff1200"/><path d="M355.4 219.4L359.4 223.4L355.4 227.4L351.4 223.4Z" fill="#ff1200"/><path d="M305.2 221.6L309.2 225.6L305.2 229.6L301.2 225.6Z" fill="#ff1200"/><path d="M332.5 221.7L336.5 225.7L332.5 229.7L328.5 225.7Z" fill="#ff1200"/><path d="M337.3 221.8L341.3 225.8L337.3 229.8L333.3 225.8Z" fill="#ff1200"/><path d="M353.9 222.2L357.9 226.2L353.9 230.2L349.9 226.2Z" fill="#ff1200"/><path d="M320.7 226.6L324.7 230.6L320.7 234.6L316.7 230.6Z" fill="#ff1200"/><path d="M328.6 226.2L332.6 230.2L328.6 234.2L324.6 230.2Z" fill="#ff1200"/><path d="M338.3 225.7L342.3 229.7L338.3 233.7L334.3 229.7Z" fill="#ff1200"/><path d="M304.0 229.0L308.0 233.0L304.0 237.0L300.0 233.0Z" fill="#ff1200"/><path d="M308.1 227.5L312.1 231.5L308.1 235.5L304.1 231.5Z" fill="#ff1200"/><path d="M311.0 227.7L315.0 231.7L311.0 235.7L307.0 231.7Z" fill="#ff1200"/><path d="M317.6 229.9L321.6 233.9L317.6 237.9L313.6 233.9Z" fill="#ff1200"/><path d="M326.4 230.1L330.4 234.1L326.4 238.1L322.4 234.1Z" fill="#ff1200"/><path d="M329.5 228.1L333.5 232.1L329.5 236.1L325.5 232.1Z" fill="#ff1200"/><path d="M338.1 227.6L342.1 231.6L338.1 235.6L334.1 231.6Z" fill="#ff1200"/><path d="M342.6 228.1L346.6 232.1L342.6 236.1L338.6 232.1Z" fill="#ff1200"/><path d="M353.7 228.6L357.7 232.6L353.7 236.6L349.7 232.6Z" fill="#ff1200"/><path d="M309.2 232.6L313.2 236.6L309.2 240.6L305.2 236.6Z" fill="#ff1200"/><path d="M315.8 233.3L319.8 237.3L315.8 241.3L311.8 237.3Z" fill="#ff1200"/><path d="M312.3 233.6L316.3 237.6L312.3 241.6L308.3 237.6Z" fill="#ff1200"/><path d="M319.8 233.7L323.8 237.7L319.8 241.7L315.8 237.7Z" fill="#ff1200"/><path d="M330.0 234.9L334.0 238.9L330.0 242.9L326.0 238.9Z" fill="#ff1200"/><path d="M334.1 235.5L338.1 239.5L334.1 243.5L330.1 239.5Z" fill="#ff1200"/><path d="M319.7 238.4L323.7 242.4L319.7 246.4L315.7 242.4Z" fill="#ff1200"/><path d="M327.7 237.3L331.7 241.3L327.7 245.3L323.7 241.3Z" fill="#ff1200"/><path d="M333.8 237.4L337.8 241.4L333.8 245.4L329.8 241.4Z" fill="#ff1200"/><path d="M340.6 237.3L344.6 241.3L340.6 245.3L336.6 241.3Z" fill="#ff1200"/><path d="M346.5 238.2L350.5 242.2L346.5 246.2L342.5 242.2Z" fill="#ff1200"/><path d="M356.8 239.2L360.8 243.2L356.8 247.2L352.8 243.2Z" fill="#ff1200"/><path d="M316.7 240.0L320.7 244.0L316.7 248.0L312.7 244.0Z" fill="#ff1200"/><path d="M335.6 242.6L339.6 246.6L335.6 250.6L331.6 246.6Z" fill="#ff1200"/><path d="M350.5 240.3L354.5 244.3L350.5 248.3L346.5 244.3Z" fill="#ff1200"/><path d="M357.6 239.6L361.6 243.6L357.6 247.6L353.6 243.6Z" fill="#ff1200"/><path d="M362.0 240.4L366.0 244.4L362.0 248.4L358.0 244.4Z" fill="#ff1200"/><path d="M304.0 245.2L308.0 249.2L304.0 253.2L300.0 249.2Z" fill="#ff1200"/><path d="M313.1 243.1L317.1 247.1L313.1 251.1L309.1 247.1Z" fill="#ff1200"/><path d="M325.8 244.8L329.8 248.8L325.8 252.8L321.8 248.8Z" fill="#ff1200"/><path d="M328.7 245.4L332.7 249.4L328.7 253.4L324.7 249.4Z" fill="#ff1200"/><path d="M339.8 243.4L343.8 247.4L339.8 251.4L335.8 247.4Z" fill="#ff1200"/><path d="M342.1 243.5L346.1 247.5L342.1 251.5L338.1 247.5Z" fill="#ff1200"/><path d="M346.2 243.3L350.2 247.3L346.2 251.3L342.2 247.3Z" fill="#ff1200"/><path d="M319.4 248.4L323.4 252.4L319.4 256.4L315.4 252.4Z" fill="#ff1200"/><path d="M322.9 247.3L326.9 251.3L322.9 255.3L318.9 251.3Z" fill="#ff1200"/><path d="M330.7 247.3L334.7 251.3L330.7 255.3L326.7 251.3Z" fill="#ff1200"/><path d="M336.4 246.4L340.4 250.4L336.4 254.4L332.4 250.4Z" fill="#ff1200"/><path d="M358.2 247.0L362.2 251.0L358.2 255.0L354.2 251.0Z" fill="#ff1200"/><path d="M318.8 251.3L322.8 255.3L318.8 259.3L314.8 255.3Z" fill="#ff1200"/><path d="M326.6 250.0L330.6 254.0L326.6 258.0L322.6 254.0Z" fill="#ff1200"/><path d="M349.3 248.8L353.3 252.8L349.3 256.8L345.3 252.8Z" fill="#ff1200"/><path d="M353.7 250.4L357.7 254.4L353.7 258.4L349.7 254.4Z" fill="#ff1200"/><path d="M304.3 252.6L308.3 256.6L304.3 260.6L300.3 256.6Z" fill="#ff1200"/><path d="M313.6 253.5L317.6 257.5L313.6 261.5L309.6 257.5Z" fill="#ff1200"/><path d="M314.0 251.6L318.0 255.6L314.0 259.6L310.0 255.6Z" fill="#ff1200"/><path d="M325.2 252.9L329.2 256.9L325.2 260.9L321.2 256.9Z" fill="#ff1200"/><path d="M330.9 251.5L334.9 255.5L330.9 259.5L326.9 255.5Z" fill="#ff1200"/><path d="M337.5 252.3L341.5 256.3L337.5 260.3L333.5 256.3Z" fill="#ff1200"/><path d="M338.2 253.9L342.2 257.9L338.2 261.9L334.2 257.9Z" fill="#ff1200"/><path d="M355.2 253.2L359.2 257.2L355.2 261.2L351.2 257.2Z" fill="#ff1200"/><path d="M308.6 256.4L312.6 260.4L308.6 264.4L304.6 260.4Z" fill="#ff1200"/><path d="M311.3 254.8L315.3 258.8L311.3 262.8L307.3 258.8Z" fill="#ff1200"/><path d="M319.5 255.1L323.5 259.1L319.5 263.1L315.5 259.1Z" fill="#ff1200"/><path d="M335.1 256.0L339.1 260.0L335.1 264.0L331.1 260.0Z" fill="#ff1200"/><path d="M337.8 257.2L341.8 261.2L337.8 265.2L333.8 261.2Z" fill="#ff1200"/><path d="M344.2 257.0L348.2 261.0L344.2 265.0L340.2 261.0Z" fill="#ff1200"/><path d="M349.6 254.9L353.6 258.9L349.6 262.9L345.6 258.9Z" fill="#ff1200"/><path d="M353.3 255.2L357.3 259.2L353.3 263.2L349.3 259.2Z" fill="#ff1200"/><path d="M316.4 260.1L320.4 264.1L316.4 268.1L312.4 264.1Z" fill="#ff1200"/><path d="M325.1 260.0L329.1 264.0L325.1 268.0L321.1 264.0Z" fill="#ff1200"/><path d="M325.6 259.3L329.6 263.3L325.6 267.3L321.6 263.3Z" fill="#ff1200"/><path d="M347.2 260.4L351.2 264.4L347.2 268.4L343.2 264.4Z" fill="#ff1200"/><path d="M308.6 263.6L312.6 267.6L308.6 271.6L304.6 267.6Z" fill="#ff1200"/><path d="M315.3 261.8L319.3 265.8L315.3 269.8L311.3 265.8Z" fill="#ff1200"/><path d="M329.0 261.2L333.0 265.2L329.0 269.2L325.0 265.2Z" fill="#ff1200"/><path d="M333.0 263.1L337.0 267.1L333.0 271.1L329.0 267.1Z" fill="#ff1200"/><path d="M339.4 262.7L343.4 266.7L339.4 270.7L335.4 266.7Z" fill="#ff1200"/><path d="M342.5 261.2L346.5 265.2L342.5 269.2L338.5 265.2Z" fill="#ff1200"/><path d="M314.1 266.2L318.1 270.2L314.1 274.2L310.1 270.2Z" fill="#ff1200"/><path d="M322.2 265.4L326.2 269.4L322.2 273.4L318.2 269.4Z" fill="#ff1200"/><path d="M318.2 269.4L322.2 273.4L318.2 277.4L314.2 273.4Z" fill="#ff1200"/><path d="M321.5 267.6L325.5 271.6L321.5 275.6L317.5 271.6Z" fill="#ff1200"/><path d="M322.7 267.3L326.7 271.3L322.7 275.3L318.7 271.3Z" fill="#ff1200"/><path d="M343.5 267.0L347.5 271.0L343.5 275.0L339.5 271.0Z" fill="#ff1200"/><path d="M315.3 270.8L319.3 274.8L315.3 278.8L311.3 274.8Z" fill="#ff1200"/><path d="M319.1 270.2L323.1 274.2L319.1 278.2L315.1 274.2Z" fill="#ff1200"/><path d="M329.3 270.2L333.3 274.2L329.3 278.2L325.3 274.2Z" fill="#ff1200"/><path d="M332.5 270.1L336.5 274.1L332.5 278.1L328.5 274.1Z" fill="#ff1200"/><path d="M339.1 269.5L343.1 273.5L339.1 277.5L335.1 273.5Z" fill="#ff1200"/><path d="M315.0 274.3L319.0 278.3L315.0 282.3L311.0 278.3Z" fill="#ff1200"/><path d="M318.9 275.2L322.9 279.2L318.9 283.2L314.9 279.2Z" fill="#ff1200"/><path d="M321.0 275.4L325.0 279.4L321.0 283.4L317.0 279.4Z" fill="#ff1200"/><path d="M322.4 274.2L326.4 278.2L322.4 282.2L318.4 278.2Z" fill="#ff1200"/><path d="M331.5 275.2L335.5 279.2L331.5 283.2L327.5 279.2Z" fill="#ff1200"/><path d="M305.9 277.3L309.9 281.3L305.9 285.3L301.9 281.3Z" fill="#ff1200"/><path d="M328.6 276.3L332.6 280.3L328.6 284.3L324.6 280.3Z" fill="#ff1200"/><path d="M313.7 279.9L317.7 283.9L313.7 287.9L309.7 283.9Z" fill="#ff1200"/><path d="M324.5 280.4L328.5 284.4L324.5 288.4L320.5 284.4Z" fill="#ff1200"/><path d="M311.4 282.4L315.4 286.4L311.4 290.4L307.4 286.4Z" fill="#ff1200"/><path d="M325.7 283.9L329.7 287.9L325.7 291.9L321.7 287.9Z" fill="#ff1200"/><path d="M321.5 286.0L325.5 290.0L321.5 294.0L317.5 290.0Z" fill="#ff1200"/><path d="M382.6 237.5L386.6 241.5L382.6 245.5L378.6 241.5Z" fill="#ff1200"/><path d="M384.3 240.0L388.3 244.0L384.3 248.0L380.3 244.0Z" fill="#ff1200"/><path d="M382.9 240.2L386.9 244.2L382.9 248.2L378.9 244.2Z" fill="#ff1200"/><path d="M382.0 253.7L386.0 257.7L382.0 261.7L378.0 257.7Z" fill="#ff1200"/><path d="M375.3 245.3L379.3 249.3L375.3 253.3L371.3 249.3Z" fill="#ff1200"/><path d="M374.5 252.0L378.5 256.0L374.5 260.0L370.5 256.0Z" fill="#ff1200"/><path d="M370.2 248.6L374.2 252.6L370.2 256.6L366.2 252.6Z" fill="#ff1200"/><path d="M361.8 258.8L365.8 262.8L361.8 266.8L357.8 262.8Z" fill="#ff1200"/><path d="M359.3 265.5L363.3 269.5L359.3 273.5L355.3 269.5Z" fill="#ff1200"/><path d="M365.2 265.5L369.2 269.5L365.2 273.5L361.2 269.5Z" fill="#ff1200"/><path d="M351.7 295.0L355.7 299.0L351.7 303.0L347.7 299.0Z" fill="#ff1200"/><path d="M357.6 304.3L361.6 308.3L357.6 312.3L353.6 308.3Z" fill="#ff1200"/><path d="M311.0 291.5L315.0 295.5L311.0 299.5L307.0 295.5Z" fill="#ff1200"/><path d="M339.7 298.3L343.7 302.3L339.7 306.3L335.7 302.3Z" fill="#ff1200"/><path d="M345.6 296.6L349.6 300.6L345.6 304.6L341.6 300.6Z" fill="#ff1200"/><path d="M350.7 295.7L354.7 299.7L350.7 303.7L346.7 299.7Z" fill="#ff1200"/><path d="M347.3 301.6L351.3 305.6L347.3 309.6L343.3 305.6Z" fill="#ff1200"/><path d="M356.6 305.0L360.6 309.0L356.6 313.0L352.6 309.0Z" fill="#ff1200"/><path d="M352.4 312.6L356.4 316.6L352.4 320.6L348.4 316.6Z" fill="#ff1200"/><path d="M276.3 265.5L280.3 269.5L276.3 273.5L272.3 269.5Z" fill="#ff1200"/><path d="M374.0 246.3L378.0 250.3L374.0 254.3L370.0 250.3Z" fill="#ff1200"/><path d="M377.0 244.3L381.0 248.3L377.0 252.3L373.0 248.3Z" fill="#ff1200"/><path d="M382.0 253.5L386.0 257.5L382.0 261.5L378.0 257.5Z" fill="#ff1200"/><path d="M383.2 240.2L387.2 244.2L383.2 248.2L379.2 244.2Z" fill="#ff1200"/><path d="M382.0 236.0L386.0 240.0L382.0 244.0L378.0 240.0Z" fill="#ff1200"/><path d="M361.7 259.6L365.7 263.6L361.7 267.6L357.7 263.6Z" fill="#ff1200"/><path d="M359.7 265.8L363.7 269.8L359.7 273.8L355.7 269.8Z" fill="#ff1200"/><path d="M354.5 265.8L358.5 269.8L354.5 273.8L350.5 269.8Z" fill="#ff1200"/><path d="M365.8 282.0L369.8 286.0L365.8 290.0L361.8 286.0Z" fill="#ff1200"/><path d="M368.0 251.0L372.0 255.0L368.0 259.0L364.0 255.0Z" fill="#ff1200"/><path d="M366.0 258.0L370.0 262.0L366.0 266.0L362.0 262.0Z" fill="#ff1200"/><path d="M351.0 258.0L355.0 262.0L351.0 266.0L347.0 262.0Z" fill="#ff1200"/><path d="M382.0 237.0L386.0 241.0L382.0 245.0L378.0 241.0Z" fill="#ff1200"/><path d="M383.0 240.6L387.0 244.6L383.0 248.6L379.0 244.6Z" fill="#ff1200"/><path d="M405.6 98.0L409.6 102.0L405.6 106.0L401.6 102.0Z" fill="#ff0000"/><path d="M399.9 101.8L403.9 105.8L399.9 109.8L395.9 105.8Z" fill="#ff0000"/><path d="M408.9 103.1L412.9 107.1L408.9 111.1L404.9 107.1Z" fill="#ff0000"/><path d="M411.3 103.0L415.3 107.0L411.3 111.0L407.3 107.0Z" fill="#ff0000"/><path d="M383.5 105.5L387.5 109.5L383.5 113.5L379.5 109.5Z" fill="#ff0000"/><path d="M401.0 106.0L405.0 110.0L401.0 114.0L397.0 110.0Z" fill="#ff0000"/><path d="M384.9 110.6L388.9 114.6L384.9 118.6L380.9 114.6Z" fill="#ff0000"/><path d="M407.0 107.7L411.0 111.7L407.0 115.7L403.0 111.7Z" fill="#ff0000"/><path d="M417.8 107.5L421.8 111.5L417.8 115.5L413.8 111.5Z" fill="#ff0000"/><path d="M374.4 113.5L378.4 117.5L374.4 121.5L370.4 117.5Z" fill="#ff0000"/><path d="M387.6 111.9L391.6 115.9L387.6 119.9L383.6 115.9Z" fill="#ff0000"/><path d="M402.4 111.3L406.4 115.3L402.4 119.3L398.4 115.3Z" fill="#ff0000"/><path d="M408.0 110.8L412.0 114.8L408.0 118.8L404.0 114.8Z" fill="#ff0000"/><path d="M413.1 111.9L417.1 115.9L413.1 119.9L409.1 115.9Z" fill="#ff0000"/><path d="M417.3 111.8L421.3 115.8L417.3 119.8L413.3 115.8Z" fill="#ff0000"/><path d="M375.1 113.5L379.1 117.5L375.1 121.5L371.1 117.5Z" fill="#ff0000"/><path d="M379.5 114.7L383.5 118.7L379.5 122.7L375.5 118.7Z" fill="#ff0000"/><path d="M390.2 115.0L394.2 119.0L390.2 123.0L386.2 119.0Z" fill="#ff0000"/><path d="M398.8 114.8L402.8 118.8L398.8 122.8L394.8 118.8Z" fill="#ff0000"/><path d="M404.7 114.1L408.7 118.1L404.7 122.1L400.7 118.1Z" fill="#ff0000"/><path d="M406.5 114.6L410.5 118.6L406.5 122.6L402.5 118.6Z" fill="#ff0000"/><path d="M368.1 119.3L372.1 123.3L368.1 127.3L364.1 123.3Z" fill="#ff0000"/><path d="M377.4 119.1L381.4 123.1L377.4 127.1L373.4 123.1Z" fill="#ff0000"/><path d="M386.4 117.2L390.4 121.2L386.4 125.2L382.4 121.2Z" fill="#ff0000"/><path d="M391.9 117.0L395.9 121.0L391.9 125.0L387.9 121.0Z" fill="#ff0000"/><path d="M402.7 117.2L406.7 121.2L402.7 125.2L398.7 121.2Z" fill="#ff0000"/><path d="M371.2 122.2L375.2 126.2L371.2 130.2L367.2 126.2Z" fill="#ff0000"/><path d="M397.6 119.5L401.6 123.5L397.6 127.5L393.6 123.5Z" fill="#ff0000"/><path d="M400.9 119.6L404.9 123.6L400.9 127.6L396.9 123.6Z" fill="#ff0000"/><path d="M421.6 120.4L425.6 124.4L421.6 128.4L417.6 124.4Z" fill="#ff0000"/><path d="M366.3 123.7L370.3 127.7L366.3 131.7L362.3 127.7Z" fill="#ff0000"/><path d="M382.0 125.5L386.0 129.5L382.0 133.5L378.0 129.5Z" fill="#ff0000"/><path d="M389.2 125.3L393.2 129.3L389.2 133.3L385.2 129.3Z" fill="#ff0000"/><path d="M403.2 123.4L407.2 127.4L403.2 131.4L399.2 127.4Z" fill="#ff0000"/><path d="M406.8 124.7L410.8 128.7L406.8 132.7L402.8 128.7Z" fill="#ff0000"/><path d="M418.9 124.9L422.9 128.9L418.9 132.9L414.9 128.9Z" fill="#ff0000"/><path d="M423.4 122.8L427.4 126.8L423.4 130.8L419.4 126.8Z" fill="#ff0000"/><path d="M428.3 124.9L432.3 128.9L428.3 132.9L424.3 128.9Z" fill="#ff0000"/><path d="M360.4 126.5L364.4 130.5L360.4 134.5L356.4 130.5Z" fill="#ff0000"/><path d="M367.2 126.0L371.2 130.0L367.2 134.0L363.2 130.0Z" fill="#ff0000"/><path d="M371.1 126.8L375.1 130.8L371.1 134.8L367.1 130.8Z" fill="#ff0000"/><path d="M395.5 127.7L399.5 131.7L395.5 135.7L391.5 131.7Z" fill="#ff0000"/><path d="M398.5 126.8L402.5 130.8L398.5 134.8L394.5 130.8Z" fill="#ff0000"/><path d="M401.1 126.7L405.1 130.7L401.1 134.7L397.1 130.7Z" fill="#ff0000"/><path d="M404.8 127.0L408.8 131.0L404.8 135.0L400.8 131.0Z" fill="#ff0000"/><path d="M419.4 127.7L423.4 131.7L419.4 135.7L415.4 131.7Z" fill="#ff0000"/><path d="M362.1 128.5L366.1 132.5L362.1 136.5L358.1 132.5Z" fill="#ff0000"/><path d="M368.6 129.7L372.6 133.7L368.6 137.7L364.6 133.7Z" fill="#ff0000"/><path d="M350.8 132.6L354.8 136.6L350.8 140.6L346.8 136.6Z" fill="#ff0000"/><path d="M356.3 133.4L360.3 137.4L356.3 141.4L352.3 137.4Z" fill="#ff0000"/><path d="M364.8 132.3L368.8 136.3L364.8 140.3L360.8 136.3Z" fill="#ff0000"/><path d="M374.6 133.8L378.6 137.8L374.6 141.8L370.6 137.8Z" fill="#ff0000"/><path d="M408.2 134.2L412.2 138.2L408.2 142.2L404.2 138.2Z" fill="#ff0000"/><path d="M411.5 134.5L415.5 138.5L411.5 142.5L407.5 138.5Z" fill="#ff0000"/><path d="M345.1 135.6L349.1 139.6L345.1 143.6L341.1 139.6Z" fill="#ff0000"/><path d="M360.6 134.9L364.6 138.9L360.6 142.9L356.6 138.9Z" fill="#ff0000"/><path d="M361.7 135.1L365.7 139.1L361.7 143.1L357.7 139.1Z" fill="#ff0000"/><path d="M365.3 135.6L369.3 139.6L365.3 143.6L361.3 139.6Z" fill="#ff0000"/><path d="M378.3 134.6L382.3 138.6L378.3 142.6L374.3 138.6Z" fill="#ff0000"/><path d="M379.9 136.9L383.9 140.9L379.9 144.9L375.9 140.9Z" fill="#ff0000"/><path d="M387.9 135.1L391.9 139.1L387.9 143.1L383.9 139.1Z" fill="#ff0000"/><path d="M392.1 136.5L396.1 140.5L392.1 144.5L388.1 140.5Z" fill="#ff0000"/><path d="M394.9 135.9L398.9 139.9L394.9 143.9L390.9 139.9Z" fill="#ff0000"/><path d="M406.4 137.2L410.4 141.2L406.4 145.2L402.4 141.2Z" fill="#ff0000"/><path d="M421.1 136.0L425.1 140.0L421.1 144.0L417.1 140.0Z" fill="#ff0000"/><path d="M357.4 139.4L361.4 143.4L357.4 147.4L353.4 143.4Z" fill="#ff0000"/><path d="M371.2 139.6L375.2 143.6L371.2 147.6L367.2 143.6Z" fill="#ff0000"/><path d="M389.1 140.3L393.1 144.3L389.1 148.3L385.1 144.3Z" fill="#ff0000"/><path d="M391.8 138.5L395.8 142.5L391.8 146.5L387.8 142.5Z" fill="#ff0000"/><path d="M407.5 137.5L411.5 141.5L407.5 145.5L403.5 141.5Z" fill="#ff0000"/><path d="M419.0 137.7L423.0 141.7L419.0 145.7L415.0 141.7Z" fill="#ff0000"/><path d="M340.3 143.1L344.3 147.1L340.3 151.1L336.3 147.1Z" fill="#ff0000"/><path d="M343.1 143.0L347.1 147.0L343.1 151.0L339.1 147.0Z" fill="#ff0000"/><path d="M374.8 142.3L378.8 146.3L374.8 150.3L370.8 146.3Z" fill="#ff0000"/><path d="M379.3 143.1L383.3 147.1L379.3 151.1L375.3 147.1Z" fill="#ff0000"/><path d="M391.4 142.5L395.4 146.5L391.4 150.5L387.4 146.5Z" fill="#ff0000"/><path d="M405.4 140.9L409.4 144.9L405.4 148.9L401.4 144.9Z" fill="#ff0000"/><path d="M408.8 140.8L412.8 144.8L408.8 148.8L404.8 144.8Z" fill="#ff0000"/><path d="M348.9 146.0L352.9 150.0L348.9 154.0L344.9 150.0Z" fill="#ff0000"/><path d="M351.8 143.6L355.8 147.6L351.8 151.6L347.8 147.6Z" fill="#ff0000"/><path d="M366.8 143.5L370.8 147.5L366.8 151.5L362.8 147.5Z" fill="#ff0000"/><path d="M373.5 145.2L377.5 149.2L373.5 153.2L369.5 149.2Z" fill="#ff0000"/><path d="M367.9 148.2L371.9 152.2L367.9 156.2L363.9 152.2Z" fill="#ff0000"/><path d="M378.9 149.4L382.9 153.4L378.9 157.4L374.9 153.4Z" fill="#ff0000"/><path d="M373.1 149.4L377.1 153.4L373.1 157.4L369.1 153.4Z" fill="#ff0000"/><path d="M381.1 153.0L385.1 157.0L381.1 161.0L377.1 157.0Z" fill="#ff0000"/><path d="M368.5 156.4L372.5 160.4L368.5 164.4L364.5 160.4Z" fill="#ff0000"/><path d="M372.5 158.4L376.5 162.4L372.5 166.4L368.5 162.4Z" fill="#ff0000"/><path d="M378.6 155.7L382.6 159.7L378.6 163.7L374.6 159.7Z" fill="#ff0000"/><path d="M349.1 160.4L353.1 164.4L349.1 168.4L345.1 164.4Z" fill="#ff0000"/><path d="M354.8 158.4L358.8 162.4L354.8 166.4L350.8 162.4Z" fill="#ff0000"/><path d="M342.3 162.4L346.3 166.4L342.3 170.4L338.3 166.4Z" fill="#ff0000"/><path d="M357.4 163.2L361.4 167.2L357.4 171.2L353.4 167.2Z" fill="#ff0000"/><path d="M362.4 163.6L366.4 167.6L362.4 171.6L358.4 167.6Z" fill="#ff0000"/><path d="M369.2 162.1L373.2 166.1L369.2 170.1L365.2 166.1Z" fill="#ff0000"/><path d="M376.2 164.5L380.2 168.5L376.2 172.5L372.2 168.5Z" fill="#ff0000"/><path d="M380.6 162.4L384.6 166.4L380.6 170.4L376.6 166.4Z" fill="#ff0000"/><path d="M386.1 164.4L390.1 168.4L386.1 172.4L382.1 168.4Z" fill="#ff0000"/><path d="M336.6 167.2L340.6 171.2L336.6 175.2L332.6 171.2Z" fill="#ff0000"/><path d="M338.7 165.5L342.7 169.5L338.7 173.5L334.7 169.5Z" fill="#ff0000"/><path d="M348.8 167.1L352.8 171.1L348.8 175.1L344.8 171.1Z" fill="#ff0000"/><path d="M385.7 164.5L389.7 168.5L385.7 172.5L381.7 168.5Z" fill="#ff0000"/><path d="M348.8 170.3L352.8 174.3L348.8 178.3L344.8 174.3Z" fill="#ff0000"/><path d="M349.7 169.1L353.7 173.1L349.7 177.1L345.7 173.1Z" fill="#ff0000"/><path d="M356.5 170.0L360.5 174.0L356.5 178.0L352.5 174.0Z" fill="#ff0000"/><path d="M359.7 170.3L363.7 174.3L359.7 178.3L355.7 174.3Z" fill="#ff0000"/><path d="M382.1 169.2L386.1 173.2L382.1 177.2L378.1 173.2Z" fill="#ff0000"/><path d="M345.4 170.9L349.4 174.9L345.4 178.9L341.4 174.9Z" fill="#ff0000"/><path d="M355.5 173.2L359.5 177.2L355.5 181.2L351.5 177.2Z" fill="#ff0000"/><path d="M368.1 173.0L372.1 177.0L368.1 181.0L364.1 177.0Z" fill="#ff0000"/><path d="M327.1 175.7L331.1 179.7L327.1 183.7L323.1 179.7Z" fill="#ff0000"/><path d="M332.9 175.8L336.9 179.8L332.9 183.8L328.9 179.8Z" fill="#ff0000"/><path d="M368.6 174.5L372.6 178.5L368.6 182.5L364.6 178.5Z" fill="#ff0000"/><path d="M372.6 174.3L376.6 178.3L372.6 182.3L368.6 178.3Z" fill="#ff0000"/><path d="M376.6 174.2L380.6 178.2L376.6 182.2L372.6 178.2Z" fill="#ff0000"/><path d="M380.8 176.1L384.8 180.1L380.8 184.1L376.8 180.1Z" fill="#ff0000"/><path d="M320.0 178.3L324.0 182.3L320.0 186.3L316.0 182.3Z" fill="#ff0000"/><path d="M339.6 176.9L343.6 180.9L339.6 184.9L335.6 180.9Z" fill="#ff0000"/><path d="M355.5 178.5L359.5 182.5L355.5 186.5L351.5 182.5Z" fill="#ff0000"/><path d="M376.7 177.1L380.7 181.1L376.7 185.1L372.7 181.1Z" fill="#ff0000"/><path d="M321.7 182.1L325.7 186.1L321.7 190.1L317.7 186.1Z" fill="#ff0000"/><path d="M338.9 181.8L342.9 185.8L338.9 189.8L334.9 185.8Z" fill="#ff0000"/><path d="M346.5 180.4L350.5 184.4L346.5 188.4L342.5 184.4Z" fill="#ff0000"/><path d="M373.3 181.4L377.3 185.4L373.3 189.4L369.3 185.4Z" fill="#ff0000"/><path d="M315.6 182.5L319.6 186.5L315.6 190.5L311.6 186.5Z" fill="#ff0000"/><path d="M327.0 182.6L331.0 186.6L327.0 190.6L323.0 186.6Z" fill="#ff0000"/><path d="M328.6 182.9L332.6 186.9L328.6 190.9L324.6 186.9Z" fill="#ff0000"/><path d="M332.0 183.3L336.0 187.3L332.0 191.3L328.0 187.3Z" fill="#ff0000"/><path d="M357.6 185.0L361.6 189.0L357.6 193.0L353.6 189.0Z" fill="#ff0000"/><path d="M371.9 184.1L375.9 188.1L371.9 192.1L367.9 188.1Z" fill="#ff0000"/><path d="M326.0 187.7L330.0 191.7L326.0 195.7L322.0 191.7Z" fill="#ff0000"/><path d="M336.7 187.0L340.7 191.0L336.7 195.0L332.7 191.0Z" fill="#ff0000"/><path d="M341.1 187.9L345.1 191.9L341.1 195.9L337.1 191.9Z" fill="#ff0000"/><path d="M352.3 187.0L356.3 191.0L352.3 195.0L348.3 191.0Z" fill="#ff0000"/><path d="M353.1 187.7L357.1 191.7L353.1 195.7L349.1 191.7Z" fill="#ff0000"/><path d="M366.1 186.3L370.1 190.3L366.1 194.3L362.1 190.3Z" fill="#ff0000"/><path d="M319.7 189.1L323.7 193.1L319.7 197.1L315.7 193.1Z" fill="#ff0000"/><path d="M346.8 188.6L350.8 192.6L346.8 196.6L342.8 192.6Z" fill="#ff0000"/><path d="M364.0 189.0L368.0 193.0L364.0 197.0L360.0 193.0Z" fill="#ff0000"/><path d="M370.5 190.3L374.5 194.3L370.5 198.3L366.5 194.3Z" fill="#ff0000"/><path d="M374.2 189.4L378.2 193.4L374.2 197.4L370.2 193.4Z" fill="#ff0000"/><path d="M324.2 193.8L328.2 197.8L324.2 201.8L320.2 197.8Z" fill="#ff0000"/><path d="M344.6 193.5L348.6 197.5L344.6 201.5L340.6 197.5Z" fill="#ff0000"/><path d="M353.4 194.5L357.4 198.5L353.4 202.5L349.4 198.5Z" fill="#ff0000"/><path d="M361.6 192.7L365.6 196.7L361.6 200.7L357.6 196.7Z" fill="#ff0000"/><path d="M313.0 194.4L317.0 198.4L313.0 202.4L309.0 198.4Z" fill="#ff0000"/><path d="M319.6 195.3L323.6 199.3L319.6 203.3L315.6 199.3Z" fill="#ff0000"/><path d="M342.6 196.2L346.6 200.2L342.6 204.2L338.6 200.2Z" fill="#ff0000"/><path d="M357.9 197.5L361.9 201.5L357.9 205.5L353.9 201.5Z" fill="#ff0000"/><path d="M322.3 200.5L326.3 204.5L322.3 208.5L318.3 204.5Z" fill="#ff0000"/><path d="M327.0 199.4L331.0 203.4L327.0 207.4L323.0 203.4Z" fill="#ff0000"/><path d="M343.6 200.4L347.6 204.4L343.6 208.4L339.6 204.4Z" fill="#ff0000"/><path d="M350.4 200.3L354.4 204.3L350.4 208.3L346.4 204.3Z" fill="#ff0000"/><path d="M353.3 200.6L357.3 204.6L353.3 208.6L349.3 204.6Z" fill="#ff0000"/><path d="M313.6 203.1L317.6 207.1L313.6 211.1L309.6 207.1Z" fill="#ff0000"/><path d="M314.1 201.8L318.1 205.8L314.1 209.8L310.1 205.8Z" fill="#ff0000"/><path d="M318.9 202.7L322.9 206.7L318.9 210.7L314.9 206.7Z" fill="#ff0000"/><path d="M324.3 203.3L328.3 207.3L324.3 211.3L320.3 207.3Z" fill="#ff0000"/><path d="M326.1 201.6L330.1 205.6L326.1 209.6L322.1 205.6Z" fill="#ff0000"/><path d="M342.4 202.4L346.4 206.4L342.4 210.4L338.4 206.4Z" fill="#ff0000"/><path d="M334.0 205.9L338.0 209.9L334.0 213.9L330.0 209.9Z" fill="#ff0000"/><path d="M340.3 204.8L344.3 208.8L340.3 212.8L336.3 208.8Z" fill="#ff0000"/><path d="M344.5 204.9L348.5 208.9L344.5 212.9L340.5 208.9Z" fill="#ff0000"/><path d="M366.3 204.2L370.3 208.2L366.3 212.2L362.3 208.2Z" fill="#ff0000"/><path d="M368.2 204.4L372.2 208.4L368.2 212.4L364.2 208.4Z" fill="#ff0000"/><path d="M332.0 208.0L336.0 212.0L332.0 216.0L328.0 212.0Z" fill="#ff0000"/><path d="M336.7 209.5L340.7 213.5L336.7 217.5L332.7 213.5Z" fill="#ff0000"/><path d="M351.2 206.4L355.2 210.4L351.2 214.4L347.2 210.4Z" fill="#ff0000"/><path d="M360.1 208.9L364.1 212.9L360.1 216.9L356.1 212.9Z" fill="#ff0000"/><path d="M327.2 212.2L331.2 216.2L327.2 220.2L323.2 216.2Z" fill="#ff0000"/><path d="M344.0 211.3L348.0 215.3L344.0 219.3L340.0 215.3Z" fill="#ff0000"/><path d="M349.3 211.3L353.3 215.3L349.3 219.3L345.3 215.3Z" fill="#ff0000"/><path d="M327.7 212.6L331.7 216.6L327.7 220.6L323.7 216.6Z" fill="#ff0000"/><path d="M334.1 212.9L338.1 216.9L334.1 220.9L330.1 216.9Z" fill="#ff0000"/><path d="M342.8 215.4L346.8 219.4L342.8 223.4L338.8 219.4Z" fill="#ff0000"/><path d="M321.6 216.9L325.6 220.9L321.6 224.9L317.6 220.9Z" fill="#ff0000"/><path d="M344.8 216.6L348.8 220.6L344.8 224.6L340.8 220.6Z" fill="#ff0000"/><path d="M358.2 217.6L362.2 221.6L358.2 225.6L354.2 221.6Z" fill="#ff0000"/><path d="M336.2 219.7L340.2 223.7L336.2 227.7L332.2 223.7Z" fill="#ff0000"/><path d="M345.1 219.0L349.1 223.0L345.1 227.0L341.1 223.0Z" fill="#ff0000"/><path d="M349.2 219.1L353.2 223.1L349.2 227.1L345.2 223.1Z" fill="#ff0000"/><path d="M356.2 220.8L360.2 224.8L356.2 228.8L352.2 224.8Z" fill="#ff0000"/><path d="M319.4 223.7L323.4 227.7L319.4 231.7L315.4 227.7Z" fill="#ff0000"/><path d="M324.8 222.4L328.8 226.4L324.8 230.4L320.8 226.4Z" fill="#ff0000"/><path d="M328.5 224.0L332.5 228.0L328.5 232.0L324.5 228.0Z" fill="#ff0000"/><path d="M352.2 224.0L356.2 228.0L352.2 232.0L348.2 228.0Z" fill="#ff0000"/><path d="M319.5 226.8L323.5 230.8L319.5 234.8L315.5 230.8Z" fill="#ff0000"/><path d="M327.3 226.5L331.3 230.5L327.3 234.5L323.3 230.5Z" fill="#ff0000"/><path d="M337.6 225.3L341.6 229.3L337.6 233.3L333.6 229.3Z" fill="#ff0000"/><path d="M348.4 226.7L352.4 230.7L348.4 234.7L344.4 230.7Z" fill="#ff0000"/><path d="M352.3 225.6L356.3 229.6L352.3 233.6L348.3 229.6Z" fill="#ff0000"/><path d="M355.4 227.1L359.4 231.1L355.4 235.1L351.4 231.1Z" fill="#ff0000"/><path d="M322.9 228.8L326.9 232.8L322.9 236.8L318.9 232.8Z" fill="#ff0000"/><path d="M333.0 229.2L337.0 233.2L333.0 237.2L329.0 233.2Z" fill="#ff0000"/><path d="M350.3 229.0L354.3 233.0L350.3 237.0L346.3 233.0Z" fill="#ff0000"/><path d="M319.0 231.9L323.0 235.9L319.0 239.9L315.0 235.9Z" fill="#ff0000"/><path d="M324.3 233.3L328.3 237.3L324.3 241.3L320.3 237.3Z" fill="#ff0000"/><path d="M347.6 233.2L351.6 237.2L347.6 241.2L343.6 237.2Z" fill="#ff0000"/><path d="M350.8 231.9L354.8 235.9L350.8 239.9L346.8 235.9Z" fill="#ff0000"/><path d="M353.3 231.3L357.3 235.3L353.3 239.3L349.3 235.3Z" fill="#ff0000"/><path d="M336.4 233.6L340.4 237.6L336.4 241.6L332.4 237.6Z" fill="#ff0000"/><path d="M339.5 233.6L343.5 237.6L339.5 241.6L335.5 237.6Z" fill="#ff0000"/><path d="M344.5 234.4L348.5 238.4L344.5 242.4L340.5 238.4Z" fill="#ff0000"/><path d="M348.0 234.8L352.0 238.8L348.0 242.8L344.0 238.8Z" fill="#ff0000"/><path d="M336.7 238.1L340.7 242.1L336.7 246.1L332.7 242.1Z" fill="#ff0000"/><path d="M338.3 237.6L342.3 241.6L338.3 245.6L334.3 241.6Z" fill="#ff0000"/><path d="M352.2 238.2L356.2 242.2L352.2 246.2L348.2 242.2Z" fill="#ff0000"/><path d="M354.3 238.5L358.3 242.5L354.3 246.5L350.3 242.5Z" fill="#ff0000"/><path d="M319.5 239.6L323.5 243.6L319.5 247.6L315.5 243.6Z" fill="#ff0000"/><path d="M323.8 241.1L327.8 245.1L323.8 249.1L319.8 245.1Z" fill="#ff0000"/><path d="M341.9 239.6L345.9 243.6L341.9 247.6L337.9 243.6Z" fill="#ff0000"/><path d="M346.4 241.3L350.4 245.3L346.4 249.3L342.4 245.3Z" fill="#ff0000"/><path d="M347.4 240.7L351.4 244.7L347.4 248.7L343.4 244.7Z" fill="#ff0000"/><path d="M353.3 240.4L357.3 244.4L353.3 248.4L349.3 244.4Z" fill="#ff0000"/><path d="M315.9 245.2L319.9 249.2L315.9 253.2L311.9 249.2Z" fill="#ff0000"/><path d="M337.5 245.5L341.5 249.5L337.5 253.5L333.5 249.5Z" fill="#ff0000"/><path d="M354.9 243.4L358.9 247.4L354.9 251.4L350.9 247.4Z" fill="#ff0000"/><path d="M359.3 245.3L363.3 249.3L359.3 253.3L355.3 249.3Z" fill="#ff0000"/><path d="M320.5 247.1L324.5 251.1L320.5 255.1L316.5 251.1Z" fill="#ff0000"/><path d="M343.5 246.5L347.5 250.5L343.5 254.5L339.5 250.5Z" fill="#ff0000"/><path d="M347.2 245.8L351.2 249.8L347.2 253.8L343.2 249.8Z" fill="#ff0000"/><path d="M322.2 248.7L326.2 252.7L322.2 256.7L318.2 252.7Z" fill="#ff0000"/><path d="M322.5 249.9L326.5 253.9L322.5 257.9L318.5 253.9Z" fill="#ff0000"/><path d="M334.6 248.4L338.6 252.4L334.6 256.4L330.6 252.4Z" fill="#ff0000"/><path d="M335.4 248.5L339.4 252.5L335.4 256.5L331.4 252.5Z" fill="#ff0000"/><path d="M331.5 251.6L335.5 255.6L331.5 259.6L327.5 255.6Z" fill="#ff0000"/><path d="M348.2 254.1L352.2 258.1L348.2 262.1L344.2 258.1Z" fill="#ff0000"/><path d="M321.2 256.5L325.2 260.5L321.2 264.5L317.2 260.5Z" fill="#ff0000"/><path d="M330.1 257.6L334.1 261.6L330.1 265.6L326.1 261.6Z" fill="#ff0000"/><path d="M332.3 257.0L336.3 261.0L332.3 265.0L328.3 261.0Z" fill="#ff0000"/><path d="M346.5 256.8L350.5 260.8L346.5 264.8L342.5 260.8Z" fill="#ff0000"/><path d="M337.1 259.9L341.1 263.9L337.1 267.9L333.1 263.9Z" fill="#ff0000"/><path d="M339.4 257.6L343.4 261.6L339.4 265.6L335.4 261.6Z" fill="#ff0000"/><path d="M340.5 260.5L344.5 264.5L340.5 268.5L336.5 264.5Z" fill="#ff0000"/><path d="M321.8 261.6L325.8 265.6L321.8 269.6L317.8 265.6Z" fill="#ff0000"/><path d="M323.9 263.4L327.9 267.4L323.9 271.4L319.9 267.4Z" fill="#ff0000"/><path d="M348.2 261.3L352.2 265.3L348.2 269.3L344.2 265.3Z" fill="#ff0000"/><path d="M332.5 263.9L336.5 267.9L332.5 271.9L328.5 267.9Z" fill="#ff0000"/><path d="M344.4 266.6L348.4 270.6L344.4 274.6L340.4 270.6Z" fill="#ff0000"/><path d="M325.6 269.4L329.6 273.4L325.6 277.4L321.6 273.4Z" fill="#ff0000"/><path d="M331.1 267.8L335.1 271.8L331.1 275.8L327.1 271.8Z" fill="#ff0000"/><path d="M325.5 271.7L329.5 275.7L325.5 279.7L321.5 275.7Z" fill="#ff0000"/><path d="M327.4 271.9L331.4 275.9L327.4 279.9L323.4 275.9Z" fill="#ff0000"/><path d="M335.7 272.4L339.7 276.4L335.7 280.4L331.7 276.4Z" fill="#ff0000"/><path d="M320.5 278.1L324.5 282.1L320.5 286.1L316.5 282.1Z" fill="#ff0000"/><path d="M332.5 277.7L336.5 281.7L332.5 285.7L328.5 281.7Z" fill="#ff0000"/><path d="M317.2 278.7L321.2 282.7L317.2 286.7L313.2 282.7Z" fill="#ff0000"/><path d="M321.1 279.0L325.1 283.0L321.1 287.0L317.1 283.0Z" fill="#ff0000"/><path d="M437.3 121.8L441.3 125.8L437.3 129.8L433.3 125.8Z" fill="#ff0000"/><path d="M432.3 135.3L436.3 139.3L432.3 143.3L428.3 139.3Z" fill="#ff0000"/><path d="M435.6 140.4L439.6 144.4L435.6 148.4L431.6 144.4Z" fill="#ff0000"/><path d="M438.2 147.1L442.2 151.1L438.2 155.1L434.2 151.1Z" fill="#ff0000"/><path d="M417.1 153.9L421.1 157.9L417.1 161.9L413.1 157.9Z" fill="#ff0000"/><path d="M419.6 170.7L423.6 174.7L419.6 178.7L415.6 174.7Z" fill="#ff0000"/><path d="M410.4 170.7L414.4 174.7L410.4 178.7L406.4 174.7Z" fill="#ff0000"/><path d="M417.6 153.6L421.6 157.6L417.6 161.6L413.6 157.6Z" fill="#ff0000"/><path d="M409.8 170.9L413.8 174.9L409.8 178.9L405.8 174.9Z" fill="#ff0000"/><path d="M420.0 170.0L424.0 174.0L420.0 178.0L416.0 174.0Z" fill="#ff0000"/><path d="M379.0 185.0L383.0 189.0L379.0 193.0L375.0 189.0Z" fill="#ffed00"/><path d="M376.0 192.0L380.0 196.0L376.0 200.0L372.0 196.0Z" fill="#ffdb00"/><path d="M381.0 197.0L385.0 201.0L381.0 205.0L377.0 201.0Z" fill="#ffb600"/><path d="M373.0 199.0L377.0 203.0L373.0 207.0L369.0 203.0Z" fill="#ffa400"/><path d="M310.5 151.0L314.5 155.0L310.5 159.0L306.5 155.0Z" fill="#ffff00"/><path d="M320.0 149.0L324.0 153.0L320.0 157.0L316.0 153.0Z" fill="#ffffff"/><path d="M310.5 159.0L314.5 163.0L310.5 167.0L306.5 163.0Z" fill="#ffffff"/><path d="M319.0 157.0L323.0 161.0L319.0 165.0L315.0 161.0Z" fill="#ffed00"/><path d="M318.5 162.0L322.5 166.0L318.5 170.0L314.5 166.0Z" fill="#ffdb00"/><path d="M304.0 166.8L308.0 170.8L304.0 174.8L300.0 170.8Z" fill="#ffff00"/><path d="M322.0 166.0L326.0 170.0L322.0 174.0L318.0 170.0Z" fill="#ffff80"/><path d="M327.0 154.0L331.0 158.0L327.0 162.0L323.0 158.0Z" fill="#ffff2a"/><path d="M300.0 176.0L304.0 180.0L300.0 184.0L296.0 180.0Z" fill="#ffff00"/><path d="M333.0 148.0L337.0 152.0L333.0 156.0L329.0 152.0Z" fill="#ffffaa"/></g>
<line x1="340" y1="37" x2="340" y2="130" stroke="#000" stroke-width="2"/>
<line x1="340" y1="130" x2="340" y2="192" stroke="#000" stroke-width="1.5" opacity="0.4"/>
<line x1="340" y1="275" x2="340" y2="347" stroke="#000" stroke-width="2"/>
<line x1="400" y1="192" x2="495" y2="192" stroke="#000" stroke-width="2"/>
<g fill="#222" font-family="Liberation Sans, sans-serif" font-size="12"><text x="328" y="104.8" text-anchor="end">3</text><text x="328" y="135.8" text-anchor="end">2</text></g>
<path d="M339.5 185L345 190.5L339.5 196L334 190.5Z" fill="#2a2200" stroke="#000" stroke-width="1" opacity="0.85"/>
<path d="M335 191.5l3 3" stroke="#c8c000" stroke-width="1.2"/><path d="M341 195l2 1" stroke="#a09000" stroke-width="1"/><path d="M336 186l2 -1" stroke="#806000" stroke-width="1"/>
<g fill="#222" font-family="Liberation Sans, sans-serif" font-size="12"><text x="340.0" y="28.9" text-anchor="middle">0°</text><text x="424.1" y="51.4" text-anchor="middle">30°</text><text x="485.8" y="113.0" text-anchor="middle">60°</text><text x="508.3" y="197.2" text-anchor="middle">90°</text><text x="485.8" y="281.3" text-anchor="middle">120°</text><text x="424.1" y="343.0" text-anchor="middle">150°</text><text x="340.0" y="365.5" text-anchor="middle">180°</text><text x="255.8" y="343.0" text-anchor="middle">210°</text><text x="194.2" y="281.4" text-anchor="middle">240°</text><text x="171.7" y="197.2" text-anchor="middle">270°</text><text x="194.2" y="113.0" text-anchor="middle">300°</text><text x="255.8" y="51.4" text-anchor="middle">330°</text></g>
<g stroke="#222" stroke-width="0.9"><path d="M728.4 21.8L732.0 25.4L728.4 29.0L724.8 25.4Z" fill="#ff0000"/><path d="M728.4 35.8L732.0 39.4L728.4 43.0L724.8 39.4Z" fill="#ff1200"/><path d="M728.4 49.8L732.0 53.4L728.4 57.0L724.8 53.4Z" fill="#ff2400"/><path d="M728.4 63.8L732.0 67.4L728.4 71.0L724.8 67.4Z" fill="#ff3700"/><path d="M728.4 77.8L732.0 81.4L728.4 85.0L724.8 81.4Z" fill="#ff4900"/><path d="M728.4 91.8L732.0 95.4L728.4 99.0L724.8 95.4Z" fill="#ff5b00"/><path d="M728.4 105.8L732.0 109.4L728.4 113.0L724.8 109.4Z" fill="#ff6d00"/><path d="M728.4 119.8L732.0 123.4L728.4 127.0L724.8 123.4Z" fill="#ff8000"/><path d="M728.4 133.8L732.0 137.4L728.4 141.0L724.8 137.4Z" fill="#ff9200"/><path d="M728.4 147.8L732.0 151.4L728.4 155.0L724.8 151.4Z" fill="#ffa400"/><path d="M728.4 161.8L732.0 165.4L728.4 169.0L724.8 165.4Z" fill="#ffb600"/><path d="M728.4 175.8L732.0 179.4L728.4 183.0L724.8 179.4Z" fill="#ffc800"/><path d="M728.4 189.8L732.0 193.4L728.4 197.0L724.8 193.4Z" fill="#ffdb00"/><path d="M728.4 203.8L732.0 207.4L728.4 211.0L724.8 207.4Z" fill="#ffed00"/><path d="M728.4 217.8L732.0 221.4L728.4 225.0L724.8 221.4Z" fill="#ffff00"/><path d="M728.4 231.8L732.0 235.4L728.4 239.0L724.8 235.4Z" fill="#ffff15"/><path d="M728.4 245.8L732.0 249.4L728.4 253.0L724.8 249.4Z" fill="#ffff2a"/><path d="M728.4 259.8L732.0 263.4L728.4 267.0L724.8 263.4Z" fill="#ffff40"/><path d="M728.4 273.8L732.0 277.4L728.4 281.0L724.8 277.4Z" fill="#ffff55"/><path d="M728.4 287.8L732.0 291.4L728.4 295.0L724.8 291.4Z" fill="#ffff6a"/><path d="M728.4 301.8L732.0 305.4L728.4 309.0L724.8 305.4Z" fill="#ffff80"/><path d="M728.4 315.8L732.0 319.4L728.4 323.0L724.8 319.4Z" fill="#ffff95"/><path d="M728.4 329.8L732.0 333.4L728.4 337.0L724.8 333.4Z" fill="#ffffaa"/><path d="M728.4 343.8L732.0 347.4L728.4 351.0L724.8 347.4Z" fill="#ffffbf"/><path d="M728.4 357.8L732.0 361.4L728.4 365.0L724.8 361.4Z" fill="#ffffd4"/><path d="M728.4 371.8L732.0 375.4L728.4 379.0L724.8 375.4Z" fill="#ffffea"/><path d="M728.4 385.8L732.0 389.4L728.4 393.0L724.8 389.4Z" fill="#ffffff"/></g>
<g fill="#222" font-family="Liberation Sans, sans-serif" font-size="12"><text x="746" y="29.8">0 - 2 weeks</text><text x="746" y="43.8">2 - 4 weeks</text><text x="746" y="57.8">4 - 6 weeks</text><text x="746" y="71.8">6 - 8 weeks</text><text x="746" y="85.8">8 - 10 weeks</text><text x="746" y="99.8">10 - 12 weeks</text><text x="746" y="113.8">12 - 14 weeks</text><text x="746" y="127.8">14 - 16 weeks</text><text x="746" y="141.8">16 - 18 weeks</text><text x="746" y="155.8">18 - 20 weeks</text><text x="746" y="169.8">20 - 22 weeks</text><text x="746" y="183.8">22 - 24 weeks</text><text x="746" y="197.8">24 - 26 weeks</text><text x="746" y="211.8">26 - 28 weeks</text><text x="746" y="225.8">28 - 30 weeks</text><text x="746" y="239.8">30 - 32 weeks</text><text x="746" y="253.8">32 - 34 weeks</text><text x="746" y="267.8">34 - 36 weeks</text><text x="746" y="281.8">36 - 38 weeks</text><text x="746" y="295.8">38 - 40 weeks</text><text x="746" y="309.8">40 - 42 weeks</text><text x="746" y="323.8">42 - 44 weeks</text><text x="746" y="337.8">44 - 46 weeks</text><text x="746" y="351.8">46 - 48 weeks</text><text x="746" y="365.8">48 - 50 weeks</text><text x="746" y="379.8">50 - 52 weeks</text><text x="746" y="393.8">52 - 54 weeks</text></g>
<text x="245" y="412" fill="#222" font-family="Liberation Sans, sans-serif" font-size="12" textLength="608" lengthAdjust="spacing">West Gabbard 2 WaveNet Site 51°57'.17N 002°06'.54E as at 17:19 29 Dec 2025 (UTC) © Crown Copyright 2025</text>
</svg></body></html>
